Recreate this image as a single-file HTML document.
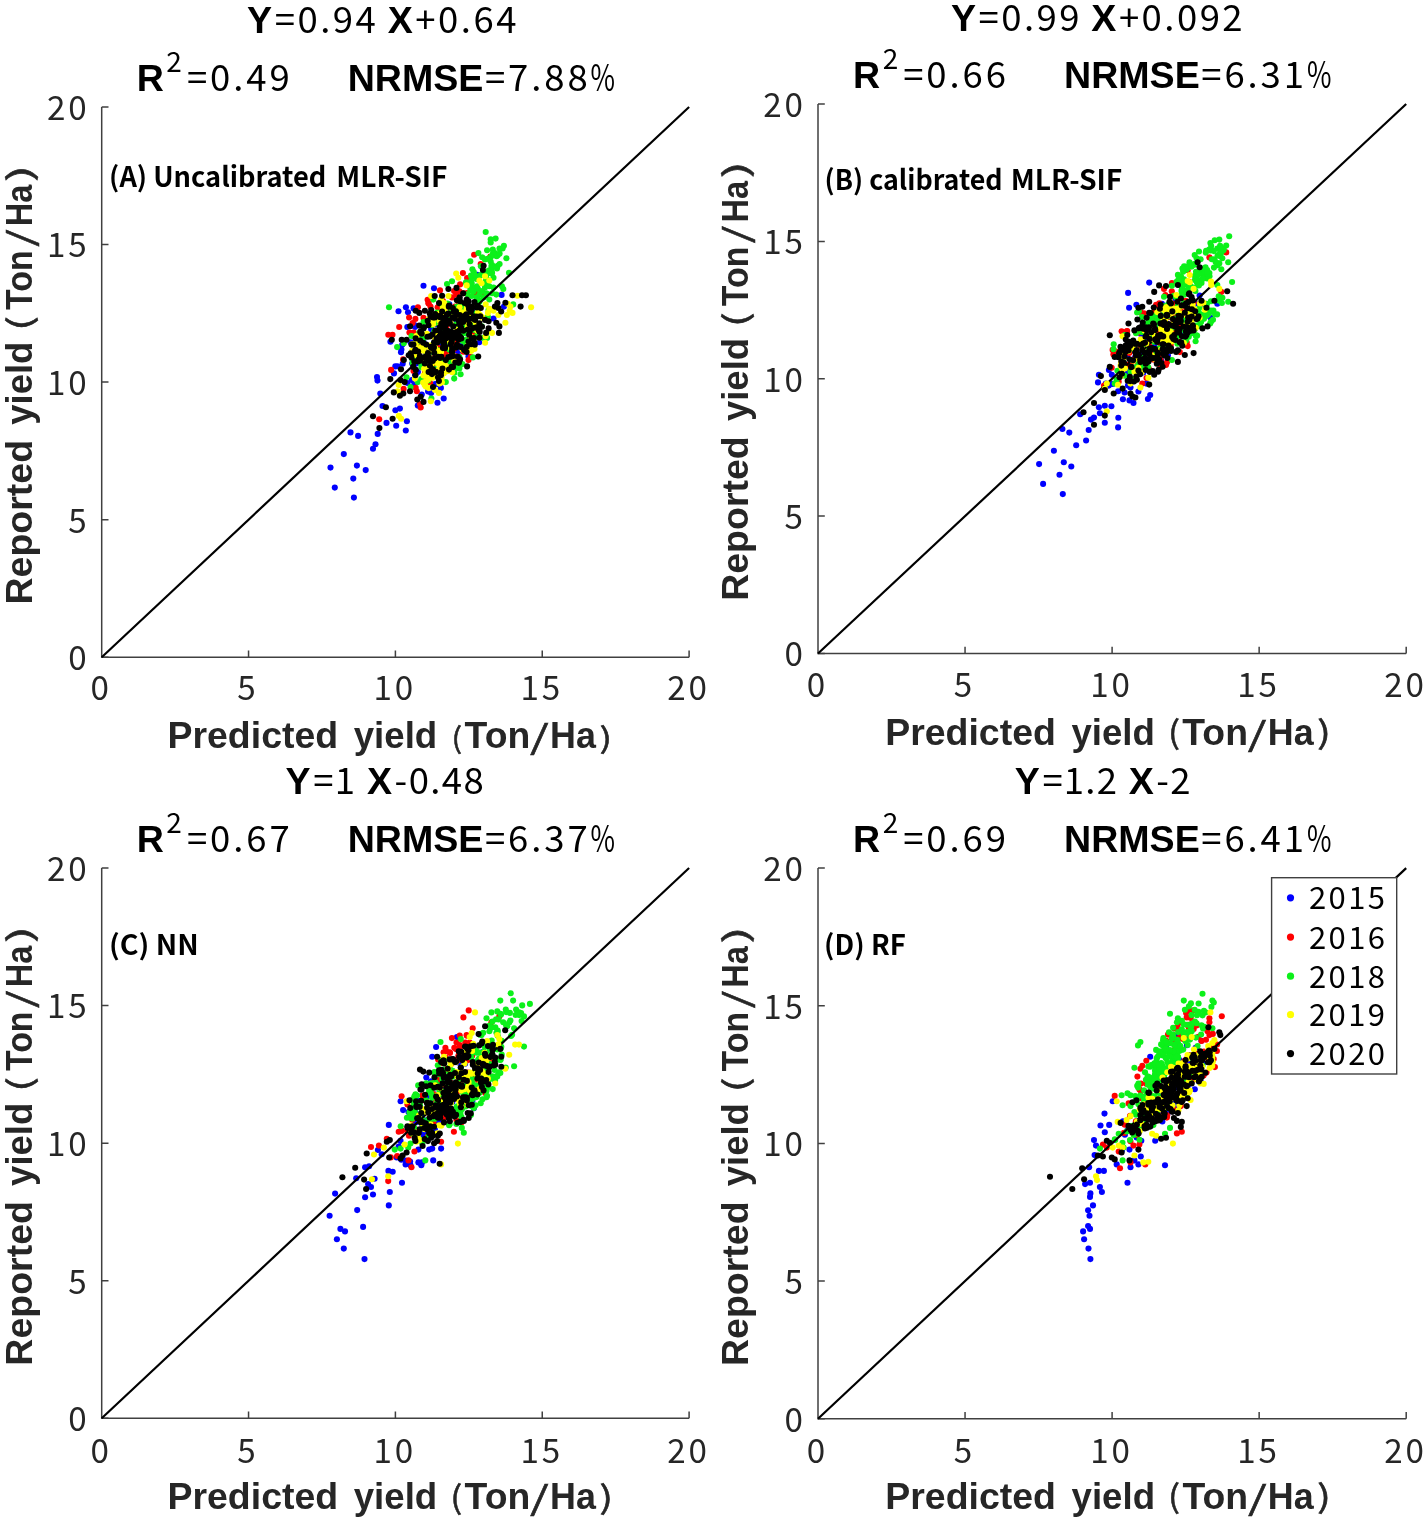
<!DOCTYPE html>
<html lang="en"><head><meta charset="utf-8"><title>Yield scatter plots</title>
<style>html,body{margin:0;padding:0;background:#fff}svg{display:block}</style></head>
<body>
<svg width="1425" height="1520" viewBox="0 0 1425 1520">
<rect width="1425" height="1520" fill="#fff"/>
<path d="M101.7 107.0V657.2H689.1" fill="none" stroke="#404040" stroke-width="1.5"/>
<path d="M101.7 657.20h6.8M248.55 657.2v-6.8M101.7 519.65h6.8M395.40 657.2v-6.8M101.7 382.10h6.8M542.25 657.2v-6.8M101.7 244.55h6.8M689.10 657.2v-6.8M101.7 107.00h6.8" fill="none" stroke="#404040" stroke-width="1.5"/>
<text x="89.50" y="670.10" text-anchor="end" font-family="'Noto Sans CJK JP','DejaVu Sans',sans-serif" font-weight="400" font-size="33.2" letter-spacing="2.8" fill="#262626">0</text>
<text x="101.10" y="700.40" text-anchor="middle" font-family="'Noto Sans CJK JP','DejaVu Sans',sans-serif" font-weight="400" font-size="33.2" letter-spacing="2.8" fill="#262626">0</text>
<text x="89.50" y="532.55" text-anchor="end" font-family="'Noto Sans CJK JP','DejaVu Sans',sans-serif" font-weight="400" font-size="33.2" letter-spacing="2.8" fill="#262626">5</text>
<text x="247.95" y="700.40" text-anchor="middle" font-family="'Noto Sans CJK JP','DejaVu Sans',sans-serif" font-weight="400" font-size="33.2" letter-spacing="2.8" fill="#262626">5</text>
<text x="89.50" y="395.00" text-anchor="end" font-family="'Noto Sans CJK JP','DejaVu Sans',sans-serif" font-weight="400" font-size="33.2" letter-spacing="2.8" fill="#262626">10</text>
<text x="394.80" y="700.40" text-anchor="middle" font-family="'Noto Sans CJK JP','DejaVu Sans',sans-serif" font-weight="400" font-size="33.2" letter-spacing="2.8" fill="#262626">10</text>
<text x="89.50" y="257.45" text-anchor="end" font-family="'Noto Sans CJK JP','DejaVu Sans',sans-serif" font-weight="400" font-size="33.2" letter-spacing="2.8" fill="#262626">15</text>
<text x="541.65" y="700.40" text-anchor="middle" font-family="'Noto Sans CJK JP','DejaVu Sans',sans-serif" font-weight="400" font-size="33.2" letter-spacing="2.8" fill="#262626">15</text>
<text x="89.50" y="119.90" text-anchor="end" font-family="'Noto Sans CJK JP','DejaVu Sans',sans-serif" font-weight="400" font-size="33.2" letter-spacing="2.8" fill="#262626">20</text>
<text x="688.50" y="700.40" text-anchor="middle" font-family="'Noto Sans CJK JP','DejaVu Sans',sans-serif" font-weight="400" font-size="33.2" letter-spacing="2.8" fill="#262626">20</text>
<path d="M818.0 104.0V653.5H1406.2" fill="none" stroke="#404040" stroke-width="1.5"/>
<path d="M818.0 653.50h6.8M965.05 653.5v-6.8M818.0 516.12h6.8M1112.10 653.5v-6.8M818.0 378.75h6.8M1259.15 653.5v-6.8M818.0 241.38h6.8M1406.20 653.5v-6.8M818.0 104.00h6.8" fill="none" stroke="#404040" stroke-width="1.5"/>
<text x="805.80" y="666.40" text-anchor="end" font-family="'Noto Sans CJK JP','DejaVu Sans',sans-serif" font-weight="400" font-size="33.2" letter-spacing="2.8" fill="#262626">0</text>
<text x="817.40" y="696.70" text-anchor="middle" font-family="'Noto Sans CJK JP','DejaVu Sans',sans-serif" font-weight="400" font-size="33.2" letter-spacing="2.8" fill="#262626">0</text>
<text x="805.80" y="529.02" text-anchor="end" font-family="'Noto Sans CJK JP','DejaVu Sans',sans-serif" font-weight="400" font-size="33.2" letter-spacing="2.8" fill="#262626">5</text>
<text x="964.45" y="696.70" text-anchor="middle" font-family="'Noto Sans CJK JP','DejaVu Sans',sans-serif" font-weight="400" font-size="33.2" letter-spacing="2.8" fill="#262626">5</text>
<text x="805.80" y="391.65" text-anchor="end" font-family="'Noto Sans CJK JP','DejaVu Sans',sans-serif" font-weight="400" font-size="33.2" letter-spacing="2.8" fill="#262626">10</text>
<text x="1111.50" y="696.70" text-anchor="middle" font-family="'Noto Sans CJK JP','DejaVu Sans',sans-serif" font-weight="400" font-size="33.2" letter-spacing="2.8" fill="#262626">10</text>
<text x="805.80" y="254.28" text-anchor="end" font-family="'Noto Sans CJK JP','DejaVu Sans',sans-serif" font-weight="400" font-size="33.2" letter-spacing="2.8" fill="#262626">15</text>
<text x="1258.55" y="696.70" text-anchor="middle" font-family="'Noto Sans CJK JP','DejaVu Sans',sans-serif" font-weight="400" font-size="33.2" letter-spacing="2.8" fill="#262626">15</text>
<text x="805.80" y="116.90" text-anchor="end" font-family="'Noto Sans CJK JP','DejaVu Sans',sans-serif" font-weight="400" font-size="33.2" letter-spacing="2.8" fill="#262626">20</text>
<text x="1405.60" y="696.70" text-anchor="middle" font-family="'Noto Sans CJK JP','DejaVu Sans',sans-serif" font-weight="400" font-size="33.2" letter-spacing="2.8" fill="#262626">20</text>
<path d="M101.7 868.0V1418.3H689.1" fill="none" stroke="#404040" stroke-width="1.5"/>
<path d="M101.7 1418.30h6.8M248.55 1418.3v-6.8M101.7 1280.72h6.8M395.40 1418.3v-6.8M101.7 1143.15h6.8M542.25 1418.3v-6.8M101.7 1005.57h6.8M689.10 1418.3v-6.8M101.7 868.00h6.8" fill="none" stroke="#404040" stroke-width="1.5"/>
<text x="89.50" y="1431.20" text-anchor="end" font-family="'Noto Sans CJK JP','DejaVu Sans',sans-serif" font-weight="400" font-size="33.2" letter-spacing="2.8" fill="#262626">0</text>
<text x="101.10" y="1462.50" text-anchor="middle" font-family="'Noto Sans CJK JP','DejaVu Sans',sans-serif" font-weight="400" font-size="33.2" letter-spacing="2.8" fill="#262626">0</text>
<text x="89.50" y="1293.62" text-anchor="end" font-family="'Noto Sans CJK JP','DejaVu Sans',sans-serif" font-weight="400" font-size="33.2" letter-spacing="2.8" fill="#262626">5</text>
<text x="247.95" y="1462.50" text-anchor="middle" font-family="'Noto Sans CJK JP','DejaVu Sans',sans-serif" font-weight="400" font-size="33.2" letter-spacing="2.8" fill="#262626">5</text>
<text x="89.50" y="1156.05" text-anchor="end" font-family="'Noto Sans CJK JP','DejaVu Sans',sans-serif" font-weight="400" font-size="33.2" letter-spacing="2.8" fill="#262626">10</text>
<text x="394.80" y="1462.50" text-anchor="middle" font-family="'Noto Sans CJK JP','DejaVu Sans',sans-serif" font-weight="400" font-size="33.2" letter-spacing="2.8" fill="#262626">10</text>
<text x="89.50" y="1018.47" text-anchor="end" font-family="'Noto Sans CJK JP','DejaVu Sans',sans-serif" font-weight="400" font-size="33.2" letter-spacing="2.8" fill="#262626">15</text>
<text x="541.65" y="1462.50" text-anchor="middle" font-family="'Noto Sans CJK JP','DejaVu Sans',sans-serif" font-weight="400" font-size="33.2" letter-spacing="2.8" fill="#262626">15</text>
<text x="89.50" y="880.90" text-anchor="end" font-family="'Noto Sans CJK JP','DejaVu Sans',sans-serif" font-weight="400" font-size="33.2" letter-spacing="2.8" fill="#262626">20</text>
<text x="688.50" y="1462.50" text-anchor="middle" font-family="'Noto Sans CJK JP','DejaVu Sans',sans-serif" font-weight="400" font-size="33.2" letter-spacing="2.8" fill="#262626">20</text>
<path d="M818.0 868.1V1418.7H1406.2" fill="none" stroke="#404040" stroke-width="1.5"/>
<path d="M818.0 1418.70h6.8M965.05 1418.7v-6.8M818.0 1281.05h6.8M1112.10 1418.7v-6.8M818.0 1143.40h6.8M1259.15 1418.7v-6.8M818.0 1005.75h6.8M1406.20 1418.7v-6.8M818.0 868.10h6.8" fill="none" stroke="#404040" stroke-width="1.5"/>
<text x="805.80" y="1431.60" text-anchor="end" font-family="'Noto Sans CJK JP','DejaVu Sans',sans-serif" font-weight="400" font-size="33.2" letter-spacing="2.8" fill="#262626">0</text>
<text x="817.40" y="1462.50" text-anchor="middle" font-family="'Noto Sans CJK JP','DejaVu Sans',sans-serif" font-weight="400" font-size="33.2" letter-spacing="2.8" fill="#262626">0</text>
<text x="805.80" y="1293.95" text-anchor="end" font-family="'Noto Sans CJK JP','DejaVu Sans',sans-serif" font-weight="400" font-size="33.2" letter-spacing="2.8" fill="#262626">5</text>
<text x="964.45" y="1462.50" text-anchor="middle" font-family="'Noto Sans CJK JP','DejaVu Sans',sans-serif" font-weight="400" font-size="33.2" letter-spacing="2.8" fill="#262626">5</text>
<text x="805.80" y="1156.30" text-anchor="end" font-family="'Noto Sans CJK JP','DejaVu Sans',sans-serif" font-weight="400" font-size="33.2" letter-spacing="2.8" fill="#262626">10</text>
<text x="1111.50" y="1462.50" text-anchor="middle" font-family="'Noto Sans CJK JP','DejaVu Sans',sans-serif" font-weight="400" font-size="33.2" letter-spacing="2.8" fill="#262626">10</text>
<text x="805.80" y="1018.65" text-anchor="end" font-family="'Noto Sans CJK JP','DejaVu Sans',sans-serif" font-weight="400" font-size="33.2" letter-spacing="2.8" fill="#262626">15</text>
<text x="1258.55" y="1462.50" text-anchor="middle" font-family="'Noto Sans CJK JP','DejaVu Sans',sans-serif" font-weight="400" font-size="33.2" letter-spacing="2.8" fill="#262626">15</text>
<text x="805.80" y="881.00" text-anchor="end" font-family="'Noto Sans CJK JP','DejaVu Sans',sans-serif" font-weight="400" font-size="33.2" letter-spacing="2.8" fill="#262626">20</text>
<text x="1405.60" y="1462.50" text-anchor="middle" font-family="'Noto Sans CJK JP','DejaVu Sans',sans-serif" font-weight="400" font-size="33.2" letter-spacing="2.8" fill="#262626">20</text>
<g fill="#0000ff"><circle cx="353.9" cy="497.6" r="3.05"/><circle cx="334.8" cy="487.6" r="3.05"/><circle cx="353.3" cy="478.6" r="3.05"/><circle cx="330.5" cy="467.6" r="3.05"/><circle cx="356.9" cy="465.6" r="3.05"/><circle cx="365.7" cy="470.1" r="3.05"/><circle cx="343.8" cy="454.1" r="3.05"/><circle cx="373.0" cy="448.7" r="3.05"/><circle cx="375.5" cy="444.2" r="3.05"/><circle cx="350.5" cy="432.4" r="3.05"/><circle cx="358.1" cy="435.9" r="3.05"/><circle cx="377.7" cy="433.9" r="3.05"/><circle cx="405.8" cy="430.5" r="3.05"/><circle cx="396.2" cy="425.8" r="3.05"/><circle cx="406.9" cy="421.3" r="3.05"/><circle cx="386.5" cy="422.9" r="3.05"/><circle cx="395.4" cy="410.3" r="3.05"/><circle cx="399.9" cy="408.6" r="3.05"/><circle cx="382.5" cy="406.0" r="3.05"/><circle cx="380.3" cy="393.5" r="3.05"/><circle cx="377.5" cy="380.6" r="3.05"/><circle cx="437.5" cy="402.8" r="3.05"/><circle cx="443.7" cy="398.5" r="3.05"/><circle cx="440.9" cy="387.9" r="3.05"/><circle cx="421.8" cy="394.6" r="3.05"/><circle cx="501.6" cy="294.9" r="3.05"/><circle cx="442.1" cy="319.2" r="3.05"/><circle cx="504.0" cy="306.6" r="3.05"/><circle cx="493.5" cy="318.5" r="3.05"/><circle cx="477.3" cy="274.9" r="3.05"/><circle cx="423.5" cy="285.8" r="3.05"/><circle cx="434.0" cy="288.3" r="3.05"/><circle cx="398.5" cy="311.2" r="3.05"/><circle cx="405.9" cy="307.3" r="3.05"/><circle cx="408.0" cy="312.2" r="3.05"/><circle cx="413.6" cy="308.4" r="3.05"/><circle cx="407.3" cy="327.0" r="3.05"/><circle cx="415.0" cy="327.0" r="3.05"/><circle cx="390.4" cy="341.8" r="3.05"/><circle cx="401.0" cy="352.3" r="3.05"/><circle cx="412.2" cy="363.6" r="3.05"/><circle cx="416.4" cy="363.6" r="3.05"/><circle cx="395.3" cy="366.4" r="3.05"/><circle cx="377.0" cy="377.0" r="3.05"/><circle cx="417.9" cy="372.0" r="3.05"/><circle cx="437.6" cy="321.4" r="3.05"/><circle cx="468.5" cy="356.6" r="3.05"/><circle cx="479.2" cy="342.3" r="3.05"/><circle cx="431.1" cy="392.9" r="3.05"/><circle cx="428.1" cy="391.4" r="3.05"/><circle cx="417.8" cy="405.6" r="3.05"/><circle cx="411.9" cy="380.1" r="3.05"/><circle cx="407.5" cy="383.0" r="3.05"/><circle cx="431.1" cy="328.9" r="3.05"/><circle cx="423.2" cy="345.5" r="3.05"/><circle cx="468.5" cy="331.2" r="3.05"/><circle cx="443.8" cy="366.3" r="3.05"/><circle cx="461.6" cy="327.9" r="3.05"/><circle cx="454.4" cy="314.5" r="3.05"/><circle cx="472.4" cy="308.9" r="3.05"/><circle cx="446.3" cy="354.6" r="3.05"/><circle cx="450.4" cy="332.2" r="3.05"/><circle cx="442.0" cy="331.0" r="3.05"/><circle cx="428.6" cy="353.4" r="3.05"/><circle cx="460.1" cy="350.6" r="3.05"/><circle cx="460.8" cy="344.5" r="3.05"/><circle cx="451.8" cy="309.1" r="3.05"/><circle cx="456.8" cy="355.6" r="3.05"/><circle cx="472.0" cy="307.4" r="3.05"/><circle cx="419.1" cy="343.8" r="3.05"/><circle cx="436.1" cy="324.2" r="3.05"/><circle cx="474.0" cy="333.5" r="3.05"/><circle cx="434.2" cy="342.5" r="3.05"/><circle cx="456.0" cy="321.0" r="3.05"/><circle cx="425.7" cy="352.0" r="3.05"/><circle cx="429.2" cy="349.1" r="3.05"/><circle cx="462.1" cy="347.4" r="3.05"/><circle cx="425.2" cy="366.9" r="3.05"/><circle cx="442.3" cy="367.1" r="3.05"/><circle cx="440.6" cy="325.2" r="3.05"/><circle cx="438.7" cy="314.8" r="3.05"/><circle cx="431.8" cy="345.9" r="3.05"/><circle cx="454.5" cy="354.6" r="3.05"/><circle cx="414.5" cy="325.1" r="3.05"/><circle cx="437.3" cy="322.6" r="3.05"/><circle cx="397.5" cy="366.3" r="3.05"/><circle cx="402.7" cy="363.7" r="3.05"/><circle cx="437.7" cy="384.1" r="3.05"/><circle cx="431.0" cy="373.5" r="3.05"/><circle cx="394.0" cy="373.4" r="3.05"/><circle cx="415.1" cy="374.6" r="3.05"/><circle cx="410.6" cy="342.2" r="3.05"/><circle cx="457.2" cy="351.9" r="3.05"/><circle cx="414.2" cy="385.1" r="3.05"/><circle cx="402.2" cy="344.7" r="3.05"/><circle cx="451.4" cy="352.1" r="3.05"/><circle cx="453.9" cy="358.7" r="3.05"/><circle cx="436.1" cy="343.9" r="3.05"/><circle cx="434.3" cy="369.7" r="3.05"/><circle cx="449.4" cy="304.4" r="3.05"/><circle cx="443.9" cy="359.6" r="3.05"/><circle cx="423.6" cy="342.1" r="3.05"/><circle cx="453.9" cy="343.4" r="3.05"/><circle cx="464.9" cy="343.6" r="3.05"/><circle cx="441.2" cy="345.5" r="3.05"/><circle cx="401.4" cy="349.5" r="3.05"/><circle cx="419.3" cy="345.2" r="3.05"/><circle cx="435.2" cy="384.1" r="3.05"/></g>
<g fill="#ff0000"><circle cx="379.2" cy="419.3" r="3.05"/><circle cx="420.7" cy="407.5" r="3.05"/><circle cx="420.1" cy="404.1" r="3.05"/><circle cx="415.7" cy="387.9" r="3.05"/><circle cx="416.8" cy="391.2" r="3.05"/><circle cx="474.1" cy="254.8" r="3.05"/><circle cx="490.3" cy="256.6" r="3.05"/><circle cx="480.7" cy="264.0" r="3.05"/><circle cx="462.9" cy="273.1" r="3.05"/><circle cx="467.1" cy="278.1" r="3.05"/><circle cx="460.1" cy="284.4" r="3.05"/><circle cx="440.0" cy="290.4" r="3.05"/><circle cx="475.9" cy="293.2" r="3.05"/><circle cx="481.5" cy="293.9" r="3.05"/><circle cx="456.2" cy="294.6" r="3.05"/><circle cx="452.0" cy="297.4" r="3.05"/><circle cx="459.0" cy="304.4" r="3.05"/><circle cx="454.1" cy="291.1" r="3.05"/><circle cx="417.9" cy="307.3" r="3.05"/><circle cx="428.4" cy="303.1" r="3.05"/><circle cx="430.5" cy="306.6" r="3.05"/><circle cx="423.5" cy="317.9" r="3.05"/><circle cx="399.2" cy="327.0" r="3.05"/><circle cx="409.4" cy="332.6" r="3.05"/><circle cx="413.6" cy="332.6" r="3.05"/><circle cx="388.3" cy="334.7" r="3.05"/><circle cx="392.5" cy="334.7" r="3.05"/><circle cx="403.1" cy="359.4" r="3.05"/><circle cx="416.4" cy="353.7" r="3.05"/><circle cx="391.1" cy="369.9" r="3.05"/><circle cx="424.9" cy="372.0" r="3.05"/><circle cx="437.6" cy="307.3" r="3.05"/><circle cx="468.5" cy="360.1" r="3.05"/><circle cx="403.6" cy="388.9" r="3.05"/><circle cx="427.6" cy="378.1" r="3.05"/><circle cx="430.1" cy="383.0" r="3.05"/><circle cx="427.2" cy="369.3" r="3.05"/><circle cx="470.8" cy="357.0" r="3.05"/><circle cx="461.1" cy="306.2" r="3.05"/><circle cx="446.2" cy="333.6" r="3.05"/><circle cx="436.4" cy="341.2" r="3.05"/><circle cx="421.5" cy="345.3" r="3.05"/><circle cx="435.0" cy="341.5" r="3.05"/><circle cx="444.4" cy="311.8" r="3.05"/><circle cx="455.1" cy="312.8" r="3.05"/><circle cx="450.6" cy="308.8" r="3.05"/><circle cx="451.4" cy="332.6" r="3.05"/><circle cx="447.4" cy="353.9" r="3.05"/><circle cx="454.9" cy="306.6" r="3.05"/><circle cx="455.7" cy="343.4" r="3.05"/><circle cx="445.1" cy="352.7" r="3.05"/><circle cx="441.5" cy="316.1" r="3.05"/><circle cx="443.0" cy="329.1" r="3.05"/><circle cx="463.6" cy="333.1" r="3.05"/><circle cx="458.6" cy="326.9" r="3.05"/><circle cx="470.9" cy="332.0" r="3.05"/><circle cx="467.4" cy="340.0" r="3.05"/><circle cx="421.3" cy="342.1" r="3.05"/><circle cx="461.7" cy="340.3" r="3.05"/><circle cx="441.1" cy="329.8" r="3.05"/><circle cx="418.4" cy="354.5" r="3.05"/><circle cx="422.4" cy="362.9" r="3.05"/><circle cx="418.9" cy="361.3" r="3.05"/><circle cx="438.7" cy="339.5" r="3.05"/><circle cx="437.7" cy="348.2" r="3.05"/><circle cx="465.8" cy="351.0" r="3.05"/><circle cx="439.4" cy="348.4" r="3.05"/><circle cx="473.1" cy="342.0" r="3.05"/><circle cx="469.0" cy="314.6" r="3.05"/><circle cx="439.3" cy="352.9" r="3.05"/><circle cx="424.8" cy="347.1" r="3.05"/><circle cx="474.5" cy="320.0" r="3.05"/><circle cx="435.3" cy="357.0" r="3.05"/><circle cx="457.6" cy="315.2" r="3.05"/><circle cx="466.4" cy="308.5" r="3.05"/><circle cx="448.7" cy="332.8" r="3.05"/><circle cx="448.2" cy="315.8" r="3.05"/><circle cx="418.9" cy="358.7" r="3.05"/><circle cx="443.0" cy="301.0" r="3.05"/><circle cx="427.6" cy="299.8" r="3.05"/><circle cx="459.4" cy="291.3" r="3.05"/><circle cx="467.0" cy="293.1" r="3.05"/><circle cx="452.0" cy="347.7" r="3.05"/><circle cx="419.3" cy="359.6" r="3.05"/><circle cx="453.6" cy="308.1" r="3.05"/><circle cx="417.4" cy="349.8" r="3.05"/><circle cx="446.0" cy="317.7" r="3.05"/><circle cx="413.5" cy="370.9" r="3.05"/><circle cx="444.9" cy="357.5" r="3.05"/><circle cx="433.3" cy="365.8" r="3.05"/><circle cx="463.3" cy="293.3" r="3.05"/><circle cx="448.6" cy="317.1" r="3.05"/><circle cx="412.6" cy="323.0" r="3.05"/><circle cx="457.1" cy="341.0" r="3.05"/><circle cx="426.4" cy="374.4" r="3.05"/><circle cx="434.8" cy="350.7" r="3.05"/><circle cx="446.4" cy="327.1" r="3.05"/><circle cx="471.6" cy="319.8" r="3.05"/><circle cx="456.2" cy="356.5" r="3.05"/><circle cx="415.5" cy="353.5" r="3.05"/><circle cx="428.6" cy="303.6" r="3.05"/><circle cx="438.2" cy="335.1" r="3.05"/><circle cx="445.5" cy="318.1" r="3.05"/><circle cx="474.4" cy="332.3" r="3.05"/><circle cx="415.4" cy="318.9" r="3.05"/><circle cx="450.5" cy="363.9" r="3.05"/><circle cx="463.4" cy="351.7" r="3.05"/><circle cx="475.3" cy="305.1" r="3.05"/><circle cx="409.1" cy="317.5" r="3.05"/><circle cx="453.9" cy="349.0" r="3.05"/><circle cx="444.8" cy="332.7" r="3.05"/><circle cx="415.7" cy="335.8" r="3.05"/><circle cx="443.9" cy="307.4" r="3.05"/></g>
<g fill="#0cf01a"><circle cx="431.4" cy="398.5" r="3.05"/><circle cx="485.7" cy="232.0" r="3.05"/><circle cx="490.7" cy="239.4" r="3.05"/><circle cx="495.6" cy="238.6" r="3.05"/><circle cx="490.7" cy="242.5" r="3.05"/><circle cx="502.6" cy="248.5" r="3.05"/><circle cx="487.1" cy="250.3" r="3.05"/><circle cx="492.8" cy="249.6" r="3.05"/><circle cx="494.9" cy="253.1" r="3.05"/><circle cx="497.7" cy="255.2" r="3.05"/><circle cx="478.4" cy="253.1" r="3.05"/><circle cx="482.2" cy="257.3" r="3.05"/><circle cx="485.0" cy="259.4" r="3.05"/><circle cx="470.3" cy="261.2" r="3.05"/><circle cx="490.7" cy="261.5" r="3.05"/><circle cx="492.1" cy="265.0" r="3.05"/><circle cx="497.7" cy="265.7" r="3.05"/><circle cx="472.4" cy="269.3" r="3.05"/><circle cx="473.8" cy="272.1" r="3.05"/><circle cx="489.3" cy="270.7" r="3.05"/><circle cx="491.4" cy="273.5" r="3.05"/><circle cx="509.0" cy="272.8" r="3.05"/><circle cx="493.5" cy="277.7" r="3.05"/><circle cx="452.0" cy="281.2" r="3.05"/><circle cx="447.0" cy="284.0" r="3.05"/><circle cx="471.7" cy="283.3" r="3.05"/><circle cx="473.8" cy="287.6" r="3.05"/><circle cx="470.3" cy="290.4" r="3.05"/><circle cx="485.0" cy="287.6" r="3.05"/><circle cx="489.3" cy="286.2" r="3.05"/><circle cx="493.5" cy="287.6" r="3.05"/><circle cx="501.9" cy="286.2" r="3.05"/><circle cx="503.3" cy="289.0" r="3.05"/><circle cx="496.3" cy="294.6" r="3.05"/><circle cx="489.3" cy="299.5" r="3.05"/><circle cx="476.6" cy="297.4" r="3.05"/><circle cx="471.7" cy="296.0" r="3.05"/><circle cx="513.2" cy="304.4" r="3.05"/><circle cx="451.3" cy="309.4" r="3.05"/><circle cx="457.6" cy="310.8" r="3.05"/><circle cx="463.2" cy="310.8" r="3.05"/><circle cx="468.1" cy="309.4" r="3.05"/><circle cx="442.1" cy="323.4" r="3.05"/><circle cx="447.0" cy="318.5" r="3.05"/><circle cx="449.1" cy="322.7" r="3.05"/><circle cx="476.6" cy="325.6" r="3.05"/><circle cx="482.2" cy="291.1" r="3.05"/><circle cx="479.4" cy="294.6" r="3.05"/><circle cx="483.6" cy="297.4" r="3.05"/><circle cx="478.0" cy="289.0" r="3.05"/><circle cx="486.4" cy="293.2" r="3.05"/><circle cx="492.1" cy="293.2" r="3.05"/><circle cx="480.8" cy="274.9" r="3.05"/><circle cx="476.6" cy="279.1" r="3.05"/><circle cx="485.7" cy="281.9" r="3.05"/><circle cx="389.0" cy="307.3" r="3.05"/><circle cx="419.3" cy="332.6" r="3.05"/><circle cx="403.8" cy="343.2" r="3.05"/><circle cx="397.1" cy="347.1" r="3.05"/><circle cx="415.0" cy="358.0" r="3.05"/><circle cx="421.4" cy="367.1" r="3.05"/><circle cx="433.3" cy="299.6" r="3.05"/><circle cx="453.0" cy="313.6" r="3.05"/><circle cx="423.5" cy="322.1" r="3.05"/><circle cx="457.3" cy="363.6" r="3.05"/><circle cx="459.4" cy="368.5" r="3.05"/><circle cx="454.4" cy="372.7" r="3.05"/><circle cx="487.1" cy="337.9" r="3.05"/><circle cx="483.1" cy="337.9" r="3.05"/><circle cx="477.2" cy="335.9" r="3.05"/><circle cx="460.6" cy="374.2" r="3.05"/><circle cx="454.2" cy="378.6" r="3.05"/><circle cx="445.8" cy="382.1" r="3.05"/><circle cx="410.5" cy="387.0" r="3.05"/><circle cx="406.5" cy="377.2" r="3.05"/><circle cx="417.8" cy="382.1" r="3.05"/><circle cx="421.3" cy="379.1" r="3.05"/><circle cx="412.4" cy="359.5" r="3.05"/><circle cx="456.0" cy="367.9" r="3.05"/><circle cx="481.7" cy="326.4" r="3.05"/><circle cx="461.2" cy="306.7" r="3.05"/><circle cx="426.7" cy="353.6" r="3.05"/><circle cx="451.6" cy="357.5" r="3.05"/><circle cx="465.8" cy="340.2" r="3.05"/><circle cx="464.4" cy="307.1" r="3.05"/><circle cx="468.0" cy="340.6" r="3.05"/><circle cx="429.0" cy="358.0" r="3.05"/><circle cx="414.9" cy="352.2" r="3.05"/><circle cx="418.2" cy="341.5" r="3.05"/><circle cx="437.3" cy="352.5" r="3.05"/><circle cx="456.2" cy="324.3" r="3.05"/><circle cx="456.5" cy="306.9" r="3.05"/><circle cx="433.6" cy="343.9" r="3.05"/><circle cx="416.4" cy="351.0" r="3.05"/><circle cx="451.6" cy="340.0" r="3.05"/><circle cx="423.4" cy="359.9" r="3.05"/><circle cx="432.9" cy="351.9" r="3.05"/><circle cx="437.5" cy="323.1" r="3.05"/><circle cx="451.1" cy="341.3" r="3.05"/><circle cx="430.8" cy="351.0" r="3.05"/><circle cx="451.4" cy="338.7" r="3.05"/><circle cx="444.1" cy="331.9" r="3.05"/><circle cx="450.2" cy="342.9" r="3.05"/><circle cx="458.2" cy="331.9" r="3.05"/><circle cx="468.0" cy="330.7" r="3.05"/><circle cx="451.3" cy="340.8" r="3.05"/><circle cx="433.2" cy="346.7" r="3.05"/><circle cx="464.9" cy="329.2" r="3.05"/><circle cx="475.3" cy="313.6" r="3.05"/><circle cx="477.9" cy="327.1" r="3.05"/><circle cx="431.8" cy="325.1" r="3.05"/><circle cx="474.0" cy="315.9" r="3.05"/><circle cx="435.8" cy="350.9" r="3.05"/><circle cx="423.0" cy="349.1" r="3.05"/><circle cx="474.6" cy="329.9" r="3.05"/><circle cx="461.6" cy="307.7" r="3.05"/><circle cx="447.7" cy="341.0" r="3.05"/><circle cx="459.6" cy="339.3" r="3.05"/><circle cx="447.0" cy="313.7" r="3.05"/><circle cx="456.8" cy="313.8" r="3.05"/><circle cx="423.3" cy="339.1" r="3.05"/><circle cx="449.3" cy="349.6" r="3.05"/><circle cx="465.9" cy="333.5" r="3.05"/><circle cx="440.8" cy="319.1" r="3.05"/><circle cx="473.8" cy="321.1" r="3.05"/><circle cx="465.4" cy="326.4" r="3.05"/><circle cx="428.0" cy="336.2" r="3.05"/><circle cx="442.1" cy="340.9" r="3.05"/><circle cx="451.5" cy="349.4" r="3.05"/><circle cx="421.4" cy="364.2" r="3.05"/><circle cx="450.5" cy="360.5" r="3.05"/><circle cx="442.0" cy="359.6" r="3.05"/><circle cx="474.1" cy="339.8" r="3.05"/><circle cx="434.3" cy="368.8" r="3.05"/><circle cx="420.9" cy="335.1" r="3.05"/><circle cx="451.4" cy="340.8" r="3.05"/><circle cx="468.7" cy="318.8" r="3.05"/><circle cx="462.8" cy="305.6" r="3.05"/><circle cx="461.0" cy="321.9" r="3.05"/><circle cx="434.3" cy="331.3" r="3.05"/><circle cx="465.5" cy="340.3" r="3.05"/><circle cx="488.5" cy="310.1" r="3.05"/><circle cx="461.1" cy="335.6" r="3.05"/><circle cx="432.8" cy="345.5" r="3.05"/><circle cx="438.0" cy="350.3" r="3.05"/><circle cx="479.0" cy="300.1" r="3.05"/><circle cx="463.5" cy="315.3" r="3.05"/><circle cx="450.4" cy="362.1" r="3.05"/><circle cx="441.8" cy="304.3" r="3.05"/><circle cx="460.0" cy="306.4" r="3.05"/><circle cx="420.2" cy="333.3" r="3.05"/><circle cx="462.4" cy="364.1" r="3.05"/><circle cx="427.6" cy="336.3" r="3.05"/><circle cx="411.5" cy="336.0" r="3.05"/><circle cx="434.4" cy="371.1" r="3.05"/><circle cx="439.6" cy="373.1" r="3.05"/><circle cx="459.6" cy="305.8" r="3.05"/><circle cx="417.1" cy="351.2" r="3.05"/><circle cx="472.5" cy="324.8" r="3.05"/><circle cx="440.0" cy="352.2" r="3.05"/><circle cx="465.9" cy="343.7" r="3.05"/><circle cx="473.0" cy="357.4" r="3.05"/><circle cx="437.2" cy="312.5" r="3.05"/><circle cx="412.7" cy="362.9" r="3.05"/><circle cx="462.7" cy="341.0" r="3.05"/><circle cx="479.4" cy="301.9" r="3.05"/><circle cx="469.5" cy="315.8" r="3.05"/><circle cx="423.4" cy="365.0" r="3.05"/><circle cx="447.5" cy="303.5" r="3.05"/><circle cx="470.7" cy="343.5" r="3.05"/><circle cx="459.3" cy="356.7" r="3.05"/><circle cx="428.2" cy="380.5" r="3.05"/><circle cx="424.1" cy="364.0" r="3.05"/><circle cx="487.9" cy="316.7" r="3.05"/><circle cx="467.4" cy="294.2" r="3.05"/><circle cx="491.6" cy="270.1" r="3.05"/><circle cx="466.0" cy="282.3" r="3.05"/><circle cx="477.1" cy="286.4" r="3.05"/><circle cx="471.7" cy="276.7" r="3.05"/><circle cx="491.5" cy="265.8" r="3.05"/><circle cx="496.6" cy="256.2" r="3.05"/><circle cx="493.0" cy="253.4" r="3.05"/><circle cx="466.2" cy="283.2" r="3.05"/><circle cx="471.2" cy="280.7" r="3.05"/><circle cx="499.5" cy="248.5" r="3.05"/><circle cx="470.9" cy="275.6" r="3.05"/><circle cx="486.0" cy="277.2" r="3.05"/><circle cx="506.4" cy="258.2" r="3.05"/><circle cx="488.7" cy="270.5" r="3.05"/><circle cx="492.1" cy="272.9" r="3.05"/><circle cx="479.3" cy="276.1" r="3.05"/><circle cx="491.7" cy="267.2" r="3.05"/><circle cx="486.7" cy="282.4" r="3.05"/><circle cx="487.3" cy="273.8" r="3.05"/><circle cx="491.1" cy="256.6" r="3.05"/><circle cx="480.9" cy="266.2" r="3.05"/><circle cx="469.2" cy="285.9" r="3.05"/><circle cx="497.0" cy="268.4" r="3.05"/><circle cx="469.9" cy="283.9" r="3.05"/><circle cx="499.6" cy="264.0" r="3.05"/><circle cx="485.7" cy="274.1" r="3.05"/><circle cx="488.1" cy="280.6" r="3.05"/><circle cx="488.8" cy="258.5" r="3.05"/><circle cx="499.6" cy="253.5" r="3.05"/><circle cx="487.7" cy="258.7" r="3.05"/><circle cx="473.6" cy="291.6" r="3.05"/><circle cx="487.1" cy="280.1" r="3.05"/><circle cx="474.6" cy="274.5" r="3.05"/><circle cx="486.0" cy="277.9" r="3.05"/><circle cx="503.9" cy="245.7" r="3.05"/></g>
<line x1="101.7" y1="657.2" x2="689.1" y2="107.0" stroke="#000" stroke-width="2.2"/>
<g fill="#ffff00"><circle cx="398.8" cy="415.9" r="3.05"/><circle cx="401.1" cy="418.7" r="3.05"/><circle cx="430.8" cy="401.3" r="3.05"/><circle cx="397.7" cy="391.2" r="3.05"/><circle cx="456.2" cy="273.5" r="3.05"/><circle cx="458.3" cy="277.7" r="3.05"/><circle cx="466.7" cy="285.4" r="3.05"/><circle cx="479.4" cy="280.5" r="3.05"/><circle cx="481.5" cy="283.3" r="3.05"/><circle cx="485.0" cy="276.3" r="3.05"/><circle cx="489.3" cy="280.5" r="3.05"/><circle cx="448.4" cy="296.0" r="3.05"/><circle cx="444.2" cy="303.0" r="3.05"/><circle cx="442.8" cy="308.0" r="3.05"/><circle cx="485.7" cy="304.4" r="3.05"/><circle cx="489.3" cy="308.7" r="3.05"/><circle cx="487.9" cy="312.9" r="3.05"/><circle cx="482.2" cy="317.8" r="3.05"/><circle cx="507.6" cy="303.7" r="3.05"/><circle cx="509.7" cy="310.8" r="3.05"/><circle cx="512.5" cy="312.9" r="3.05"/><circle cx="506.9" cy="315.0" r="3.05"/><circle cx="531.1" cy="307.3" r="3.05"/><circle cx="505.4" cy="322.7" r="3.05"/><circle cx="468.9" cy="319.9" r="3.05"/><circle cx="459.0" cy="319.9" r="3.05"/><circle cx="450.6" cy="322.0" r="3.05"/><circle cx="517.4" cy="295.7" r="3.05"/><circle cx="493.5" cy="310.8" r="3.05"/><circle cx="498.4" cy="315.0" r="3.05"/><circle cx="510.4" cy="306.6" r="3.05"/><circle cx="431.2" cy="296.0" r="3.05"/><circle cx="441.1" cy="299.6" r="3.05"/><circle cx="433.3" cy="315.7" r="3.05"/><circle cx="431.9" cy="320.7" r="3.05"/><circle cx="436.9" cy="362.9" r="3.05"/><circle cx="440.4" cy="366.4" r="3.05"/><circle cx="444.6" cy="364.3" r="3.05"/><circle cx="433.3" cy="361.5" r="3.05"/><circle cx="447.4" cy="371.3" r="3.05"/><circle cx="427.7" cy="372.0" r="3.05"/><circle cx="423.5" cy="375.6" r="3.05"/><circle cx="485.1" cy="342.8" r="3.05"/><circle cx="492.0" cy="332.9" r="3.05"/><circle cx="452.2" cy="372.2" r="3.05"/><circle cx="439.9" cy="383.0" r="3.05"/><circle cx="438.9" cy="392.9" r="3.05"/><circle cx="435.0" cy="389.9" r="3.05"/><circle cx="424.7" cy="385.0" r="3.05"/><circle cx="426.2" cy="381.1" r="3.05"/><circle cx="398.7" cy="385.0" r="3.05"/><circle cx="438.9" cy="369.3" r="3.05"/><circle cx="443.9" cy="373.2" r="3.05"/><circle cx="448.8" cy="367.3" r="3.05"/><circle cx="438.9" cy="351.1" r="3.05"/><circle cx="435.0" cy="347.7" r="3.05"/><circle cx="457.6" cy="335.9" r="3.05"/><circle cx="454.7" cy="333.9" r="3.05"/><circle cx="435.0" cy="337.9" r="3.05"/><circle cx="427.2" cy="346.7" r="3.05"/><circle cx="462.5" cy="349.6" r="3.05"/><circle cx="471.4" cy="349.6" r="3.05"/><circle cx="474.3" cy="339.8" r="3.05"/><circle cx="485.6" cy="336.3" r="3.05"/><circle cx="477.7" cy="330.4" r="3.05"/><circle cx="475.7" cy="322.5" r="3.05"/><circle cx="471.5" cy="343.6" r="3.05"/><circle cx="427.0" cy="367.0" r="3.05"/><circle cx="462.4" cy="313.9" r="3.05"/><circle cx="433.1" cy="324.2" r="3.05"/><circle cx="449.2" cy="340.7" r="3.05"/><circle cx="452.9" cy="355.0" r="3.05"/><circle cx="477.2" cy="330.4" r="3.05"/><circle cx="441.1" cy="352.0" r="3.05"/><circle cx="454.2" cy="360.8" r="3.05"/><circle cx="424.0" cy="359.4" r="3.05"/><circle cx="430.4" cy="345.6" r="3.05"/><circle cx="452.6" cy="308.0" r="3.05"/><circle cx="426.9" cy="333.9" r="3.05"/><circle cx="461.6" cy="329.0" r="3.05"/><circle cx="439.0" cy="358.8" r="3.05"/><circle cx="449.5" cy="356.5" r="3.05"/><circle cx="471.0" cy="336.7" r="3.05"/><circle cx="436.0" cy="339.4" r="3.05"/><circle cx="433.3" cy="321.4" r="3.05"/><circle cx="419.1" cy="348.5" r="3.05"/><circle cx="466.0" cy="311.9" r="3.05"/><circle cx="467.3" cy="322.0" r="3.05"/><circle cx="464.2" cy="321.5" r="3.05"/><circle cx="424.1" cy="368.8" r="3.05"/><circle cx="440.0" cy="326.3" r="3.05"/><circle cx="434.5" cy="334.0" r="3.05"/><circle cx="466.7" cy="308.5" r="3.05"/><circle cx="428.7" cy="319.4" r="3.05"/><circle cx="468.3" cy="324.9" r="3.05"/><circle cx="467.8" cy="345.7" r="3.05"/><circle cx="416.6" cy="335.7" r="3.05"/><circle cx="429.2" cy="357.3" r="3.05"/><circle cx="473.6" cy="338.6" r="3.05"/><circle cx="423.4" cy="350.7" r="3.05"/><circle cx="415.8" cy="343.9" r="3.05"/><circle cx="439.6" cy="321.1" r="3.05"/><circle cx="468.0" cy="327.2" r="3.05"/><circle cx="416.2" cy="354.9" r="3.05"/><circle cx="444.6" cy="335.1" r="3.05"/><circle cx="474.5" cy="349.0" r="3.05"/><circle cx="439.1" cy="313.5" r="3.05"/><circle cx="442.5" cy="313.4" r="3.05"/><circle cx="430.5" cy="346.2" r="3.05"/><circle cx="456.8" cy="329.9" r="3.05"/><circle cx="412.2" cy="350.9" r="3.05"/><circle cx="442.1" cy="364.2" r="3.05"/><circle cx="444.6" cy="368.4" r="3.05"/><circle cx="451.1" cy="348.5" r="3.05"/><circle cx="457.0" cy="359.0" r="3.05"/><circle cx="438.4" cy="333.0" r="3.05"/><circle cx="454.0" cy="316.1" r="3.05"/><circle cx="478.0" cy="312.6" r="3.05"/><circle cx="471.1" cy="351.0" r="3.05"/><circle cx="477.5" cy="328.0" r="3.05"/><circle cx="421.1" cy="347.3" r="3.05"/><circle cx="427.7" cy="376.3" r="3.05"/><circle cx="436.3" cy="334.9" r="3.05"/><circle cx="466.9" cy="347.0" r="3.05"/><circle cx="448.1" cy="322.3" r="3.05"/><circle cx="470.8" cy="317.3" r="3.05"/><circle cx="482.2" cy="317.1" r="3.05"/><circle cx="411.0" cy="353.4" r="3.05"/><circle cx="457.5" cy="333.2" r="3.05"/><circle cx="420.1" cy="332.4" r="3.05"/><circle cx="459.5" cy="307.2" r="3.05"/><circle cx="470.0" cy="320.8" r="3.05"/><circle cx="414.9" cy="378.6" r="3.05"/><circle cx="430.7" cy="349.9" r="3.05"/><circle cx="480.0" cy="314.8" r="3.05"/><circle cx="463.6" cy="321.0" r="3.05"/><circle cx="441.8" cy="313.4" r="3.05"/><circle cx="444.3" cy="308.8" r="3.05"/><circle cx="412.3" cy="344.2" r="3.05"/><circle cx="428.8" cy="379.1" r="3.05"/><circle cx="461.9" cy="312.3" r="3.05"/><circle cx="428.6" cy="388.1" r="3.05"/><circle cx="441.3" cy="375.9" r="3.05"/><circle cx="441.6" cy="378.0" r="3.05"/><circle cx="431.7" cy="375.6" r="3.05"/><circle cx="425.8" cy="386.5" r="3.05"/><circle cx="439.6" cy="380.5" r="3.05"/><circle cx="429.2" cy="371.2" r="3.05"/><circle cx="431.1" cy="365.2" r="3.05"/><circle cx="439.7" cy="363.4" r="3.05"/><circle cx="432.9" cy="377.7" r="3.05"/><circle cx="430.9" cy="387.5" r="3.05"/><circle cx="441.9" cy="382.2" r="3.05"/><circle cx="440.9" cy="374.6" r="3.05"/><circle cx="423.2" cy="382.5" r="3.05"/><circle cx="425.6" cy="371.8" r="3.05"/><circle cx="448.9" cy="369.9" r="3.05"/><circle cx="438.1" cy="374.4" r="3.05"/><circle cx="439.4" cy="383.6" r="3.05"/></g>
<g fill="#000000"><circle cx="379.4" cy="428.1" r="3.05"/><circle cx="373.0" cy="416.2" r="3.05"/><circle cx="392.6" cy="418.7" r="3.05"/><circle cx="385.9" cy="407.2" r="3.05"/><circle cx="417.3" cy="399.6" r="3.05"/><circle cx="420.7" cy="396.8" r="3.05"/><circle cx="423.5" cy="401.9" r="3.05"/><circle cx="393.8" cy="392.4" r="3.05"/><circle cx="399.9" cy="395.7" r="3.05"/><circle cx="403.3" cy="393.5" r="3.05"/><circle cx="410.0" cy="391.2" r="3.05"/><circle cx="483.6" cy="265.7" r="3.05"/><circle cx="482.9" cy="270.0" r="3.05"/><circle cx="448.4" cy="289.0" r="3.05"/><circle cx="456.5" cy="287.9" r="3.05"/><circle cx="442.1" cy="295.7" r="3.05"/><circle cx="463.2" cy="293.2" r="3.05"/><circle cx="459.7" cy="297.4" r="3.05"/><circle cx="456.9" cy="300.2" r="3.05"/><circle cx="449.1" cy="305.5" r="3.05"/><circle cx="466.7" cy="299.5" r="3.05"/><circle cx="464.6" cy="303.0" r="3.05"/><circle cx="468.1" cy="305.2" r="3.05"/><circle cx="471.7" cy="306.6" r="3.05"/><circle cx="474.5" cy="302.0" r="3.05"/><circle cx="477.3" cy="305.9" r="3.05"/><circle cx="480.8" cy="308.0" r="3.05"/><circle cx="512.5" cy="295.3" r="3.05"/><circle cx="522.0" cy="295.3" r="3.05"/><circle cx="525.9" cy="295.3" r="3.05"/><circle cx="505.4" cy="302.7" r="3.05"/><circle cx="497.4" cy="303.0" r="3.05"/><circle cx="494.9" cy="306.6" r="3.05"/><circle cx="498.4" cy="308.0" r="3.05"/><circle cx="501.2" cy="311.5" r="3.05"/><circle cx="520.6" cy="306.6" r="3.05"/><circle cx="442.1" cy="311.5" r="3.05"/><circle cx="448.4" cy="313.6" r="3.05"/><circle cx="459.7" cy="315.0" r="3.05"/><circle cx="466.0" cy="315.0" r="3.05"/><circle cx="473.8" cy="316.4" r="3.05"/><circle cx="475.2" cy="319.9" r="3.05"/><circle cx="485.0" cy="319.9" r="3.05"/><circle cx="488.6" cy="321.3" r="3.05"/><circle cx="496.3" cy="322.7" r="3.05"/><circle cx="454.8" cy="318.5" r="3.05"/><circle cx="463.2" cy="322.0" r="3.05"/><circle cx="445.6" cy="324.9" r="3.05"/><circle cx="469.6" cy="324.2" r="3.05"/><circle cx="479.4" cy="323.4" r="3.05"/><circle cx="410.1" cy="326.3" r="3.05"/><circle cx="391.8" cy="339.7" r="3.05"/><circle cx="401.7" cy="339.7" r="3.05"/><circle cx="406.6" cy="339.7" r="3.05"/><circle cx="411.5" cy="344.6" r="3.05"/><circle cx="408.7" cy="355.2" r="3.05"/><circle cx="403.8" cy="360.1" r="3.05"/><circle cx="401.0" cy="369.2" r="3.05"/><circle cx="434.7" cy="296.0" r="3.05"/><circle cx="439.0" cy="303.1" r="3.05"/><circle cx="415.7" cy="310.8" r="3.05"/><circle cx="419.3" cy="312.9" r="3.05"/><circle cx="424.9" cy="310.8" r="3.05"/><circle cx="431.2" cy="310.1" r="3.05"/><circle cx="429.8" cy="313.6" r="3.05"/><circle cx="427.7" cy="320.7" r="3.05"/><circle cx="419.3" cy="325.6" r="3.05"/><circle cx="423.5" cy="328.4" r="3.05"/><circle cx="420.7" cy="331.2" r="3.05"/><circle cx="460.1" cy="359.4" r="3.05"/><circle cx="467.1" cy="366.4" r="3.05"/><circle cx="453.0" cy="367.1" r="3.05"/><circle cx="478.2" cy="356.5" r="3.05"/><circle cx="474.8" cy="344.7" r="3.05"/><circle cx="498.9" cy="332.9" r="3.05"/><circle cx="486.1" cy="332.9" r="3.05"/><circle cx="433.0" cy="387.0" r="3.05"/><circle cx="415.4" cy="375.2" r="3.05"/><circle cx="390.3" cy="379.1" r="3.05"/><circle cx="400.6" cy="380.1" r="3.05"/><circle cx="404.6" cy="382.1" r="3.05"/><circle cx="438.0" cy="377.2" r="3.05"/><circle cx="435.0" cy="372.2" r="3.05"/><circle cx="440.9" cy="375.2" r="3.05"/><circle cx="432.1" cy="369.3" r="3.05"/><circle cx="438.9" cy="381.1" r="3.05"/><circle cx="499.4" cy="326.4" r="3.05"/><circle cx="488.6" cy="328.4" r="3.05"/><circle cx="428.4" cy="325.2" r="3.05"/><circle cx="452.5" cy="335.2" r="3.05"/><circle cx="453.2" cy="356.1" r="3.05"/><circle cx="433.1" cy="317.5" r="3.05"/><circle cx="455.6" cy="332.8" r="3.05"/><circle cx="435.9" cy="371.9" r="3.05"/><circle cx="421.7" cy="333.8" r="3.05"/><circle cx="466.2" cy="317.5" r="3.05"/><circle cx="451.1" cy="332.6" r="3.05"/><circle cx="448.8" cy="333.9" r="3.05"/><circle cx="445.4" cy="329.4" r="3.05"/><circle cx="469.0" cy="308.9" r="3.05"/><circle cx="445.4" cy="317.9" r="3.05"/><circle cx="442.9" cy="348.1" r="3.05"/><circle cx="482.0" cy="326.7" r="3.05"/><circle cx="458.7" cy="362.8" r="3.05"/><circle cx="426.3" cy="344.6" r="3.05"/><circle cx="439.2" cy="330.5" r="3.05"/><circle cx="428.9" cy="357.3" r="3.05"/><circle cx="438.8" cy="316.2" r="3.05"/><circle cx="460.1" cy="324.9" r="3.05"/><circle cx="472.8" cy="318.7" r="3.05"/><circle cx="474.1" cy="338.0" r="3.05"/><circle cx="441.0" cy="372.5" r="3.05"/><circle cx="455.9" cy="311.2" r="3.05"/><circle cx="463.3" cy="330.8" r="3.05"/><circle cx="413.4" cy="344.6" r="3.05"/><circle cx="431.6" cy="347.9" r="3.05"/><circle cx="471.8" cy="338.4" r="3.05"/><circle cx="432.9" cy="369.2" r="3.05"/><circle cx="457.9" cy="356.9" r="3.05"/><circle cx="468.2" cy="320.1" r="3.05"/><circle cx="451.6" cy="366.8" r="3.05"/><circle cx="464.6" cy="350.0" r="3.05"/><circle cx="410.7" cy="355.2" r="3.05"/><circle cx="415.4" cy="349.9" r="3.05"/><circle cx="418.1" cy="351.6" r="3.05"/><circle cx="456.2" cy="347.5" r="3.05"/><circle cx="440.9" cy="333.5" r="3.05"/><circle cx="451.0" cy="336.1" r="3.05"/><circle cx="441.3" cy="356.8" r="3.05"/><circle cx="456.3" cy="332.3" r="3.05"/><circle cx="478.4" cy="306.7" r="3.05"/><circle cx="448.8" cy="306.7" r="3.05"/><circle cx="439.2" cy="337.0" r="3.05"/><circle cx="461.1" cy="327.6" r="3.05"/><circle cx="476.7" cy="316.5" r="3.05"/><circle cx="448.4" cy="357.1" r="3.05"/><circle cx="420.2" cy="340.5" r="3.05"/><circle cx="457.0" cy="344.8" r="3.05"/><circle cx="466.8" cy="346.7" r="3.05"/><circle cx="450.6" cy="344.5" r="3.05"/><circle cx="443.6" cy="335.3" r="3.05"/><circle cx="457.8" cy="331.6" r="3.05"/><circle cx="443.7" cy="344.9" r="3.05"/><circle cx="453.7" cy="311.8" r="3.05"/><circle cx="432.4" cy="334.5" r="3.05"/><circle cx="460.0" cy="330.3" r="3.05"/><circle cx="459.0" cy="339.1" r="3.05"/><circle cx="444.0" cy="334.1" r="3.05"/><circle cx="443.0" cy="339.1" r="3.05"/><circle cx="447.0" cy="314.6" r="3.05"/><circle cx="466.4" cy="314.2" r="3.05"/><circle cx="452.2" cy="350.6" r="3.05"/><circle cx="479.7" cy="331.9" r="3.05"/><circle cx="440.2" cy="357.9" r="3.05"/><circle cx="458.9" cy="321.1" r="3.05"/><circle cx="476.9" cy="307.4" r="3.05"/><circle cx="443.7" cy="317.8" r="3.05"/><circle cx="453.8" cy="317.7" r="3.05"/><circle cx="419.9" cy="356.0" r="3.05"/><circle cx="432.0" cy="374.1" r="3.05"/><circle cx="461.3" cy="338.4" r="3.05"/><circle cx="430.8" cy="346.9" r="3.05"/><circle cx="418.9" cy="359.0" r="3.05"/><circle cx="437.3" cy="342.4" r="3.05"/><circle cx="448.6" cy="331.1" r="3.05"/><circle cx="434.1" cy="342.3" r="3.05"/><circle cx="462.5" cy="317.3" r="3.05"/><circle cx="453.7" cy="336.2" r="3.05"/><circle cx="451.9" cy="339.5" r="3.05"/><circle cx="446.1" cy="338.3" r="3.05"/><circle cx="452.8" cy="334.6" r="3.05"/><circle cx="444.2" cy="345.9" r="3.05"/><circle cx="452.0" cy="352.2" r="3.05"/><circle cx="464.1" cy="350.1" r="3.05"/><circle cx="468.6" cy="301.2" r="3.05"/><circle cx="449.0" cy="336.6" r="3.05"/><circle cx="444.0" cy="338.6" r="3.05"/><circle cx="470.7" cy="311.9" r="3.05"/><circle cx="471.4" cy="310.3" r="3.05"/><circle cx="480.3" cy="316.2" r="3.05"/><circle cx="439.6" cy="336.2" r="3.05"/><circle cx="473.0" cy="328.1" r="3.05"/><circle cx="438.3" cy="356.9" r="3.05"/><circle cx="451.5" cy="342.3" r="3.05"/><circle cx="434.6" cy="358.6" r="3.05"/><circle cx="477.4" cy="327.4" r="3.05"/><circle cx="444.1" cy="342.2" r="3.05"/><circle cx="447.8" cy="333.0" r="3.05"/><circle cx="466.7" cy="319.0" r="3.05"/><circle cx="458.4" cy="339.3" r="3.05"/><circle cx="417.8" cy="361.5" r="3.05"/><circle cx="452.7" cy="332.7" r="3.05"/><circle cx="460.5" cy="319.8" r="3.05"/><circle cx="459.4" cy="331.0" r="3.05"/><circle cx="456.4" cy="314.7" r="3.05"/><circle cx="455.3" cy="362.6" r="3.05"/><circle cx="455.9" cy="334.6" r="3.05"/><circle cx="424.8" cy="363.5" r="3.05"/><circle cx="452.2" cy="348.0" r="3.05"/><circle cx="444.1" cy="324.1" r="3.05"/><circle cx="415.6" cy="338.4" r="3.05"/><circle cx="458.5" cy="339.1" r="3.05"/><circle cx="474.5" cy="342.8" r="3.05"/><circle cx="439.7" cy="327.2" r="3.05"/><circle cx="415.1" cy="351.2" r="3.05"/><circle cx="435.3" cy="330.6" r="3.05"/><circle cx="449.0" cy="369.6" r="3.05"/><circle cx="479.4" cy="337.8" r="3.05"/><circle cx="429.9" cy="336.4" r="3.05"/><circle cx="413.2" cy="366.9" r="3.05"/><circle cx="428.6" cy="360.8" r="3.05"/><circle cx="443.8" cy="345.5" r="3.05"/><circle cx="410.7" cy="353.2" r="3.05"/><circle cx="463.5" cy="316.2" r="3.05"/><circle cx="452.7" cy="317.3" r="3.05"/><circle cx="446.3" cy="338.0" r="3.05"/><circle cx="423.3" cy="342.7" r="3.05"/><circle cx="471.1" cy="344.2" r="3.05"/><circle cx="429.9" cy="365.8" r="3.05"/><circle cx="432.7" cy="360.9" r="3.05"/><circle cx="420.3" cy="332.2" r="3.05"/><circle cx="445.8" cy="360.1" r="3.05"/><circle cx="440.6" cy="328.4" r="3.05"/><circle cx="441.3" cy="323.7" r="3.05"/><circle cx="460.8" cy="347.1" r="3.05"/><circle cx="442.4" cy="335.0" r="3.05"/><circle cx="458.8" cy="331.6" r="3.05"/><circle cx="439.7" cy="317.1" r="3.05"/><circle cx="433.7" cy="347.0" r="3.05"/><circle cx="468.5" cy="341.6" r="3.05"/><circle cx="444.9" cy="348.2" r="3.05"/><circle cx="415.8" cy="369.9" r="3.05"/><circle cx="414.3" cy="361.4" r="3.05"/><circle cx="411.4" cy="357.4" r="3.05"/><circle cx="460.2" cy="336.8" r="3.05"/><circle cx="469.2" cy="318.6" r="3.05"/><circle cx="440.3" cy="316.4" r="3.05"/><circle cx="448.8" cy="320.6" r="3.05"/><circle cx="445.1" cy="346.7" r="3.05"/><circle cx="469.8" cy="331.0" r="3.05"/><circle cx="439.1" cy="341.0" r="3.05"/><circle cx="427.4" cy="336.8" r="3.05"/><circle cx="428.6" cy="372.0" r="3.05"/><circle cx="450.8" cy="356.8" r="3.05"/><circle cx="423.9" cy="327.2" r="3.05"/><circle cx="433.8" cy="347.8" r="3.05"/><circle cx="460.1" cy="301.2" r="3.05"/><circle cx="443.1" cy="321.5" r="3.05"/><circle cx="455.4" cy="337.5" r="3.05"/><circle cx="424.7" cy="358.0" r="3.05"/><circle cx="425.2" cy="357.6" r="3.05"/><circle cx="452.9" cy="308.1" r="3.05"/><circle cx="458.7" cy="362.5" r="3.05"/><circle cx="435.2" cy="314.0" r="3.05"/><circle cx="440.1" cy="316.0" r="3.05"/><circle cx="453.2" cy="326.4" r="3.05"/><circle cx="449.6" cy="322.3" r="3.05"/><circle cx="478.7" cy="330.2" r="3.05"/><circle cx="467.8" cy="329.6" r="3.05"/><circle cx="444.6" cy="346.0" r="3.05"/><circle cx="434.7" cy="317.5" r="3.05"/><circle cx="444.2" cy="346.3" r="3.05"/><circle cx="469.1" cy="334.8" r="3.05"/><circle cx="430.6" cy="316.6" r="3.05"/><circle cx="447.5" cy="337.0" r="3.05"/><circle cx="434.2" cy="352.9" r="3.05"/><circle cx="436.7" cy="338.2" r="3.05"/><circle cx="466.6" cy="352.0" r="3.05"/><circle cx="442.5" cy="368.5" r="3.05"/><circle cx="449.6" cy="323.6" r="3.05"/><circle cx="428.0" cy="353.1" r="3.05"/><circle cx="420.0" cy="360.8" r="3.05"/><circle cx="475.7" cy="327.5" r="3.05"/></g>
<g fill="#0000ff"><circle cx="1062.8" cy="494.1" r="3.05"/><circle cx="1043.1" cy="483.9" r="3.05"/><circle cx="1059.5" cy="474.8" r="3.05"/><circle cx="1039.1" cy="464.1" r="3.05"/><circle cx="1063.8" cy="462.2" r="3.05"/><circle cx="1071.3" cy="466.5" r="3.05"/><circle cx="1053.9" cy="450.7" r="3.05"/><circle cx="1076.2" cy="445.2" r="3.05"/><circle cx="1086.1" cy="440.5" r="3.05"/><circle cx="1062.4" cy="429.0" r="3.05"/><circle cx="1069.3" cy="432.6" r="3.05"/><circle cx="1088.7" cy="430.0" r="3.05"/><circle cx="1118.1" cy="427.4" r="3.05"/><circle cx="1104.8" cy="422.7" r="3.05"/><circle cx="1091.0" cy="419.6" r="3.05"/><circle cx="1094.0" cy="417.6" r="3.05"/><circle cx="1118.3" cy="417.8" r="3.05"/><circle cx="1080.2" cy="414.2" r="3.05"/><circle cx="1099.9" cy="413.2" r="3.05"/><circle cx="1098.9" cy="407.3" r="3.05"/><circle cx="1104.8" cy="405.7" r="3.05"/><circle cx="1111.4" cy="406.3" r="3.05"/><circle cx="1150.2" cy="395.1" r="3.05"/><circle cx="1147.9" cy="399.0" r="3.05"/><circle cx="1133.5" cy="403.0" r="3.05"/><circle cx="1129.5" cy="400.4" r="3.05"/><circle cx="1124.6" cy="392.5" r="3.05"/><circle cx="1108.8" cy="385.6" r="3.05"/><circle cx="1098.9" cy="374.8" r="3.05"/><circle cx="1121.6" cy="360.9" r="3.05"/><circle cx="1122.6" cy="349.1" r="3.05"/><circle cx="1128.1" cy="292.9" r="3.05"/><circle cx="1149.2" cy="282.6" r="3.05"/><circle cx="1129.1" cy="307.7" r="3.05"/><circle cx="1136.4" cy="304.7" r="3.05"/><circle cx="1217.3" cy="303.7" r="3.05"/><circle cx="1210.4" cy="317.5" r="3.05"/><circle cx="1161.1" cy="360.0" r="3.05"/><circle cx="1146.3" cy="383.6" r="3.05"/><circle cx="1130.5" cy="387.6" r="3.05"/><circle cx="1138.4" cy="391.5" r="3.05"/><circle cx="1160.9" cy="312.2" r="3.05"/><circle cx="1167.9" cy="355.3" r="3.05"/><circle cx="1180.0" cy="324.0" r="3.05"/><circle cx="1128.9" cy="351.7" r="3.05"/><circle cx="1155.3" cy="329.0" r="3.05"/><circle cx="1187.4" cy="321.0" r="3.05"/><circle cx="1160.8" cy="337.5" r="3.05"/><circle cx="1145.7" cy="324.9" r="3.05"/><circle cx="1165.2" cy="320.7" r="3.05"/><circle cx="1143.2" cy="326.8" r="3.05"/><circle cx="1190.7" cy="301.9" r="3.05"/><circle cx="1131.2" cy="349.1" r="3.05"/><circle cx="1171.9" cy="336.3" r="3.05"/><circle cx="1159.2" cy="321.7" r="3.05"/><circle cx="1160.3" cy="356.1" r="3.05"/><circle cx="1182.7" cy="335.3" r="3.05"/><circle cx="1145.7" cy="365.0" r="3.05"/><circle cx="1143.4" cy="372.5" r="3.05"/><circle cx="1140.9" cy="334.1" r="3.05"/><circle cx="1147.5" cy="358.2" r="3.05"/><circle cx="1128.5" cy="371.2" r="3.05"/><circle cx="1162.6" cy="323.5" r="3.05"/><circle cx="1127.1" cy="356.7" r="3.05"/><circle cx="1129.9" cy="351.6" r="3.05"/><circle cx="1128.2" cy="351.7" r="3.05"/><circle cx="1185.7" cy="301.7" r="3.05"/><circle cx="1138.8" cy="362.2" r="3.05"/><circle cx="1195.4" cy="303.6" r="3.05"/><circle cx="1153.7" cy="340.2" r="3.05"/><circle cx="1179.7" cy="312.3" r="3.05"/><circle cx="1174.7" cy="298.8" r="3.05"/><circle cx="1187.4" cy="317.0" r="3.05"/><circle cx="1151.3" cy="315.9" r="3.05"/><circle cx="1165.1" cy="351.4" r="3.05"/><circle cx="1147.6" cy="339.5" r="3.05"/><circle cx="1122.9" cy="399.3" r="3.05"/><circle cx="1183.7" cy="331.0" r="3.05"/><circle cx="1111.8" cy="374.8" r="3.05"/><circle cx="1151.8" cy="351.2" r="3.05"/><circle cx="1142.5" cy="367.0" r="3.05"/><circle cx="1118.1" cy="391.3" r="3.05"/><circle cx="1154.2" cy="339.7" r="3.05"/><circle cx="1145.1" cy="359.4" r="3.05"/><circle cx="1199.6" cy="295.5" r="3.05"/><circle cx="1134.9" cy="357.5" r="3.05"/><circle cx="1141.3" cy="352.8" r="3.05"/><circle cx="1104.8" cy="388.1" r="3.05"/><circle cx="1098.0" cy="382.4" r="3.05"/><circle cx="1108.9" cy="370.0" r="3.05"/><circle cx="1127.6" cy="373.5" r="3.05"/><circle cx="1161.9" cy="303.8" r="3.05"/><circle cx="1174.1" cy="301.1" r="3.05"/><circle cx="1183.2" cy="327.3" r="3.05"/><circle cx="1148.4" cy="348.5" r="3.05"/><circle cx="1128.0" cy="385.4" r="3.05"/><circle cx="1105.8" cy="383.5" r="3.05"/><circle cx="1154.3" cy="346.7" r="3.05"/><circle cx="1166.8" cy="327.4" r="3.05"/><circle cx="1112.6" cy="383.9" r="3.05"/><circle cx="1166.6" cy="309.3" r="3.05"/></g>
<g fill="#ff0000"><circle cx="1121.6" cy="331.3" r="3.05"/><circle cx="1164.0" cy="288.9" r="3.05"/><circle cx="1171.9" cy="283.0" r="3.05"/><circle cx="1156.1" cy="304.7" r="3.05"/><circle cx="1154.2" cy="312.6" r="3.05"/><circle cx="1187.7" cy="270.2" r="3.05"/><circle cx="1209.4" cy="257.4" r="3.05"/><circle cx="1226.2" cy="252.4" r="3.05"/><circle cx="1221.3" cy="291.9" r="3.05"/><circle cx="1187.7" cy="346.1" r="3.05"/><circle cx="1186.7" cy="342.2" r="3.05"/><circle cx="1179.8" cy="352.1" r="3.05"/><circle cx="1166.0" cy="364.9" r="3.05"/><circle cx="1118.7" cy="381.7" r="3.05"/><circle cx="1142.3" cy="383.6" r="3.05"/><circle cx="1161.9" cy="324.2" r="3.05"/><circle cx="1160.5" cy="359.5" r="3.05"/><circle cx="1186.5" cy="308.2" r="3.05"/><circle cx="1159.5" cy="356.2" r="3.05"/><circle cx="1128.0" cy="364.8" r="3.05"/><circle cx="1192.9" cy="316.3" r="3.05"/><circle cx="1136.4" cy="370.6" r="3.05"/><circle cx="1173.2" cy="303.7" r="3.05"/><circle cx="1184.5" cy="327.1" r="3.05"/><circle cx="1172.3" cy="332.5" r="3.05"/><circle cx="1177.8" cy="309.4" r="3.05"/><circle cx="1124.6" cy="366.5" r="3.05"/><circle cx="1162.4" cy="322.2" r="3.05"/><circle cx="1182.3" cy="317.6" r="3.05"/><circle cx="1136.4" cy="367.3" r="3.05"/><circle cx="1138.3" cy="372.1" r="3.05"/><circle cx="1190.8" cy="301.9" r="3.05"/><circle cx="1175.8" cy="317.1" r="3.05"/><circle cx="1193.6" cy="302.6" r="3.05"/><circle cx="1188.7" cy="316.7" r="3.05"/><circle cx="1169.7" cy="317.3" r="3.05"/><circle cx="1156.6" cy="334.1" r="3.05"/><circle cx="1156.1" cy="349.8" r="3.05"/><circle cx="1140.7" cy="346.0" r="3.05"/><circle cx="1178.7" cy="341.5" r="3.05"/><circle cx="1147.7" cy="346.4" r="3.05"/><circle cx="1146.6" cy="365.1" r="3.05"/><circle cx="1167.5" cy="326.8" r="3.05"/><circle cx="1162.5" cy="335.5" r="3.05"/><circle cx="1156.3" cy="333.8" r="3.05"/><circle cx="1142.8" cy="358.7" r="3.05"/><circle cx="1188.9" cy="319.3" r="3.05"/><circle cx="1129.3" cy="353.0" r="3.05"/><circle cx="1185.7" cy="300.7" r="3.05"/><circle cx="1170.8" cy="341.8" r="3.05"/><circle cx="1160.7" cy="345.9" r="3.05"/><circle cx="1156.5" cy="349.7" r="3.05"/><circle cx="1148.8" cy="368.5" r="3.05"/><circle cx="1121.9" cy="356.5" r="3.05"/><circle cx="1156.8" cy="319.7" r="3.05"/><circle cx="1126.7" cy="331.2" r="3.05"/><circle cx="1148.2" cy="359.4" r="3.05"/><circle cx="1131.1" cy="362.4" r="3.05"/><circle cx="1175.9" cy="333.0" r="3.05"/><circle cx="1146.5" cy="378.1" r="3.05"/><circle cx="1174.2" cy="335.5" r="3.05"/><circle cx="1203.8" cy="303.8" r="3.05"/><circle cx="1144.0" cy="313.3" r="3.05"/><circle cx="1182.2" cy="317.8" r="3.05"/><circle cx="1104.0" cy="385.5" r="3.05"/><circle cx="1153.9" cy="338.2" r="3.05"/><circle cx="1111.7" cy="367.7" r="3.05"/><circle cx="1173.5" cy="319.9" r="3.05"/><circle cx="1134.6" cy="359.0" r="3.05"/><circle cx="1157.5" cy="333.8" r="3.05"/><circle cx="1138.3" cy="332.4" r="3.05"/><circle cx="1136.5" cy="361.1" r="3.05"/><circle cx="1146.2" cy="363.5" r="3.05"/><circle cx="1153.1" cy="354.4" r="3.05"/><circle cx="1167.0" cy="362.3" r="3.05"/><circle cx="1186.5" cy="318.7" r="3.05"/><circle cx="1140.4" cy="312.0" r="3.05"/><circle cx="1112.6" cy="349.9" r="3.05"/><circle cx="1160.3" cy="366.9" r="3.05"/><circle cx="1149.3" cy="343.1" r="3.05"/><circle cx="1180.4" cy="309.5" r="3.05"/><circle cx="1159.3" cy="303.3" r="3.05"/><circle cx="1113.4" cy="354.4" r="3.05"/><circle cx="1177.3" cy="309.7" r="3.05"/><circle cx="1178.6" cy="315.3" r="3.05"/><circle cx="1153.2" cy="359.6" r="3.05"/><circle cx="1116.0" cy="351.5" r="3.05"/><circle cx="1127.2" cy="331.1" r="3.05"/><circle cx="1189.2" cy="281.9" r="3.05"/><circle cx="1164.7" cy="317.2" r="3.05"/><circle cx="1178.7" cy="326.7" r="3.05"/><circle cx="1165.4" cy="295.1" r="3.05"/><circle cx="1170.7" cy="344.9" r="3.05"/><circle cx="1171.8" cy="291.2" r="3.05"/><circle cx="1157.8" cy="313.8" r="3.05"/></g>
<g fill="#0cf01a"><circle cx="1113.7" cy="344.2" r="3.05"/><circle cx="1229.2" cy="236.2" r="3.05"/><circle cx="1219.3" cy="239.6" r="3.05"/><circle cx="1226.2" cy="245.5" r="3.05"/><circle cx="1217.3" cy="248.5" r="3.05"/><circle cx="1210.4" cy="250.4" r="3.05"/><circle cx="1221.3" cy="252.4" r="3.05"/><circle cx="1196.6" cy="258.3" r="3.05"/><circle cx="1214.4" cy="259.3" r="3.05"/><circle cx="1228.2" cy="262.3" r="3.05"/><circle cx="1217.3" cy="265.2" r="3.05"/><circle cx="1205.5" cy="267.2" r="3.05"/><circle cx="1221.3" cy="269.2" r="3.05"/><circle cx="1209.4" cy="273.1" r="3.05"/><circle cx="1197.6" cy="275.1" r="3.05"/><circle cx="1232.1" cy="282.0" r="3.05"/><circle cx="1217.3" cy="285.0" r="3.05"/><circle cx="1201.5" cy="283.0" r="3.05"/><circle cx="1189.7" cy="285.0" r="3.05"/><circle cx="1183.8" cy="281.0" r="3.05"/><circle cx="1228.2" cy="301.8" r="3.05"/><circle cx="1219.3" cy="300.8" r="3.05"/><circle cx="1205.5" cy="314.6" r="3.05"/><circle cx="1213.4" cy="310.6" r="3.05"/><circle cx="1195.6" cy="341.2" r="3.05"/><circle cx="1187.7" cy="336.3" r="3.05"/><circle cx="1171.9" cy="360.0" r="3.05"/><circle cx="1116.7" cy="379.7" r="3.05"/><circle cx="1124.6" cy="375.7" r="3.05"/><circle cx="1130.5" cy="371.8" r="3.05"/><circle cx="1114.7" cy="383.6" r="3.05"/><circle cx="1153.9" cy="341.7" r="3.05"/><circle cx="1148.1" cy="367.0" r="3.05"/><circle cx="1139.6" cy="362.4" r="3.05"/><circle cx="1166.8" cy="310.6" r="3.05"/><circle cx="1162.7" cy="317.2" r="3.05"/><circle cx="1188.6" cy="329.1" r="3.05"/><circle cx="1136.0" cy="333.2" r="3.05"/><circle cx="1158.8" cy="315.4" r="3.05"/><circle cx="1126.4" cy="351.1" r="3.05"/><circle cx="1163.7" cy="340.0" r="3.05"/><circle cx="1154.0" cy="355.9" r="3.05"/><circle cx="1151.3" cy="331.7" r="3.05"/><circle cx="1146.0" cy="351.2" r="3.05"/><circle cx="1140.8" cy="367.2" r="3.05"/><circle cx="1166.9" cy="339.1" r="3.05"/><circle cx="1163.7" cy="330.4" r="3.05"/><circle cx="1146.4" cy="366.6" r="3.05"/><circle cx="1147.1" cy="323.6" r="3.05"/><circle cx="1140.7" cy="357.0" r="3.05"/><circle cx="1184.6" cy="318.0" r="3.05"/><circle cx="1157.4" cy="321.4" r="3.05"/><circle cx="1155.4" cy="315.3" r="3.05"/><circle cx="1151.1" cy="333.0" r="3.05"/><circle cx="1176.9" cy="337.1" r="3.05"/><circle cx="1168.2" cy="304.3" r="3.05"/><circle cx="1155.3" cy="323.2" r="3.05"/><circle cx="1126.2" cy="348.5" r="3.05"/><circle cx="1145.0" cy="332.4" r="3.05"/><circle cx="1183.9" cy="303.2" r="3.05"/><circle cx="1123.3" cy="363.6" r="3.05"/><circle cx="1162.7" cy="334.0" r="3.05"/><circle cx="1157.0" cy="320.2" r="3.05"/><circle cx="1178.2" cy="306.9" r="3.05"/><circle cx="1152.5" cy="334.2" r="3.05"/><circle cx="1133.8" cy="348.9" r="3.05"/><circle cx="1122.7" cy="365.2" r="3.05"/><circle cx="1170.3" cy="339.5" r="3.05"/><circle cx="1158.9" cy="319.9" r="3.05"/><circle cx="1138.2" cy="361.1" r="3.05"/><circle cx="1162.1" cy="349.6" r="3.05"/><circle cx="1171.8" cy="328.0" r="3.05"/><circle cx="1177.9" cy="304.9" r="3.05"/><circle cx="1150.4" cy="333.6" r="3.05"/><circle cx="1154.0" cy="322.2" r="3.05"/><circle cx="1152.6" cy="333.4" r="3.05"/><circle cx="1159.1" cy="348.4" r="3.05"/><circle cx="1140.4" cy="363.7" r="3.05"/><circle cx="1137.0" cy="366.2" r="3.05"/><circle cx="1165.6" cy="345.5" r="3.05"/><circle cx="1163.5" cy="346.7" r="3.05"/><circle cx="1175.4" cy="324.0" r="3.05"/><circle cx="1156.7" cy="336.3" r="3.05"/><circle cx="1166.9" cy="315.3" r="3.05"/><circle cx="1152.5" cy="336.0" r="3.05"/><circle cx="1132.8" cy="344.7" r="3.05"/><circle cx="1188.4" cy="286.1" r="3.05"/><circle cx="1217.6" cy="255.4" r="3.05"/><circle cx="1205.8" cy="252.6" r="3.05"/><circle cx="1204.0" cy="273.6" r="3.05"/><circle cx="1200.6" cy="272.0" r="3.05"/><circle cx="1198.6" cy="281.3" r="3.05"/><circle cx="1189.5" cy="262.2" r="3.05"/><circle cx="1181.8" cy="294.0" r="3.05"/><circle cx="1220.3" cy="255.2" r="3.05"/><circle cx="1177.9" cy="274.9" r="3.05"/><circle cx="1199.0" cy="251.5" r="3.05"/><circle cx="1203.0" cy="274.9" r="3.05"/><circle cx="1207.0" cy="278.5" r="3.05"/><circle cx="1173.7" cy="295.7" r="3.05"/><circle cx="1186.3" cy="269.7" r="3.05"/><circle cx="1207.9" cy="277.4" r="3.05"/><circle cx="1223.6" cy="248.8" r="3.05"/><circle cx="1210.4" cy="243.1" r="3.05"/><circle cx="1191.2" cy="287.1" r="3.05"/><circle cx="1171.9" cy="285.8" r="3.05"/><circle cx="1219.7" cy="256.0" r="3.05"/><circle cx="1194.6" cy="264.7" r="3.05"/><circle cx="1180.6" cy="295.9" r="3.05"/><circle cx="1198.5" cy="281.2" r="3.05"/><circle cx="1220.1" cy="245.7" r="3.05"/><circle cx="1176.8" cy="298.1" r="3.05"/><circle cx="1187.8" cy="290.6" r="3.05"/><circle cx="1184.6" cy="290.4" r="3.05"/><circle cx="1181.5" cy="291.1" r="3.05"/><circle cx="1183.1" cy="271.8" r="3.05"/><circle cx="1194.9" cy="280.0" r="3.05"/><circle cx="1213.8" cy="251.1" r="3.05"/><circle cx="1207.2" cy="270.1" r="3.05"/><circle cx="1222.3" cy="258.2" r="3.05"/><circle cx="1211.2" cy="246.0" r="3.05"/><circle cx="1184.4" cy="282.2" r="3.05"/><circle cx="1184.0" cy="279.2" r="3.05"/><circle cx="1223.5" cy="250.2" r="3.05"/><circle cx="1181.2" cy="284.7" r="3.05"/><circle cx="1209.5" cy="276.2" r="3.05"/><circle cx="1220.2" cy="252.3" r="3.05"/><circle cx="1194.7" cy="255.1" r="3.05"/><circle cx="1209.2" cy="249.6" r="3.05"/><circle cx="1211.8" cy="259.3" r="3.05"/><circle cx="1181.5" cy="283.6" r="3.05"/><circle cx="1207.4" cy="273.7" r="3.05"/><circle cx="1184.1" cy="294.8" r="3.05"/><circle cx="1178.4" cy="284.7" r="3.05"/><circle cx="1187.1" cy="268.7" r="3.05"/><circle cx="1214.7" cy="240.3" r="3.05"/><circle cx="1184.1" cy="266.4" r="3.05"/><circle cx="1220.7" cy="247.9" r="3.05"/><circle cx="1176.6" cy="281.8" r="3.05"/><circle cx="1194.9" cy="275.9" r="3.05"/><circle cx="1218.1" cy="263.4" r="3.05"/><circle cx="1197.7" cy="279.9" r="3.05"/><circle cx="1181.8" cy="286.7" r="3.05"/><circle cx="1205.0" cy="272.1" r="3.05"/><circle cx="1186.9" cy="266.5" r="3.05"/><circle cx="1181.0" cy="276.5" r="3.05"/><circle cx="1194.7" cy="263.7" r="3.05"/><circle cx="1198.9" cy="285.4" r="3.05"/><circle cx="1182.4" cy="268.5" r="3.05"/><circle cx="1181.1" cy="283.4" r="3.05"/><circle cx="1178.5" cy="279.6" r="3.05"/><circle cx="1180.5" cy="285.3" r="3.05"/><circle cx="1197.8" cy="282.5" r="3.05"/><circle cx="1195.4" cy="291.0" r="3.05"/><circle cx="1200.6" cy="259.2" r="3.05"/><circle cx="1202.6" cy="268.5" r="3.05"/><circle cx="1181.9" cy="289.4" r="3.05"/><circle cx="1192.6" cy="287.5" r="3.05"/><circle cx="1206.1" cy="250.9" r="3.05"/><circle cx="1219.3" cy="263.4" r="3.05"/><circle cx="1191.7" cy="266.6" r="3.05"/><circle cx="1196.0" cy="271.7" r="3.05"/><circle cx="1215.6" cy="262.0" r="3.05"/><circle cx="1207.1" cy="272.0" r="3.05"/><circle cx="1188.9" cy="283.6" r="3.05"/><circle cx="1214.0" cy="267.6" r="3.05"/><circle cx="1194.3" cy="326.5" r="3.05"/><circle cx="1199.2" cy="313.2" r="3.05"/><circle cx="1210.2" cy="323.4" r="3.05"/><circle cx="1200.7" cy="322.2" r="3.05"/><circle cx="1206.8" cy="315.7" r="3.05"/><circle cx="1191.4" cy="320.8" r="3.05"/><circle cx="1195.8" cy="325.6" r="3.05"/><circle cx="1185.9" cy="340.4" r="3.05"/><circle cx="1199.4" cy="320.3" r="3.05"/><circle cx="1186.1" cy="330.0" r="3.05"/><circle cx="1212.6" cy="311.0" r="3.05"/><circle cx="1185.8" cy="334.0" r="3.05"/><circle cx="1208.7" cy="314.0" r="3.05"/><circle cx="1208.0" cy="311.3" r="3.05"/><circle cx="1185.9" cy="331.4" r="3.05"/><circle cx="1199.1" cy="319.5" r="3.05"/><circle cx="1202.7" cy="314.7" r="3.05"/><circle cx="1190.1" cy="329.4" r="3.05"/><circle cx="1199.2" cy="308.2" r="3.05"/><circle cx="1188.8" cy="336.7" r="3.05"/><circle cx="1205.5" cy="307.8" r="3.05"/><circle cx="1210.4" cy="311.5" r="3.05"/><circle cx="1190.6" cy="318.3" r="3.05"/><circle cx="1189.7" cy="320.6" r="3.05"/><circle cx="1197.1" cy="335.7" r="3.05"/><circle cx="1213.0" cy="319.7" r="3.05"/><circle cx="1195.9" cy="336.1" r="3.05"/><circle cx="1218.7" cy="300.2" r="3.05"/><circle cx="1204.0" cy="318.7" r="3.05"/><circle cx="1208.7" cy="310.9" r="3.05"/><circle cx="1194.8" cy="316.0" r="3.05"/><circle cx="1199.4" cy="326.0" r="3.05"/><circle cx="1217.1" cy="314.4" r="3.05"/><circle cx="1182.0" cy="329.7" r="3.05"/><circle cx="1215.1" cy="314.3" r="3.05"/><circle cx="1218.7" cy="296.3" r="3.05"/><circle cx="1201.2" cy="321.4" r="3.05"/><circle cx="1222.4" cy="297.8" r="3.05"/><circle cx="1206.8" cy="304.6" r="3.05"/><circle cx="1211.1" cy="321.6" r="3.05"/><circle cx="1199.8" cy="325.9" r="3.05"/><circle cx="1221.9" cy="303.0" r="3.05"/><circle cx="1206.4" cy="303.7" r="3.05"/><circle cx="1210.9" cy="310.5" r="3.05"/><circle cx="1196.6" cy="335.2" r="3.05"/><circle cx="1210.9" cy="301.3" r="3.05"/><circle cx="1194.6" cy="327.4" r="3.05"/><circle cx="1192.8" cy="327.4" r="3.05"/><circle cx="1201.2" cy="319.1" r="3.05"/><circle cx="1195.0" cy="328.9" r="3.05"/><circle cx="1198.1" cy="274.5" r="3.05"/><circle cx="1194.5" cy="287.8" r="3.05"/><circle cx="1147.6" cy="349.6" r="3.05"/><circle cx="1164.5" cy="315.9" r="3.05"/><circle cx="1137.2" cy="370.8" r="3.05"/><circle cx="1151.6" cy="318.1" r="3.05"/><circle cx="1174.9" cy="318.5" r="3.05"/><circle cx="1155.5" cy="325.9" r="3.05"/><circle cx="1188.4" cy="309.7" r="3.05"/><circle cx="1163.7" cy="314.5" r="3.05"/><circle cx="1124.8" cy="335.0" r="3.05"/><circle cx="1141.7" cy="331.9" r="3.05"/><circle cx="1131.1" cy="347.6" r="3.05"/><circle cx="1152.0" cy="321.3" r="3.05"/><circle cx="1177.4" cy="343.8" r="3.05"/><circle cx="1145.6" cy="345.8" r="3.05"/><circle cx="1141.9" cy="317.1" r="3.05"/><circle cx="1183.9" cy="321.1" r="3.05"/><circle cx="1138.9" cy="311.2" r="3.05"/><circle cx="1196.9" cy="282.6" r="3.05"/><circle cx="1191.7" cy="333.2" r="3.05"/><circle cx="1143.1" cy="341.1" r="3.05"/><circle cx="1163.5" cy="306.0" r="3.05"/><circle cx="1167.9" cy="316.5" r="3.05"/><circle cx="1113.5" cy="349.2" r="3.05"/><circle cx="1117.4" cy="370.8" r="3.05"/><circle cx="1202.6" cy="278.9" r="3.05"/><circle cx="1148.8" cy="322.2" r="3.05"/><circle cx="1164.0" cy="296.7" r="3.05"/><circle cx="1176.1" cy="311.4" r="3.05"/><circle cx="1155.7" cy="350.6" r="3.05"/><circle cx="1148.7" cy="322.4" r="3.05"/><circle cx="1123.3" cy="359.1" r="3.05"/><circle cx="1183.5" cy="285.1" r="3.05"/><circle cx="1137.1" cy="312.5" r="3.05"/><circle cx="1178.8" cy="306.0" r="3.05"/><circle cx="1136.5" cy="372.0" r="3.05"/><circle cx="1134.1" cy="379.2" r="3.05"/><circle cx="1186.8" cy="292.1" r="3.05"/><circle cx="1164.5" cy="355.1" r="3.05"/></g>
<line x1="818.0" y1="653.5" x2="1406.2" y2="104.0" stroke="#000" stroke-width="2.2"/>
<g fill="#ffff00"><circle cx="1106.8" cy="411.3" r="3.05"/><circle cx="1122.6" cy="336.3" r="3.05"/><circle cx="1189.7" cy="275.1" r="3.05"/><circle cx="1187.7" cy="281.0" r="3.05"/><circle cx="1193.6" cy="288.9" r="3.05"/><circle cx="1219.3" cy="288.9" r="3.05"/><circle cx="1148.3" cy="377.7" r="3.05"/><circle cx="1140.4" cy="387.6" r="3.05"/><circle cx="1130.5" cy="383.6" r="3.05"/><circle cx="1136.4" cy="379.7" r="3.05"/><circle cx="1134.4" cy="371.8" r="3.05"/><circle cx="1138.4" cy="367.9" r="3.05"/><circle cx="1106.8" cy="383.6" r="3.05"/><circle cx="1104.8" cy="388.6" r="3.05"/><circle cx="1168.3" cy="309.7" r="3.05"/><circle cx="1157.3" cy="312.1" r="3.05"/><circle cx="1123.6" cy="353.1" r="3.05"/><circle cx="1193.5" cy="315.8" r="3.05"/><circle cx="1172.9" cy="312.1" r="3.05"/><circle cx="1145.1" cy="352.1" r="3.05"/><circle cx="1167.3" cy="340.3" r="3.05"/><circle cx="1186.7" cy="313.6" r="3.05"/><circle cx="1170.2" cy="313.9" r="3.05"/><circle cx="1171.8" cy="341.5" r="3.05"/><circle cx="1165.2" cy="311.0" r="3.05"/><circle cx="1133.3" cy="360.8" r="3.05"/><circle cx="1190.7" cy="325.5" r="3.05"/><circle cx="1140.8" cy="339.2" r="3.05"/><circle cx="1153.8" cy="339.4" r="3.05"/><circle cx="1192.7" cy="305.1" r="3.05"/><circle cx="1188.8" cy="322.2" r="3.05"/><circle cx="1124.9" cy="368.5" r="3.05"/><circle cx="1164.5" cy="330.4" r="3.05"/><circle cx="1136.6" cy="358.5" r="3.05"/><circle cx="1154.8" cy="359.0" r="3.05"/><circle cx="1191.6" cy="300.3" r="3.05"/><circle cx="1162.9" cy="340.0" r="3.05"/><circle cx="1121.1" cy="362.3" r="3.05"/><circle cx="1149.0" cy="333.0" r="3.05"/><circle cx="1141.6" cy="372.6" r="3.05"/><circle cx="1183.9" cy="343.0" r="3.05"/><circle cx="1154.8" cy="335.2" r="3.05"/><circle cx="1177.0" cy="309.9" r="3.05"/><circle cx="1165.1" cy="321.1" r="3.05"/><circle cx="1118.0" cy="384.7" r="3.05"/><circle cx="1195.9" cy="327.8" r="3.05"/><circle cx="1172.3" cy="324.4" r="3.05"/><circle cx="1161.0" cy="349.8" r="3.05"/><circle cx="1176.4" cy="308.8" r="3.05"/><circle cx="1176.4" cy="295.0" r="3.05"/><circle cx="1199.6" cy="317.8" r="3.05"/><circle cx="1194.6" cy="309.2" r="3.05"/><circle cx="1211.2" cy="285.0" r="3.05"/><circle cx="1163.6" cy="308.3" r="3.05"/><circle cx="1172.8" cy="308.2" r="3.05"/><circle cx="1169.1" cy="350.4" r="3.05"/><circle cx="1160.6" cy="328.9" r="3.05"/><circle cx="1142.1" cy="349.0" r="3.05"/><circle cx="1122.3" cy="369.3" r="3.05"/><circle cx="1184.7" cy="314.6" r="3.05"/><circle cx="1203.4" cy="302.7" r="3.05"/><circle cx="1171.7" cy="310.1" r="3.05"/><circle cx="1153.2" cy="326.1" r="3.05"/><circle cx="1163.4" cy="319.1" r="3.05"/><circle cx="1199.9" cy="303.5" r="3.05"/><circle cx="1162.3" cy="309.2" r="3.05"/><circle cx="1185.7" cy="325.4" r="3.05"/><circle cx="1144.5" cy="330.6" r="3.05"/><circle cx="1130.2" cy="347.2" r="3.05"/><circle cx="1165.4" cy="318.6" r="3.05"/><circle cx="1158.6" cy="337.8" r="3.05"/><circle cx="1134.5" cy="348.7" r="3.05"/><circle cx="1146.3" cy="343.6" r="3.05"/><circle cx="1124.0" cy="357.6" r="3.05"/><circle cx="1192.3" cy="313.2" r="3.05"/><circle cx="1170.5" cy="331.7" r="3.05"/><circle cx="1152.2" cy="355.8" r="3.05"/><circle cx="1141.7" cy="344.1" r="3.05"/><circle cx="1174.7" cy="339.6" r="3.05"/><circle cx="1166.5" cy="332.6" r="3.05"/><circle cx="1120.5" cy="365.9" r="3.05"/><circle cx="1211.0" cy="281.6" r="3.05"/><circle cx="1167.0" cy="316.0" r="3.05"/><circle cx="1191.6" cy="321.3" r="3.05"/><circle cx="1169.7" cy="339.0" r="3.05"/><circle cx="1120.7" cy="353.2" r="3.05"/><circle cx="1136.8" cy="343.6" r="3.05"/><circle cx="1170.0" cy="301.3" r="3.05"/><circle cx="1180.4" cy="306.8" r="3.05"/><circle cx="1189.7" cy="282.3" r="3.05"/><circle cx="1142.1" cy="340.4" r="3.05"/><circle cx="1154.8" cy="339.7" r="3.05"/><circle cx="1173.7" cy="325.9" r="3.05"/><circle cx="1128.4" cy="351.2" r="3.05"/><circle cx="1204.8" cy="309.8" r="3.05"/><circle cx="1120.7" cy="376.2" r="3.05"/><circle cx="1168.9" cy="336.0" r="3.05"/><circle cx="1180.5" cy="313.4" r="3.05"/><circle cx="1166.4" cy="307.0" r="3.05"/></g>
<g fill="#000000"><circle cx="1094.0" cy="424.7" r="3.05"/><circle cx="1083.5" cy="412.2" r="3.05"/><circle cx="1104.8" cy="415.6" r="3.05"/><circle cx="1094.0" cy="403.0" r="3.05"/><circle cx="1132.5" cy="396.5" r="3.05"/><circle cx="1135.4" cy="397.5" r="3.05"/><circle cx="1130.5" cy="393.5" r="3.05"/><circle cx="1122.6" cy="388.6" r="3.05"/><circle cx="1113.7" cy="393.5" r="3.05"/><circle cx="1104.8" cy="390.0" r="3.05"/><circle cx="1100.9" cy="376.1" r="3.05"/><circle cx="1109.8" cy="366.9" r="3.05"/><circle cx="1114.7" cy="357.0" r="3.05"/><circle cx="1109.8" cy="335.3" r="3.05"/><circle cx="1138.4" cy="307.7" r="3.05"/><circle cx="1142.3" cy="306.7" r="3.05"/><circle cx="1149.2" cy="301.8" r="3.05"/><circle cx="1154.2" cy="291.9" r="3.05"/><circle cx="1159.1" cy="285.4" r="3.05"/><circle cx="1166.0" cy="286.0" r="3.05"/><circle cx="1177.9" cy="285.0" r="3.05"/><circle cx="1170.0" cy="296.8" r="3.05"/><circle cx="1128.5" cy="323.5" r="3.05"/><circle cx="1137.4" cy="319.5" r="3.05"/><circle cx="1134.4" cy="330.4" r="3.05"/><circle cx="1197.6" cy="262.3" r="3.05"/><circle cx="1199.6" cy="267.2" r="3.05"/><circle cx="1227.2" cy="291.3" r="3.05"/><circle cx="1233.1" cy="303.7" r="3.05"/><circle cx="1201.5" cy="300.8" r="3.05"/><circle cx="1214.4" cy="300.8" r="3.05"/><circle cx="1206.5" cy="307.7" r="3.05"/><circle cx="1207.5" cy="326.4" r="3.05"/><circle cx="1202.5" cy="328.4" r="3.05"/><circle cx="1197.6" cy="318.5" r="3.05"/><circle cx="1191.7" cy="316.6" r="3.05"/><circle cx="1193.6" cy="330.4" r="3.05"/><circle cx="1193.6" cy="353.1" r="3.05"/><circle cx="1184.8" cy="355.0" r="3.05"/><circle cx="1177.9" cy="361.9" r="3.05"/><circle cx="1158.1" cy="371.8" r="3.05"/><circle cx="1154.2" cy="374.8" r="3.05"/><circle cx="1149.2" cy="384.6" r="3.05"/><circle cx="1179.0" cy="332.7" r="3.05"/><circle cx="1157.7" cy="361.6" r="3.05"/><circle cx="1145.0" cy="342.7" r="3.05"/><circle cx="1188.9" cy="294.2" r="3.05"/><circle cx="1127.6" cy="342.9" r="3.05"/><circle cx="1171.0" cy="351.0" r="3.05"/><circle cx="1182.0" cy="336.2" r="3.05"/><circle cx="1120.5" cy="346.7" r="3.05"/><circle cx="1160.4" cy="323.6" r="3.05"/><circle cx="1144.8" cy="358.2" r="3.05"/><circle cx="1120.0" cy="351.8" r="3.05"/><circle cx="1138.4" cy="370.5" r="3.05"/><circle cx="1167.3" cy="315.2" r="3.05"/><circle cx="1192.8" cy="326.9" r="3.05"/><circle cx="1124.5" cy="356.6" r="3.05"/><circle cx="1176.0" cy="322.6" r="3.05"/><circle cx="1191.6" cy="297.0" r="3.05"/><circle cx="1198.5" cy="316.3" r="3.05"/><circle cx="1150.0" cy="349.9" r="3.05"/><circle cx="1177.3" cy="330.9" r="3.05"/><circle cx="1158.6" cy="369.8" r="3.05"/><circle cx="1155.3" cy="330.1" r="3.05"/><circle cx="1160.1" cy="336.6" r="3.05"/><circle cx="1133.2" cy="340.6" r="3.05"/><circle cx="1168.5" cy="345.6" r="3.05"/><circle cx="1125.8" cy="339.6" r="3.05"/><circle cx="1121.9" cy="373.8" r="3.05"/><circle cx="1145.6" cy="327.4" r="3.05"/><circle cx="1148.6" cy="361.5" r="3.05"/><circle cx="1129.6" cy="359.3" r="3.05"/><circle cx="1149.2" cy="350.4" r="3.05"/><circle cx="1167.0" cy="349.5" r="3.05"/><circle cx="1140.4" cy="362.1" r="3.05"/><circle cx="1189.3" cy="293.3" r="3.05"/><circle cx="1142.7" cy="322.5" r="3.05"/><circle cx="1175.3" cy="340.0" r="3.05"/><circle cx="1139.8" cy="327.6" r="3.05"/><circle cx="1155.1" cy="349.0" r="3.05"/><circle cx="1173.4" cy="338.9" r="3.05"/><circle cx="1159.9" cy="308.8" r="3.05"/><circle cx="1143.1" cy="328.8" r="3.05"/><circle cx="1130.3" cy="381.1" r="3.05"/><circle cx="1163.8" cy="325.0" r="3.05"/><circle cx="1172.2" cy="337.1" r="3.05"/><circle cx="1163.2" cy="336.4" r="3.05"/><circle cx="1185.9" cy="331.5" r="3.05"/><circle cx="1127.3" cy="335.1" r="3.05"/><circle cx="1144.9" cy="358.8" r="3.05"/><circle cx="1181.7" cy="305.4" r="3.05"/><circle cx="1191.9" cy="309.3" r="3.05"/><circle cx="1121.4" cy="361.6" r="3.05"/><circle cx="1149.7" cy="339.0" r="3.05"/><circle cx="1192.7" cy="300.4" r="3.05"/><circle cx="1145.7" cy="370.0" r="3.05"/><circle cx="1139.0" cy="355.0" r="3.05"/><circle cx="1155.8" cy="339.1" r="3.05"/><circle cx="1166.1" cy="352.7" r="3.05"/><circle cx="1147.0" cy="359.3" r="3.05"/><circle cx="1185.4" cy="336.6" r="3.05"/><circle cx="1135.3" cy="352.4" r="3.05"/><circle cx="1162.6" cy="344.2" r="3.05"/><circle cx="1191.3" cy="327.6" r="3.05"/><circle cx="1149.7" cy="371.9" r="3.05"/><circle cx="1160.8" cy="315.9" r="3.05"/><circle cx="1118.5" cy="357.2" r="3.05"/><circle cx="1167.0" cy="328.9" r="3.05"/><circle cx="1181.2" cy="342.4" r="3.05"/><circle cx="1119.5" cy="377.2" r="3.05"/><circle cx="1184.6" cy="305.6" r="3.05"/><circle cx="1174.4" cy="326.3" r="3.05"/><circle cx="1160.5" cy="334.7" r="3.05"/><circle cx="1125.6" cy="345.6" r="3.05"/><circle cx="1180.9" cy="316.4" r="3.05"/><circle cx="1145.5" cy="336.7" r="3.05"/><circle cx="1119.1" cy="353.4" r="3.05"/><circle cx="1153.8" cy="307.5" r="3.05"/><circle cx="1141.3" cy="327.8" r="3.05"/><circle cx="1188.1" cy="317.6" r="3.05"/><circle cx="1142.5" cy="349.9" r="3.05"/><circle cx="1182.3" cy="345.7" r="3.05"/><circle cx="1179.7" cy="329.0" r="3.05"/><circle cx="1186.0" cy="303.6" r="3.05"/><circle cx="1168.6" cy="324.0" r="3.05"/><circle cx="1179.7" cy="342.2" r="3.05"/><circle cx="1163.5" cy="344.3" r="3.05"/><circle cx="1141.1" cy="345.0" r="3.05"/><circle cx="1143.1" cy="343.6" r="3.05"/><circle cx="1178.6" cy="315.8" r="3.05"/><circle cx="1179.2" cy="320.2" r="3.05"/><circle cx="1144.8" cy="353.0" r="3.05"/><circle cx="1146.3" cy="361.6" r="3.05"/><circle cx="1124.7" cy="349.9" r="3.05"/><circle cx="1178.2" cy="330.2" r="3.05"/><circle cx="1129.9" cy="376.9" r="3.05"/><circle cx="1157.1" cy="340.3" r="3.05"/><circle cx="1183.4" cy="326.6" r="3.05"/><circle cx="1189.4" cy="319.8" r="3.05"/><circle cx="1196.5" cy="319.1" r="3.05"/><circle cx="1125.5" cy="351.8" r="3.05"/><circle cx="1138.7" cy="328.3" r="3.05"/><circle cx="1128.5" cy="350.5" r="3.05"/><circle cx="1124.0" cy="362.7" r="3.05"/><circle cx="1131.3" cy="367.0" r="3.05"/><circle cx="1127.7" cy="380.8" r="3.05"/><circle cx="1149.0" cy="327.3" r="3.05"/><circle cx="1169.5" cy="301.9" r="3.05"/><circle cx="1145.3" cy="352.9" r="3.05"/><circle cx="1177.0" cy="327.7" r="3.05"/><circle cx="1153.0" cy="348.8" r="3.05"/><circle cx="1148.5" cy="328.8" r="3.05"/><circle cx="1150.2" cy="348.7" r="3.05"/><circle cx="1184.8" cy="312.7" r="3.05"/><circle cx="1140.1" cy="374.3" r="3.05"/><circle cx="1151.5" cy="357.6" r="3.05"/><circle cx="1163.0" cy="353.2" r="3.05"/><circle cx="1176.1" cy="351.9" r="3.05"/><circle cx="1156.1" cy="357.7" r="3.05"/><circle cx="1154.9" cy="328.7" r="3.05"/><circle cx="1161.4" cy="363.0" r="3.05"/><circle cx="1133.1" cy="360.2" r="3.05"/><circle cx="1130.0" cy="346.1" r="3.05"/><circle cx="1150.7" cy="313.0" r="3.05"/><circle cx="1173.0" cy="319.1" r="3.05"/><circle cx="1171.0" cy="348.4" r="3.05"/><circle cx="1131.2" cy="366.9" r="3.05"/><circle cx="1155.2" cy="339.8" r="3.05"/><circle cx="1157.6" cy="352.5" r="3.05"/><circle cx="1159.2" cy="359.3" r="3.05"/><circle cx="1149.2" cy="354.1" r="3.05"/><circle cx="1157.9" cy="354.5" r="3.05"/><circle cx="1174.3" cy="335.1" r="3.05"/><circle cx="1172.0" cy="325.5" r="3.05"/><circle cx="1136.3" cy="376.5" r="3.05"/><circle cx="1195.2" cy="311.3" r="3.05"/><circle cx="1146.5" cy="330.2" r="3.05"/><circle cx="1145.7" cy="363.8" r="3.05"/><circle cx="1152.7" cy="371.0" r="3.05"/><circle cx="1146.5" cy="362.3" r="3.05"/><circle cx="1170.9" cy="303.4" r="3.05"/><circle cx="1157.2" cy="341.9" r="3.05"/><circle cx="1187.6" cy="332.5" r="3.05"/><circle cx="1134.6" cy="343.7" r="3.05"/><circle cx="1149.2" cy="312.7" r="3.05"/><circle cx="1136.9" cy="379.8" r="3.05"/><circle cx="1186.4" cy="334.9" r="3.05"/><circle cx="1190.7" cy="330.8" r="3.05"/><circle cx="1180.3" cy="321.9" r="3.05"/><circle cx="1179.0" cy="322.3" r="3.05"/><circle cx="1162.2" cy="323.3" r="3.05"/><circle cx="1141.8" cy="326.7" r="3.05"/><circle cx="1177.9" cy="350.3" r="3.05"/><circle cx="1158.1" cy="335.6" r="3.05"/><circle cx="1152.7" cy="358.3" r="3.05"/><circle cx="1192.8" cy="325.3" r="3.05"/><circle cx="1164.1" cy="355.3" r="3.05"/><circle cx="1162.6" cy="349.3" r="3.05"/><circle cx="1187.7" cy="308.2" r="3.05"/><circle cx="1180.9" cy="298.5" r="3.05"/><circle cx="1160.6" cy="304.5" r="3.05"/><circle cx="1153.9" cy="324.6" r="3.05"/><circle cx="1166.0" cy="351.3" r="3.05"/><circle cx="1179.6" cy="318.5" r="3.05"/><circle cx="1187.9" cy="331.6" r="3.05"/><circle cx="1166.9" cy="315.9" r="3.05"/><circle cx="1172.3" cy="311.4" r="3.05"/><circle cx="1121.3" cy="365.6" r="3.05"/><circle cx="1134.0" cy="381.4" r="3.05"/><circle cx="1153.2" cy="323.5" r="3.05"/><circle cx="1167.4" cy="358.0" r="3.05"/><circle cx="1156.8" cy="363.8" r="3.05"/><circle cx="1146.4" cy="335.6" r="3.05"/><circle cx="1162.6" cy="366.7" r="3.05"/><circle cx="1188.4" cy="301.9" r="3.05"/><circle cx="1180.8" cy="320.7" r="3.05"/><circle cx="1136.8" cy="350.1" r="3.05"/><circle cx="1136.0" cy="355.5" r="3.05"/><circle cx="1151.8" cy="348.0" r="3.05"/><circle cx="1156.4" cy="358.0" r="3.05"/><circle cx="1166.7" cy="314.9" r="3.05"/><circle cx="1177.4" cy="301.8" r="3.05"/><circle cx="1129.2" cy="341.9" r="3.05"/><circle cx="1186.9" cy="327.0" r="3.05"/><circle cx="1150.2" cy="348.5" r="3.05"/><circle cx="1151.2" cy="332.3" r="3.05"/><circle cx="1164.1" cy="322.1" r="3.05"/><circle cx="1187.6" cy="321.8" r="3.05"/><circle cx="1146.6" cy="317.7" r="3.05"/><circle cx="1140.2" cy="359.5" r="3.05"/><circle cx="1129.5" cy="345.2" r="3.05"/><circle cx="1136.9" cy="343.9" r="3.05"/></g>
<g fill="#0000ff"><circle cx="364.5" cy="1259.1" r="3.05"/><circle cx="343.8" cy="1248.6" r="3.05"/><circle cx="336.9" cy="1239.3" r="3.05"/><circle cx="340.4" cy="1228.9" r="3.05"/><circle cx="345.0" cy="1231.4" r="3.05"/><circle cx="363.1" cy="1226.9" r="3.05"/><circle cx="329.6" cy="1215.7" r="3.05"/><circle cx="357.2" cy="1210.1" r="3.05"/><circle cx="388.8" cy="1205.4" r="3.05"/><circle cx="335.1" cy="1193.6" r="3.05"/><circle cx="365.1" cy="1197.3" r="3.05"/><circle cx="373.0" cy="1194.5" r="3.05"/><circle cx="389.8" cy="1192.0" r="3.05"/><circle cx="402.0" cy="1182.7" r="3.05"/><circle cx="371.0" cy="1187.0" r="3.05"/><circle cx="368.1" cy="1184.1" r="3.05"/><circle cx="374.6" cy="1178.8" r="3.05"/><circle cx="356.2" cy="1178.2" r="3.05"/><circle cx="365.1" cy="1167.3" r="3.05"/><circle cx="369.1" cy="1166.3" r="3.05"/><circle cx="388.4" cy="1170.9" r="3.05"/><circle cx="392.7" cy="1171.7" r="3.05"/><circle cx="377.9" cy="1150.0" r="3.05"/><circle cx="396.7" cy="1157.5" r="3.05"/><circle cx="405.6" cy="1164.4" r="3.05"/><circle cx="410.5" cy="1165.3" r="3.05"/><circle cx="418.4" cy="1162.4" r="3.05"/><circle cx="421.3" cy="1165.3" r="3.05"/><circle cx="433.2" cy="1160.4" r="3.05"/><circle cx="398.7" cy="1146.6" r="3.05"/><circle cx="418.4" cy="1149.6" r="3.05"/><circle cx="429.2" cy="1149.6" r="3.05"/><circle cx="432.2" cy="1148.6" r="3.05"/><circle cx="441.1" cy="1148.6" r="3.05"/><circle cx="388.8" cy="1124.9" r="3.05"/><circle cx="408.5" cy="1112.1" r="3.05"/><circle cx="400.6" cy="1101.2" r="3.05"/><circle cx="426.3" cy="1077.5" r="3.05"/><circle cx="432.2" cy="1056.8" r="3.05"/><circle cx="436.1" cy="1047.0" r="3.05"/><circle cx="456.9" cy="1037.1" r="3.05"/><circle cx="458.0" cy="1062.5" r="3.05"/><circle cx="472.8" cy="1079.6" r="3.05"/><circle cx="472.4" cy="1100.8" r="3.05"/><circle cx="460.8" cy="1067.8" r="3.05"/><circle cx="468.6" cy="1081.1" r="3.05"/><circle cx="480.8" cy="1065.5" r="3.05"/><circle cx="482.1" cy="1052.2" r="3.05"/><circle cx="444.7" cy="1107.8" r="3.05"/><circle cx="441.6" cy="1082.8" r="3.05"/><circle cx="469.8" cy="1057.8" r="3.05"/><circle cx="444.1" cy="1092.9" r="3.05"/><circle cx="412.7" cy="1114.9" r="3.05"/><circle cx="450.3" cy="1070.9" r="3.05"/><circle cx="422.4" cy="1124.8" r="3.05"/><circle cx="422.8" cy="1135.0" r="3.05"/><circle cx="476.3" cy="1062.1" r="3.05"/><circle cx="465.0" cy="1085.6" r="3.05"/><circle cx="436.7" cy="1122.5" r="3.05"/><circle cx="479.9" cy="1064.3" r="3.05"/><circle cx="427.9" cy="1096.5" r="3.05"/><circle cx="470.9" cy="1097.5" r="3.05"/><circle cx="439.9" cy="1106.7" r="3.05"/><circle cx="435.8" cy="1094.5" r="3.05"/><circle cx="457.5" cy="1074.9" r="3.05"/><circle cx="424.4" cy="1097.2" r="3.05"/><circle cx="418.4" cy="1100.9" r="3.05"/><circle cx="472.9" cy="1093.9" r="3.05"/><circle cx="483.5" cy="1052.3" r="3.05"/><circle cx="445.0" cy="1090.9" r="3.05"/><circle cx="468.0" cy="1081.0" r="3.05"/><circle cx="452.5" cy="1085.8" r="3.05"/><circle cx="401.3" cy="1159.8" r="3.05"/><circle cx="441.7" cy="1085.7" r="3.05"/><circle cx="405.8" cy="1160.5" r="3.05"/><circle cx="434.8" cy="1129.2" r="3.05"/><circle cx="422.0" cy="1162.4" r="3.05"/><circle cx="415.5" cy="1112.5" r="3.05"/><circle cx="422.1" cy="1131.4" r="3.05"/><circle cx="465.9" cy="1059.9" r="3.05"/><circle cx="427.7" cy="1133.5" r="3.05"/><circle cx="435.9" cy="1117.6" r="3.05"/><circle cx="452.3" cy="1101.9" r="3.05"/><circle cx="437.3" cy="1101.3" r="3.05"/><circle cx="423.6" cy="1129.6" r="3.05"/><circle cx="421.9" cy="1130.8" r="3.05"/><circle cx="465.1" cy="1063.7" r="3.05"/><circle cx="428.9" cy="1103.5" r="3.05"/><circle cx="439.9" cy="1088.7" r="3.05"/><circle cx="423.2" cy="1119.6" r="3.05"/><circle cx="381.7" cy="1154.3" r="3.05"/><circle cx="436.7" cy="1098.9" r="3.05"/><circle cx="431.8" cy="1113.7" r="3.05"/><circle cx="415.5" cy="1122.6" r="3.05"/><circle cx="410.1" cy="1161.5" r="3.05"/><circle cx="462.3" cy="1073.1" r="3.05"/><circle cx="487.3" cy="1069.9" r="3.05"/><circle cx="440.3" cy="1119.9" r="3.05"/><circle cx="465.7" cy="1074.0" r="3.05"/><circle cx="460.8" cy="1061.0" r="3.05"/><circle cx="421.3" cy="1114.2" r="3.05"/><circle cx="400.5" cy="1140.9" r="3.05"/><circle cx="403.1" cy="1110.1" r="3.05"/><circle cx="473.8" cy="1108.3" r="3.05"/><circle cx="431.0" cy="1081.2" r="3.05"/><circle cx="433.1" cy="1099.1" r="3.05"/></g>
<g fill="#ff0000"><circle cx="388.2" cy="1181.1" r="3.05"/><circle cx="371.0" cy="1147.0" r="3.05"/><circle cx="378.9" cy="1145.6" r="3.05"/><circle cx="386.8" cy="1138.7" r="3.05"/><circle cx="408.5" cy="1160.4" r="3.05"/><circle cx="411.5" cy="1167.3" r="3.05"/><circle cx="414.4" cy="1151.5" r="3.05"/><circle cx="441.1" cy="1141.7" r="3.05"/><circle cx="453.9" cy="1131.8" r="3.05"/><circle cx="398.7" cy="1131.8" r="3.05"/><circle cx="401.6" cy="1130.8" r="3.05"/><circle cx="401.6" cy="1096.3" r="3.05"/><circle cx="446.0" cy="1050.9" r="3.05"/><circle cx="450.0" cy="1052.9" r="3.05"/><circle cx="455.9" cy="1048.9" r="3.05"/><circle cx="459.8" cy="1045.0" r="3.05"/><circle cx="451.9" cy="1038.1" r="3.05"/><circle cx="463.4" cy="1017.4" r="3.05"/><circle cx="468.7" cy="1010.4" r="3.05"/><circle cx="472.7" cy="1028.2" r="3.05"/><circle cx="491.4" cy="1022.3" r="3.05"/><circle cx="499.3" cy="1016.4" r="3.05"/><circle cx="467.9" cy="1060.1" r="3.05"/><circle cx="474.2" cy="1086.9" r="3.05"/><circle cx="478.4" cy="1079.7" r="3.05"/><circle cx="480.3" cy="1061.0" r="3.05"/><circle cx="467.6" cy="1076.2" r="3.05"/><circle cx="466.6" cy="1096.9" r="3.05"/><circle cx="433.4" cy="1122.2" r="3.05"/><circle cx="445.3" cy="1093.4" r="3.05"/><circle cx="450.2" cy="1111.9" r="3.05"/><circle cx="488.5" cy="1061.1" r="3.05"/><circle cx="469.8" cy="1072.7" r="3.05"/><circle cx="436.0" cy="1101.3" r="3.05"/><circle cx="463.7" cy="1104.4" r="3.05"/><circle cx="467.7" cy="1072.6" r="3.05"/><circle cx="443.9" cy="1108.8" r="3.05"/><circle cx="449.7" cy="1080.8" r="3.05"/><circle cx="460.2" cy="1098.5" r="3.05"/><circle cx="447.0" cy="1070.8" r="3.05"/><circle cx="459.1" cy="1112.8" r="3.05"/><circle cx="469.8" cy="1093.3" r="3.05"/><circle cx="428.0" cy="1136.4" r="3.05"/><circle cx="422.2" cy="1095.6" r="3.05"/><circle cx="487.8" cy="1058.4" r="3.05"/><circle cx="425.0" cy="1100.4" r="3.05"/><circle cx="440.6" cy="1085.6" r="3.05"/><circle cx="469.9" cy="1092.4" r="3.05"/><circle cx="433.3" cy="1083.1" r="3.05"/><circle cx="442.9" cy="1084.6" r="3.05"/><circle cx="462.6" cy="1104.9" r="3.05"/><circle cx="460.5" cy="1081.5" r="3.05"/><circle cx="453.3" cy="1092.2" r="3.05"/><circle cx="438.5" cy="1080.0" r="3.05"/><circle cx="489.9" cy="1066.4" r="3.05"/><circle cx="481.1" cy="1087.4" r="3.05"/><circle cx="440.3" cy="1116.3" r="3.05"/><circle cx="436.7" cy="1103.3" r="3.05"/><circle cx="442.8" cy="1081.1" r="3.05"/><circle cx="446.8" cy="1069.1" r="3.05"/><circle cx="448.8" cy="1110.8" r="3.05"/><circle cx="412.2" cy="1119.7" r="3.05"/><circle cx="456.7" cy="1048.9" r="3.05"/><circle cx="441.8" cy="1060.0" r="3.05"/><circle cx="454.3" cy="1047.7" r="3.05"/><circle cx="443.6" cy="1052.2" r="3.05"/><circle cx="451.5" cy="1063.7" r="3.05"/><circle cx="445.5" cy="1059.6" r="3.05"/><circle cx="469.8" cy="1042.6" r="3.05"/><circle cx="466.6" cy="1035.1" r="3.05"/><circle cx="445.6" cy="1057.5" r="3.05"/><circle cx="458.6" cy="1055.4" r="3.05"/><circle cx="466.9" cy="1035.7" r="3.05"/><circle cx="449.2" cy="1068.1" r="3.05"/><circle cx="456.5" cy="1042.5" r="3.05"/><circle cx="438.1" cy="1059.6" r="3.05"/><circle cx="445.4" cy="1047.7" r="3.05"/><circle cx="458.5" cy="1056.0" r="3.05"/><circle cx="458.5" cy="1060.0" r="3.05"/><circle cx="449.6" cy="1052.3" r="3.05"/><circle cx="459.7" cy="1035.6" r="3.05"/><circle cx="456.6" cy="1059.8" r="3.05"/><circle cx="456.3" cy="1073.8" r="3.05"/><circle cx="401.9" cy="1130.7" r="3.05"/><circle cx="440.9" cy="1063.0" r="3.05"/><circle cx="485.2" cy="1093.0" r="3.05"/><circle cx="428.2" cy="1112.8" r="3.05"/><circle cx="474.0" cy="1077.9" r="3.05"/><circle cx="465.3" cy="1042.6" r="3.05"/><circle cx="452.0" cy="1086.6" r="3.05"/><circle cx="409.0" cy="1135.8" r="3.05"/><circle cx="440.9" cy="1100.5" r="3.05"/><circle cx="425.0" cy="1127.2" r="3.05"/><circle cx="415.7" cy="1129.2" r="3.05"/><circle cx="397.2" cy="1156.0" r="3.05"/><circle cx="443.9" cy="1117.6" r="3.05"/><circle cx="407.4" cy="1104.6" r="3.05"/><circle cx="457.6" cy="1091.2" r="3.05"/><circle cx="491.8" cy="1046.8" r="3.05"/><circle cx="490.3" cy="1058.7" r="3.05"/><circle cx="476.4" cy="1079.6" r="3.05"/><circle cx="461.5" cy="1122.6" r="3.05"/><circle cx="468.9" cy="1050.7" r="3.05"/><circle cx="456.3" cy="1085.4" r="3.05"/><circle cx="456.5" cy="1120.2" r="3.05"/><circle cx="390.8" cy="1157.4" r="3.05"/><circle cx="438.3" cy="1085.7" r="3.05"/><circle cx="460.8" cy="1074.5" r="3.05"/><circle cx="428.5" cy="1105.8" r="3.05"/><circle cx="415.6" cy="1106.6" r="3.05"/><circle cx="443.0" cy="1114.0" r="3.05"/><circle cx="407.6" cy="1130.7" r="3.05"/><circle cx="481.5" cy="1068.2" r="3.05"/><circle cx="433.4" cy="1094.1" r="3.05"/><circle cx="472.2" cy="1055.8" r="3.05"/><circle cx="459.9" cy="1047.5" r="3.05"/><circle cx="414.3" cy="1104.6" r="3.05"/></g>
<g fill="#0cf01a"><circle cx="425.3" cy="1160.4" r="3.05"/><circle cx="394.7" cy="1149.6" r="3.05"/><circle cx="400.6" cy="1148.6" r="3.05"/><circle cx="410.5" cy="1143.6" r="3.05"/><circle cx="422.3" cy="1143.6" r="3.05"/><circle cx="463.8" cy="1132.8" r="3.05"/><circle cx="461.8" cy="1127.9" r="3.05"/><circle cx="410.5" cy="1118.0" r="3.05"/><circle cx="414.4" cy="1096.3" r="3.05"/><circle cx="440.5" cy="1042.0" r="3.05"/><circle cx="441.1" cy="1060.8" r="3.05"/><circle cx="460.8" cy="1039.1" r="3.05"/><circle cx="510.7" cy="993.3" r="3.05"/><circle cx="500.3" cy="1000.6" r="3.05"/><circle cx="513.1" cy="1000.6" r="3.05"/><circle cx="529.9" cy="1003.9" r="3.05"/><circle cx="516.1" cy="1009.5" r="3.05"/><circle cx="519.0" cy="1012.4" r="3.05"/><circle cx="524.0" cy="1016.4" r="3.05"/><circle cx="491.4" cy="1012.4" r="3.05"/><circle cx="497.3" cy="1011.4" r="3.05"/><circle cx="486.5" cy="1018.3" r="3.05"/><circle cx="503.2" cy="1022.3" r="3.05"/><circle cx="514.1" cy="1028.2" r="3.05"/><circle cx="495.3" cy="1027.2" r="3.05"/><circle cx="489.4" cy="1031.2" r="3.05"/><circle cx="481.5" cy="1035.1" r="3.05"/><circle cx="524.0" cy="1046.6" r="3.05"/><circle cx="514.1" cy="1066.3" r="3.05"/><circle cx="497.3" cy="1076.6" r="3.05"/><circle cx="482.5" cy="1099.2" r="3.05"/><circle cx="475.6" cy="1105.2" r="3.05"/><circle cx="476.8" cy="1077.0" r="3.05"/><circle cx="485.8" cy="1070.3" r="3.05"/><circle cx="442.5" cy="1074.0" r="3.05"/><circle cx="416.1" cy="1114.0" r="3.05"/><circle cx="422.6" cy="1125.0" r="3.05"/><circle cx="463.4" cy="1102.0" r="3.05"/><circle cx="463.5" cy="1101.6" r="3.05"/><circle cx="465.6" cy="1106.5" r="3.05"/><circle cx="483.9" cy="1071.8" r="3.05"/><circle cx="448.4" cy="1099.5" r="3.05"/><circle cx="422.4" cy="1119.6" r="3.05"/><circle cx="478.4" cy="1060.0" r="3.05"/><circle cx="476.4" cy="1085.5" r="3.05"/><circle cx="449.6" cy="1124.5" r="3.05"/><circle cx="451.4" cy="1111.8" r="3.05"/><circle cx="456.7" cy="1107.1" r="3.05"/><circle cx="475.6" cy="1048.2" r="3.05"/><circle cx="452.7" cy="1070.7" r="3.05"/><circle cx="430.9" cy="1084.3" r="3.05"/><circle cx="448.4" cy="1068.7" r="3.05"/><circle cx="465.1" cy="1086.0" r="3.05"/><circle cx="488.5" cy="1053.2" r="3.05"/><circle cx="415.3" cy="1108.4" r="3.05"/><circle cx="452.3" cy="1085.5" r="3.05"/><circle cx="470.7" cy="1054.5" r="3.05"/><circle cx="422.9" cy="1112.2" r="3.05"/><circle cx="486.0" cy="1055.7" r="3.05"/><circle cx="444.6" cy="1106.1" r="3.05"/><circle cx="443.4" cy="1069.5" r="3.05"/><circle cx="432.1" cy="1118.8" r="3.05"/><circle cx="413.9" cy="1112.6" r="3.05"/><circle cx="414.1" cy="1127.6" r="3.05"/><circle cx="472.6" cy="1082.9" r="3.05"/><circle cx="469.0" cy="1054.9" r="3.05"/><circle cx="460.7" cy="1080.1" r="3.05"/><circle cx="449.1" cy="1125.2" r="3.05"/><circle cx="412.2" cy="1133.7" r="3.05"/><circle cx="425.4" cy="1109.8" r="3.05"/><circle cx="476.7" cy="1052.8" r="3.05"/><circle cx="433.4" cy="1083.3" r="3.05"/><circle cx="454.7" cy="1112.6" r="3.05"/><circle cx="457.2" cy="1106.2" r="3.05"/><circle cx="472.4" cy="1098.0" r="3.05"/><circle cx="442.4" cy="1091.3" r="3.05"/><circle cx="439.7" cy="1102.4" r="3.05"/><circle cx="421.9" cy="1140.0" r="3.05"/><circle cx="452.4" cy="1076.7" r="3.05"/><circle cx="436.4" cy="1103.0" r="3.05"/><circle cx="475.4" cy="1071.9" r="3.05"/><circle cx="451.3" cy="1094.5" r="3.05"/><circle cx="435.0" cy="1118.7" r="3.05"/><circle cx="477.5" cy="1062.6" r="3.05"/><circle cx="471.1" cy="1078.6" r="3.05"/><circle cx="478.1" cy="1086.6" r="3.05"/><circle cx="447.9" cy="1083.0" r="3.05"/><circle cx="473.0" cy="1049.6" r="3.05"/><circle cx="497.7" cy="1035.7" r="3.05"/><circle cx="487.8" cy="1044.7" r="3.05"/><circle cx="479.1" cy="1058.5" r="3.05"/><circle cx="485.4" cy="1056.5" r="3.05"/><circle cx="509.2" cy="1022.5" r="3.05"/><circle cx="479.9" cy="1034.7" r="3.05"/><circle cx="519.3" cy="1015.1" r="3.05"/><circle cx="479.6" cy="1034.0" r="3.05"/><circle cx="497.7" cy="1030.5" r="3.05"/><circle cx="507.3" cy="1026.2" r="3.05"/><circle cx="496.8" cy="1033.1" r="3.05"/><circle cx="521.1" cy="1013.1" r="3.05"/><circle cx="506.2" cy="1012.1" r="3.05"/><circle cx="485.1" cy="1044.1" r="3.05"/><circle cx="489.1" cy="1056.5" r="3.05"/><circle cx="497.5" cy="1032.4" r="3.05"/><circle cx="500.5" cy="1013.8" r="3.05"/><circle cx="491.8" cy="1027.4" r="3.05"/><circle cx="489.2" cy="1025.7" r="3.05"/><circle cx="498.6" cy="1019.4" r="3.05"/><circle cx="506.1" cy="1025.3" r="3.05"/><circle cx="488.8" cy="1056.9" r="3.05"/><circle cx="488.9" cy="1043.0" r="3.05"/><circle cx="473.8" cy="1052.0" r="3.05"/><circle cx="501.1" cy="1014.5" r="3.05"/><circle cx="496.1" cy="1019.2" r="3.05"/><circle cx="478.4" cy="1059.4" r="3.05"/><circle cx="501.7" cy="1040.8" r="3.05"/><circle cx="478.7" cy="1052.5" r="3.05"/><circle cx="521.6" cy="1021.1" r="3.05"/><circle cx="500.8" cy="1048.3" r="3.05"/><circle cx="491.7" cy="1040.5" r="3.05"/><circle cx="490.5" cy="1027.9" r="3.05"/><circle cx="515.6" cy="1015.0" r="3.05"/><circle cx="509.9" cy="1012.9" r="3.05"/><circle cx="511.0" cy="1036.0" r="3.05"/><circle cx="505.8" cy="1009.6" r="3.05"/><circle cx="512.1" cy="1034.7" r="3.05"/><circle cx="522.2" cy="1005.4" r="3.05"/><circle cx="497.3" cy="1049.5" r="3.05"/><circle cx="483.7" cy="1051.9" r="3.05"/><circle cx="489.8" cy="1050.7" r="3.05"/><circle cx="492.4" cy="1021.6" r="3.05"/><circle cx="501.3" cy="1046.8" r="3.05"/><circle cx="496.5" cy="1032.7" r="3.05"/><circle cx="517.5" cy="1013.9" r="3.05"/><circle cx="510.4" cy="1020.6" r="3.05"/><circle cx="483.2" cy="1032.8" r="3.05"/><circle cx="481.7" cy="1055.5" r="3.05"/><circle cx="471.4" cy="1106.1" r="3.05"/><circle cx="479.8" cy="1091.6" r="3.05"/><circle cx="471.6" cy="1094.2" r="3.05"/><circle cx="495.1" cy="1080.7" r="3.05"/><circle cx="498.6" cy="1072.4" r="3.05"/><circle cx="459.9" cy="1101.9" r="3.05"/><circle cx="486.0" cy="1073.8" r="3.05"/><circle cx="487.2" cy="1087.8" r="3.05"/><circle cx="490.2" cy="1078.9" r="3.05"/><circle cx="461.4" cy="1116.9" r="3.05"/><circle cx="473.8" cy="1091.6" r="3.05"/><circle cx="479.7" cy="1092.8" r="3.05"/><circle cx="489.3" cy="1064.3" r="3.05"/><circle cx="472.6" cy="1099.0" r="3.05"/><circle cx="468.1" cy="1084.2" r="3.05"/><circle cx="505.7" cy="1067.5" r="3.05"/><circle cx="481.4" cy="1080.4" r="3.05"/><circle cx="466.7" cy="1097.8" r="3.05"/><circle cx="486.5" cy="1097.2" r="3.05"/><circle cx="480.7" cy="1103.3" r="3.05"/><circle cx="469.6" cy="1099.6" r="3.05"/><circle cx="473.8" cy="1108.1" r="3.05"/><circle cx="464.7" cy="1093.5" r="3.05"/><circle cx="483.0" cy="1085.8" r="3.05"/><circle cx="462.8" cy="1092.5" r="3.05"/><circle cx="456.5" cy="1109.0" r="3.05"/><circle cx="500.4" cy="1059.9" r="3.05"/><circle cx="492.3" cy="1076.4" r="3.05"/><circle cx="461.9" cy="1109.2" r="3.05"/><circle cx="492.7" cy="1089.1" r="3.05"/><circle cx="500.3" cy="1072.9" r="3.05"/><circle cx="482.3" cy="1077.2" r="3.05"/><circle cx="490.0" cy="1064.2" r="3.05"/><circle cx="465.5" cy="1089.6" r="3.05"/><circle cx="485.7" cy="1075.9" r="3.05"/><circle cx="476.5" cy="1097.1" r="3.05"/><circle cx="469.9" cy="1090.1" r="3.05"/><circle cx="487.0" cy="1095.7" r="3.05"/><circle cx="467.9" cy="1095.8" r="3.05"/><circle cx="483.6" cy="1081.3" r="3.05"/><circle cx="460.4" cy="1113.1" r="3.05"/><circle cx="473.6" cy="1089.7" r="3.05"/><circle cx="482.3" cy="1076.5" r="3.05"/><circle cx="498.2" cy="1059.5" r="3.05"/><circle cx="486.6" cy="1090.8" r="3.05"/><circle cx="431.5" cy="1088.5" r="3.05"/><circle cx="442.4" cy="1078.7" r="3.05"/><circle cx="430.2" cy="1090.2" r="3.05"/><circle cx="437.8" cy="1065.2" r="3.05"/><circle cx="419.3" cy="1105.1" r="3.05"/><circle cx="418.2" cy="1085.4" r="3.05"/><circle cx="426.0" cy="1100.3" r="3.05"/><circle cx="411.9" cy="1113.2" r="3.05"/><circle cx="412.4" cy="1118.6" r="3.05"/><circle cx="410.5" cy="1111.7" r="3.05"/><circle cx="430.9" cy="1083.4" r="3.05"/><circle cx="413.8" cy="1115.9" r="3.05"/><circle cx="431.4" cy="1093.9" r="3.05"/><circle cx="420.0" cy="1105.1" r="3.05"/><circle cx="434.4" cy="1072.6" r="3.05"/><circle cx="410.5" cy="1116.9" r="3.05"/><circle cx="413.5" cy="1101.8" r="3.05"/><circle cx="412.1" cy="1112.4" r="3.05"/><circle cx="445.3" cy="1059.9" r="3.05"/><circle cx="447.9" cy="1080.2" r="3.05"/><circle cx="412.8" cy="1099.4" r="3.05"/><circle cx="448.6" cy="1071.4" r="3.05"/><circle cx="450.7" cy="1070.0" r="3.05"/><circle cx="412.3" cy="1100.4" r="3.05"/><circle cx="406.9" cy="1117.7" r="3.05"/><circle cx="449.0" cy="1067.8" r="3.05"/><circle cx="429.1" cy="1091.9" r="3.05"/><circle cx="439.7" cy="1086.5" r="3.05"/><circle cx="435.6" cy="1082.4" r="3.05"/><circle cx="451.0" cy="1074.0" r="3.05"/><circle cx="440.6" cy="1084.8" r="3.05"/><circle cx="429.2" cy="1088.9" r="3.05"/><circle cx="434.1" cy="1086.1" r="3.05"/><circle cx="409.5" cy="1112.4" r="3.05"/><circle cx="454.0" cy="1061.7" r="3.05"/><circle cx="417.0" cy="1095.6" r="3.05"/><circle cx="431.2" cy="1087.5" r="3.05"/><circle cx="439.2" cy="1089.4" r="3.05"/><circle cx="435.9" cy="1074.8" r="3.05"/><circle cx="413.4" cy="1105.9" r="3.05"/><circle cx="445.4" cy="1094.4" r="3.05"/><circle cx="448.4" cy="1082.4" r="3.05"/><circle cx="470.5" cy="1099.3" r="3.05"/><circle cx="470.9" cy="1115.0" r="3.05"/><circle cx="421.9" cy="1110.7" r="3.05"/><circle cx="440.7" cy="1094.5" r="3.05"/><circle cx="443.2" cy="1079.7" r="3.05"/><circle cx="439.2" cy="1074.0" r="3.05"/><circle cx="440.2" cy="1070.7" r="3.05"/><circle cx="443.4" cy="1092.6" r="3.05"/><circle cx="432.0" cy="1098.0" r="3.05"/><circle cx="454.1" cy="1089.5" r="3.05"/><circle cx="471.4" cy="1051.9" r="3.05"/><circle cx="450.3" cy="1116.1" r="3.05"/><circle cx="501.7" cy="1054.5" r="3.05"/><circle cx="426.1" cy="1083.2" r="3.05"/><circle cx="456.4" cy="1124.0" r="3.05"/><circle cx="494.5" cy="1070.0" r="3.05"/><circle cx="419.8" cy="1121.0" r="3.05"/><circle cx="453.3" cy="1086.4" r="3.05"/><circle cx="415.5" cy="1094.4" r="3.05"/><circle cx="471.2" cy="1057.6" r="3.05"/><circle cx="433.3" cy="1110.1" r="3.05"/><circle cx="400.7" cy="1126.2" r="3.05"/><circle cx="469.1" cy="1074.5" r="3.05"/><circle cx="486.5" cy="1087.7" r="3.05"/><circle cx="428.4" cy="1119.4" r="3.05"/><circle cx="428.6" cy="1136.0" r="3.05"/><circle cx="417.3" cy="1132.7" r="3.05"/><circle cx="477.1" cy="1051.8" r="3.05"/><circle cx="500.6" cy="1059.4" r="3.05"/><circle cx="408.2" cy="1147.5" r="3.05"/><circle cx="484.8" cy="1046.9" r="3.05"/><circle cx="434.5" cy="1072.1" r="3.05"/><circle cx="412.0" cy="1114.3" r="3.05"/><circle cx="469.4" cy="1086.0" r="3.05"/><circle cx="455.0" cy="1093.6" r="3.05"/><circle cx="447.2" cy="1101.9" r="3.05"/><circle cx="454.2" cy="1115.3" r="3.05"/><circle cx="496.6" cy="1076.1" r="3.05"/></g>
<line x1="101.7" y1="1418.3" x2="689.1" y2="868.0" stroke="#000" stroke-width="2.2"/>
<g fill="#ffff00"><circle cx="372.0" cy="1179.2" r="3.05"/><circle cx="388.2" cy="1176.2" r="3.05"/><circle cx="374.0" cy="1154.5" r="3.05"/><circle cx="383.9" cy="1147.6" r="3.05"/><circle cx="441.1" cy="1164.4" r="3.05"/><circle cx="404.6" cy="1144.6" r="3.05"/><circle cx="416.4" cy="1141.7" r="3.05"/><circle cx="457.9" cy="1143.6" r="3.05"/><circle cx="406.6" cy="1101.2" r="3.05"/><circle cx="444.0" cy="1056.8" r="3.05"/><circle cx="450.0" cy="1060.8" r="3.05"/><circle cx="475.0" cy="1012.4" r="3.05"/><circle cx="471.7" cy="1033.1" r="3.05"/><circle cx="469.7" cy="1037.1" r="3.05"/><circle cx="497.3" cy="1035.1" r="3.05"/><circle cx="499.3" cy="1039.1" r="3.05"/><circle cx="515.1" cy="1044.6" r="3.05"/><circle cx="519.0" cy="1044.6" r="3.05"/><circle cx="509.2" cy="1054.8" r="3.05"/><circle cx="505.2" cy="1068.7" r="3.05"/><circle cx="495.3" cy="1083.5" r="3.05"/><circle cx="448.8" cy="1104.5" r="3.05"/><circle cx="422.2" cy="1123.5" r="3.05"/><circle cx="489.8" cy="1057.6" r="3.05"/><circle cx="457.5" cy="1077.0" r="3.05"/><circle cx="464.5" cy="1063.6" r="3.05"/><circle cx="441.7" cy="1111.2" r="3.05"/><circle cx="456.1" cy="1061.9" r="3.05"/><circle cx="458.9" cy="1100.6" r="3.05"/><circle cx="441.3" cy="1125.8" r="3.05"/><circle cx="461.2" cy="1071.9" r="3.05"/><circle cx="471.2" cy="1092.3" r="3.05"/><circle cx="460.0" cy="1103.8" r="3.05"/><circle cx="430.6" cy="1124.5" r="3.05"/><circle cx="417.9" cy="1135.6" r="3.05"/><circle cx="464.0" cy="1075.0" r="3.05"/><circle cx="467.2" cy="1076.6" r="3.05"/><circle cx="480.1" cy="1080.4" r="3.05"/><circle cx="481.7" cy="1058.1" r="3.05"/><circle cx="435.3" cy="1107.9" r="3.05"/><circle cx="486.1" cy="1061.3" r="3.05"/><circle cx="437.7" cy="1095.0" r="3.05"/><circle cx="438.6" cy="1114.1" r="3.05"/><circle cx="456.7" cy="1072.0" r="3.05"/><circle cx="484.6" cy="1052.7" r="3.05"/><circle cx="474.9" cy="1090.4" r="3.05"/><circle cx="411.2" cy="1125.6" r="3.05"/><circle cx="452.0" cy="1084.3" r="3.05"/><circle cx="469.3" cy="1086.3" r="3.05"/><circle cx="472.3" cy="1047.6" r="3.05"/><circle cx="464.4" cy="1089.2" r="3.05"/><circle cx="440.1" cy="1087.9" r="3.05"/><circle cx="467.4" cy="1073.7" r="3.05"/><circle cx="468.0" cy="1105.1" r="3.05"/><circle cx="449.3" cy="1109.6" r="3.05"/><circle cx="487.1" cy="1041.1" r="3.05"/><circle cx="424.6" cy="1129.3" r="3.05"/><circle cx="468.9" cy="1085.8" r="3.05"/><circle cx="430.2" cy="1106.9" r="3.05"/><circle cx="451.1" cy="1102.8" r="3.05"/><circle cx="476.2" cy="1073.7" r="3.05"/><circle cx="414.9" cy="1132.5" r="3.05"/><circle cx="457.0" cy="1086.3" r="3.05"/><circle cx="487.9" cy="1078.5" r="3.05"/><circle cx="448.1" cy="1108.5" r="3.05"/><circle cx="470.1" cy="1072.6" r="3.05"/><circle cx="474.0" cy="1064.7" r="3.05"/><circle cx="419.6" cy="1140.1" r="3.05"/><circle cx="468.6" cy="1082.0" r="3.05"/><circle cx="419.0" cy="1115.5" r="3.05"/><circle cx="465.4" cy="1101.0" r="3.05"/><circle cx="437.2" cy="1133.3" r="3.05"/><circle cx="475.2" cy="1067.6" r="3.05"/><circle cx="452.1" cy="1092.2" r="3.05"/><circle cx="440.2" cy="1073.0" r="3.05"/><circle cx="471.4" cy="1073.7" r="3.05"/><circle cx="479.5" cy="1089.1" r="3.05"/><circle cx="485.5" cy="1055.1" r="3.05"/><circle cx="443.9" cy="1101.0" r="3.05"/><circle cx="460.7" cy="1085.4" r="3.05"/><circle cx="478.5" cy="1076.2" r="3.05"/><circle cx="450.7" cy="1064.4" r="3.05"/><circle cx="458.7" cy="1075.0" r="3.05"/><circle cx="444.5" cy="1107.7" r="3.05"/><circle cx="479.2" cy="1064.0" r="3.05"/><circle cx="478.8" cy="1071.6" r="3.05"/><circle cx="435.1" cy="1085.3" r="3.05"/><circle cx="458.8" cy="1084.3" r="3.05"/><circle cx="423.2" cy="1109.4" r="3.05"/><circle cx="439.1" cy="1125.2" r="3.05"/><circle cx="417.9" cy="1131.9" r="3.05"/><circle cx="432.7" cy="1112.7" r="3.05"/><circle cx="466.8" cy="1049.4" r="3.05"/><circle cx="449.7" cy="1108.2" r="3.05"/><circle cx="464.7" cy="1053.0" r="3.05"/><circle cx="473.2" cy="1043.9" r="3.05"/><circle cx="482.9" cy="1072.8" r="3.05"/><circle cx="485.0" cy="1074.1" r="3.05"/><circle cx="469.5" cy="1090.3" r="3.05"/><circle cx="467.8" cy="1087.7" r="3.05"/><circle cx="461.4" cy="1106.8" r="3.05"/><circle cx="462.8" cy="1088.3" r="3.05"/><circle cx="498.3" cy="1044.4" r="3.05"/><circle cx="472.1" cy="1050.9" r="3.05"/><circle cx="451.5" cy="1087.1" r="3.05"/><circle cx="461.2" cy="1090.6" r="3.05"/><circle cx="425.7" cy="1111.5" r="3.05"/><circle cx="448.2" cy="1069.0" r="3.05"/><circle cx="410.6" cy="1129.6" r="3.05"/><circle cx="482.3" cy="1071.8" r="3.05"/><circle cx="413.4" cy="1134.1" r="3.05"/></g>
<g fill="#000000"><circle cx="366.1" cy="1189.0" r="3.05"/><circle cx="364.1" cy="1179.6" r="3.05"/><circle cx="342.4" cy="1177.2" r="3.05"/><circle cx="355.2" cy="1167.7" r="3.05"/><circle cx="366.7" cy="1153.5" r="3.05"/><circle cx="386.8" cy="1141.7" r="3.05"/><circle cx="389.8" cy="1140.1" r="3.05"/><circle cx="389.2" cy="1157.5" r="3.05"/><circle cx="402.6" cy="1155.5" r="3.05"/><circle cx="406.6" cy="1152.5" r="3.05"/><circle cx="400.6" cy="1158.4" r="3.05"/><circle cx="439.7" cy="1163.8" r="3.05"/><circle cx="407.5" cy="1127.9" r="3.05"/><circle cx="409.5" cy="1100.2" r="3.05"/><circle cx="416.4" cy="1106.1" r="3.05"/><circle cx="420.0" cy="1069.6" r="3.05"/><circle cx="423.3" cy="1071.6" r="3.05"/><circle cx="429.2" cy="1072.6" r="3.05"/><circle cx="437.1" cy="1056.8" r="3.05"/><circle cx="478.6" cy="1034.1" r="3.05"/><circle cx="485.1" cy="1026.2" r="3.05"/><circle cx="505.2" cy="1030.2" r="3.05"/><circle cx="501.3" cy="1056.8" r="3.05"/><circle cx="500.3" cy="1048.9" r="3.05"/><circle cx="501.3" cy="1066.7" r="3.05"/><circle cx="495.3" cy="1064.7" r="3.05"/><circle cx="488.4" cy="1084.4" r="3.05"/><circle cx="483.5" cy="1090.4" r="3.05"/><circle cx="468.7" cy="1105.2" r="3.05"/><circle cx="467.7" cy="1113.1" r="3.05"/><circle cx="468.7" cy="1118.0" r="3.05"/><circle cx="463.8" cy="1120.9" r="3.05"/><circle cx="468.4" cy="1050.2" r="3.05"/><circle cx="473.4" cy="1091.5" r="3.05"/><circle cx="446.5" cy="1109.0" r="3.05"/><circle cx="465.0" cy="1072.0" r="3.05"/><circle cx="449.9" cy="1098.7" r="3.05"/><circle cx="472.6" cy="1095.3" r="3.05"/><circle cx="464.1" cy="1055.7" r="3.05"/><circle cx="425.8" cy="1123.2" r="3.05"/><circle cx="477.5" cy="1094.5" r="3.05"/><circle cx="446.6" cy="1106.6" r="3.05"/><circle cx="458.7" cy="1051.2" r="3.05"/><circle cx="492.6" cy="1047.8" r="3.05"/><circle cx="466.9" cy="1097.7" r="3.05"/><circle cx="419.7" cy="1106.9" r="3.05"/><circle cx="411.3" cy="1128.9" r="3.05"/><circle cx="437.4" cy="1107.9" r="3.05"/><circle cx="437.7" cy="1086.8" r="3.05"/><circle cx="466.7" cy="1057.5" r="3.05"/><circle cx="430.2" cy="1103.3" r="3.05"/><circle cx="462.2" cy="1060.1" r="3.05"/><circle cx="417.2" cy="1118.3" r="3.05"/><circle cx="484.6" cy="1081.5" r="3.05"/><circle cx="452.5" cy="1095.6" r="3.05"/><circle cx="437.9" cy="1117.7" r="3.05"/><circle cx="443.0" cy="1074.7" r="3.05"/><circle cx="466.7" cy="1055.3" r="3.05"/><circle cx="477.5" cy="1078.5" r="3.05"/><circle cx="434.0" cy="1126.7" r="3.05"/><circle cx="442.6" cy="1083.2" r="3.05"/><circle cx="421.5" cy="1089.5" r="3.05"/><circle cx="444.3" cy="1097.2" r="3.05"/><circle cx="444.0" cy="1122.4" r="3.05"/><circle cx="436.1" cy="1096.5" r="3.05"/><circle cx="432.0" cy="1132.7" r="3.05"/><circle cx="481.9" cy="1087.1" r="3.05"/><circle cx="494.8" cy="1061.8" r="3.05"/><circle cx="459.2" cy="1056.9" r="3.05"/><circle cx="450.0" cy="1089.3" r="3.05"/><circle cx="462.1" cy="1086.8" r="3.05"/><circle cx="462.1" cy="1058.1" r="3.05"/><circle cx="485.5" cy="1055.7" r="3.05"/><circle cx="468.4" cy="1056.0" r="3.05"/><circle cx="460.3" cy="1121.9" r="3.05"/><circle cx="415.4" cy="1140.9" r="3.05"/><circle cx="454.6" cy="1116.6" r="3.05"/><circle cx="407.4" cy="1126.4" r="3.05"/><circle cx="411.1" cy="1132.8" r="3.05"/><circle cx="434.1" cy="1143.2" r="3.05"/><circle cx="442.3" cy="1111.5" r="3.05"/><circle cx="451.0" cy="1088.3" r="3.05"/><circle cx="457.6" cy="1122.5" r="3.05"/><circle cx="440.9" cy="1105.8" r="3.05"/><circle cx="463.3" cy="1097.2" r="3.05"/><circle cx="485.0" cy="1053.9" r="3.05"/><circle cx="427.2" cy="1102.9" r="3.05"/><circle cx="414.7" cy="1137.9" r="3.05"/><circle cx="466.9" cy="1080.9" r="3.05"/><circle cx="418.6" cy="1118.1" r="3.05"/><circle cx="455.5" cy="1096.0" r="3.05"/><circle cx="463.7" cy="1119.9" r="3.05"/><circle cx="490.4" cy="1057.1" r="3.05"/><circle cx="439.2" cy="1073.4" r="3.05"/><circle cx="455.2" cy="1092.9" r="3.05"/><circle cx="443.4" cy="1092.8" r="3.05"/><circle cx="427.5" cy="1128.3" r="3.05"/><circle cx="481.0" cy="1082.7" r="3.05"/><circle cx="460.9" cy="1107.2" r="3.05"/><circle cx="437.8" cy="1099.6" r="3.05"/><circle cx="465.6" cy="1097.4" r="3.05"/><circle cx="427.9" cy="1141.1" r="3.05"/><circle cx="429.2" cy="1133.3" r="3.05"/><circle cx="483.0" cy="1065.3" r="3.05"/><circle cx="416.4" cy="1107.1" r="3.05"/><circle cx="447.7" cy="1068.7" r="3.05"/><circle cx="456.2" cy="1061.6" r="3.05"/><circle cx="450.2" cy="1074.9" r="3.05"/><circle cx="452.3" cy="1085.3" r="3.05"/><circle cx="441.1" cy="1062.1" r="3.05"/><circle cx="455.6" cy="1083.0" r="3.05"/><circle cx="440.6" cy="1113.8" r="3.05"/><circle cx="427.1" cy="1107.7" r="3.05"/><circle cx="472.8" cy="1064.8" r="3.05"/><circle cx="450.4" cy="1096.1" r="3.05"/><circle cx="437.1" cy="1141.1" r="3.05"/><circle cx="447.0" cy="1077.0" r="3.05"/><circle cx="449.9" cy="1082.1" r="3.05"/><circle cx="449.6" cy="1059.4" r="3.05"/><circle cx="451.3" cy="1076.2" r="3.05"/><circle cx="428.3" cy="1112.3" r="3.05"/><circle cx="459.0" cy="1084.5" r="3.05"/><circle cx="471.7" cy="1087.5" r="3.05"/><circle cx="427.2" cy="1103.3" r="3.05"/><circle cx="438.6" cy="1107.9" r="3.05"/><circle cx="446.3" cy="1087.7" r="3.05"/><circle cx="455.1" cy="1087.2" r="3.05"/><circle cx="421.3" cy="1100.8" r="3.05"/><circle cx="432.0" cy="1109.0" r="3.05"/><circle cx="460.8" cy="1086.2" r="3.05"/><circle cx="420.5" cy="1089.5" r="3.05"/><circle cx="455.1" cy="1062.1" r="3.05"/><circle cx="492.4" cy="1054.3" r="3.05"/><circle cx="440.1" cy="1110.2" r="3.05"/><circle cx="430.5" cy="1127.3" r="3.05"/><circle cx="447.2" cy="1112.2" r="3.05"/><circle cx="493.0" cy="1044.8" r="3.05"/><circle cx="430.3" cy="1126.4" r="3.05"/><circle cx="453.0" cy="1059.0" r="3.05"/><circle cx="434.5" cy="1077.2" r="3.05"/><circle cx="481.2" cy="1078.6" r="3.05"/><circle cx="473.5" cy="1045.8" r="3.05"/><circle cx="470.8" cy="1046.3" r="3.05"/><circle cx="466.3" cy="1046.8" r="3.05"/><circle cx="435.9" cy="1107.1" r="3.05"/><circle cx="426.1" cy="1086.3" r="3.05"/><circle cx="449.2" cy="1082.5" r="3.05"/><circle cx="461.4" cy="1073.2" r="3.05"/><circle cx="420.4" cy="1122.3" r="3.05"/><circle cx="430.5" cy="1085.2" r="3.05"/><circle cx="493.7" cy="1065.5" r="3.05"/><circle cx="443.8" cy="1077.8" r="3.05"/><circle cx="425.1" cy="1094.8" r="3.05"/><circle cx="450.3" cy="1102.6" r="3.05"/><circle cx="439.9" cy="1087.6" r="3.05"/><circle cx="461.3" cy="1051.7" r="3.05"/><circle cx="416.1" cy="1101.2" r="3.05"/><circle cx="442.7" cy="1062.5" r="3.05"/><circle cx="447.0" cy="1097.8" r="3.05"/><circle cx="455.0" cy="1073.0" r="3.05"/><circle cx="477.6" cy="1068.3" r="3.05"/><circle cx="449.8" cy="1121.3" r="3.05"/><circle cx="422.7" cy="1122.0" r="3.05"/><circle cx="439.0" cy="1070.2" r="3.05"/><circle cx="475.0" cy="1068.0" r="3.05"/><circle cx="434.2" cy="1087.8" r="3.05"/><circle cx="418.7" cy="1132.9" r="3.05"/><circle cx="443.5" cy="1060.4" r="3.05"/><circle cx="461.3" cy="1102.4" r="3.05"/><circle cx="467.0" cy="1055.5" r="3.05"/><circle cx="466.8" cy="1100.4" r="3.05"/><circle cx="444.2" cy="1063.4" r="3.05"/><circle cx="470.7" cy="1113.4" r="3.05"/><circle cx="437.8" cy="1113.3" r="3.05"/><circle cx="433.3" cy="1116.2" r="3.05"/><circle cx="483.3" cy="1064.0" r="3.05"/><circle cx="495.3" cy="1057.5" r="3.05"/><circle cx="486.4" cy="1065.9" r="3.05"/><circle cx="439.8" cy="1133.6" r="3.05"/><circle cx="410.3" cy="1108.1" r="3.05"/><circle cx="446.1" cy="1102.8" r="3.05"/><circle cx="448.7" cy="1118.1" r="3.05"/><circle cx="488.0" cy="1046.1" r="3.05"/><circle cx="479.1" cy="1045.4" r="3.05"/><circle cx="421.3" cy="1113.1" r="3.05"/><circle cx="492.5" cy="1049.7" r="3.05"/><circle cx="463.9" cy="1079.7" r="3.05"/><circle cx="465.0" cy="1046.5" r="3.05"/><circle cx="432.9" cy="1135.7" r="3.05"/><circle cx="451.1" cy="1108.6" r="3.05"/><circle cx="442.9" cy="1072.8" r="3.05"/><circle cx="431.2" cy="1137.7" r="3.05"/><circle cx="437.9" cy="1135.7" r="3.05"/><circle cx="456.1" cy="1114.9" r="3.05"/><circle cx="435.5" cy="1105.4" r="3.05"/><circle cx="414.2" cy="1132.3" r="3.05"/><circle cx="471.8" cy="1104.8" r="3.05"/><circle cx="424.1" cy="1128.0" r="3.05"/><circle cx="458.8" cy="1077.2" r="3.05"/><circle cx="447.5" cy="1089.0" r="3.05"/><circle cx="448.8" cy="1117.3" r="3.05"/><circle cx="480.3" cy="1078.9" r="3.05"/><circle cx="461.8" cy="1085.2" r="3.05"/><circle cx="419.7" cy="1129.2" r="3.05"/><circle cx="445.9" cy="1112.8" r="3.05"/><circle cx="489.0" cy="1067.5" r="3.05"/><circle cx="451.9" cy="1059.4" r="3.05"/><circle cx="478.8" cy="1062.5" r="3.05"/><circle cx="457.0" cy="1096.4" r="3.05"/><circle cx="421.7" cy="1084.3" r="3.05"/><circle cx="486.2" cy="1080.1" r="3.05"/><circle cx="445.9" cy="1100.5" r="3.05"/><circle cx="440.2" cy="1117.7" r="3.05"/><circle cx="441.5" cy="1069.7" r="3.05"/><circle cx="488.6" cy="1072.0" r="3.05"/><circle cx="427.0" cy="1129.2" r="3.05"/><circle cx="424.7" cy="1139.1" r="3.05"/><circle cx="454.1" cy="1098.9" r="3.05"/><circle cx="442.6" cy="1106.7" r="3.05"/><circle cx="480.1" cy="1070.0" r="3.05"/><circle cx="409.2" cy="1127.5" r="3.05"/><circle cx="437.7" cy="1114.2" r="3.05"/><circle cx="452.9" cy="1111.9" r="3.05"/><circle cx="412.4" cy="1126.4" r="3.05"/><circle cx="481.6" cy="1043.5" r="3.05"/><circle cx="474.4" cy="1090.3" r="3.05"/><circle cx="447.4" cy="1082.3" r="3.05"/><circle cx="448.3" cy="1091.9" r="3.05"/><circle cx="463.1" cy="1097.7" r="3.05"/><circle cx="474.4" cy="1091.2" r="3.05"/><circle cx="460.8" cy="1067.6" r="3.05"/><circle cx="472.0" cy="1094.5" r="3.05"/><circle cx="472.7" cy="1062.1" r="3.05"/><circle cx="434.7" cy="1114.5" r="3.05"/><circle cx="477.8" cy="1073.4" r="3.05"/><circle cx="447.3" cy="1078.1" r="3.05"/><circle cx="429.7" cy="1117.6" r="3.05"/><circle cx="422.6" cy="1146.0" r="3.05"/><circle cx="455.7" cy="1088.9" r="3.05"/><circle cx="443.4" cy="1104.8" r="3.05"/><circle cx="446.4" cy="1114.2" r="3.05"/><circle cx="449.3" cy="1115.8" r="3.05"/><circle cx="452.8" cy="1114.1" r="3.05"/><circle cx="482.3" cy="1041.5" r="3.05"/><circle cx="467.2" cy="1048.4" r="3.05"/><circle cx="489.4" cy="1066.6" r="3.05"/><circle cx="455.9" cy="1082.3" r="3.05"/></g>
<g fill="#0000ff"><circle cx="1090.4" cy="1259.1" r="3.05"/><circle cx="1088.5" cy="1248.6" r="3.05"/><circle cx="1084.1" cy="1239.3" r="3.05"/><circle cx="1083.1" cy="1231.4" r="3.05"/><circle cx="1088.1" cy="1226.1" r="3.05"/><circle cx="1090.0" cy="1228.9" r="3.05"/><circle cx="1089.5" cy="1215.7" r="3.05"/><circle cx="1088.1" cy="1210.3" r="3.05"/><circle cx="1093.0" cy="1205.4" r="3.05"/><circle cx="1090.0" cy="1196.9" r="3.05"/><circle cx="1090.4" cy="1193.4" r="3.05"/><circle cx="1101.9" cy="1192.0" r="3.05"/><circle cx="1099.9" cy="1187.0" r="3.05"/><circle cx="1085.1" cy="1184.1" r="3.05"/><circle cx="1090.0" cy="1182.7" r="3.05"/><circle cx="1127.5" cy="1182.7" r="3.05"/><circle cx="1089.1" cy="1167.3" r="3.05"/><circle cx="1098.9" cy="1170.9" r="3.05"/><circle cx="1103.9" cy="1170.9" r="3.05"/><circle cx="1165.0" cy="1165.3" r="3.05"/><circle cx="1094.6" cy="1155.1" r="3.05"/><circle cx="1096.0" cy="1145.6" r="3.05"/><circle cx="1094.0" cy="1140.1" r="3.05"/><circle cx="1104.8" cy="1132.2" r="3.05"/><circle cx="1100.5" cy="1125.5" r="3.05"/><circle cx="1109.2" cy="1124.9" r="3.05"/><circle cx="1104.5" cy="1113.6" r="3.05"/><circle cx="1116.7" cy="1164.4" r="3.05"/><circle cx="1130.5" cy="1167.3" r="3.05"/><circle cx="1134.4" cy="1160.4" r="3.05"/><circle cx="1138.4" cy="1164.4" r="3.05"/><circle cx="1140.8" cy="1156.5" r="3.05"/><circle cx="1129.5" cy="1149.6" r="3.05"/><circle cx="1141.3" cy="1140.7" r="3.05"/><circle cx="1155.2" cy="1140.7" r="3.05"/><circle cx="1175.9" cy="1036.1" r="3.05"/><circle cx="1166.0" cy="1046.0" r="3.05"/><circle cx="1150.2" cy="1056.8" r="3.05"/><circle cx="1112.7" cy="1101.2" r="3.05"/><circle cx="1150.3" cy="1113.1" r="3.05"/><circle cx="1185.0" cy="1090.1" r="3.05"/><circle cx="1171.1" cy="1097.2" r="3.05"/><circle cx="1160.1" cy="1109.5" r="3.05"/><circle cx="1198.2" cy="1062.4" r="3.05"/><circle cx="1152.2" cy="1110.7" r="3.05"/><circle cx="1202.9" cy="1055.1" r="3.05"/><circle cx="1193.5" cy="1060.4" r="3.05"/><circle cx="1175.1" cy="1105.7" r="3.05"/><circle cx="1194.2" cy="1057.6" r="3.05"/><circle cx="1163.9" cy="1076.5" r="3.05"/><circle cx="1177.2" cy="1071.2" r="3.05"/><circle cx="1173.5" cy="1103.3" r="3.05"/><circle cx="1162.7" cy="1109.5" r="3.05"/><circle cx="1174.8" cy="1087.8" r="3.05"/><circle cx="1188.3" cy="1062.3" r="3.05"/><circle cx="1202.8" cy="1054.0" r="3.05"/><circle cx="1202.9" cy="1063.1" r="3.05"/><circle cx="1157.3" cy="1089.7" r="3.05"/><circle cx="1161.7" cy="1078.2" r="3.05"/><circle cx="1150.5" cy="1109.5" r="3.05"/><circle cx="1161.5" cy="1093.1" r="3.05"/><circle cx="1181.2" cy="1092.2" r="3.05"/><circle cx="1148.6" cy="1114.5" r="3.05"/><circle cx="1173.1" cy="1078.8" r="3.05"/><circle cx="1198.1" cy="1061.6" r="3.05"/><circle cx="1188.4" cy="1078.9" r="3.05"/><circle cx="1178.4" cy="1104.1" r="3.05"/><circle cx="1190.4" cy="1055.0" r="3.05"/><circle cx="1172.7" cy="1089.1" r="3.05"/><circle cx="1143.7" cy="1112.5" r="3.05"/><circle cx="1173.6" cy="1086.1" r="3.05"/><circle cx="1179.8" cy="1049.3" r="3.05"/><circle cx="1147.5" cy="1117.6" r="3.05"/><circle cx="1186.9" cy="1045.2" r="3.05"/><circle cx="1199.0" cy="1081.2" r="3.05"/><circle cx="1152.4" cy="1080.1" r="3.05"/><circle cx="1208.2" cy="1056.8" r="3.05"/><circle cx="1160.0" cy="1091.3" r="3.05"/><circle cx="1147.5" cy="1112.1" r="3.05"/><circle cx="1154.6" cy="1084.6" r="3.05"/><circle cx="1194.8" cy="1089.3" r="3.05"/><circle cx="1195.6" cy="1047.8" r="3.05"/><circle cx="1168.5" cy="1103.1" r="3.05"/><circle cx="1164.8" cy="1098.2" r="3.05"/><circle cx="1170.0" cy="1084.0" r="3.05"/><circle cx="1191.6" cy="1062.0" r="3.05"/><circle cx="1122.9" cy="1121.3" r="3.05"/><circle cx="1179.1" cy="1059.9" r="3.05"/><circle cx="1187.9" cy="1085.8" r="3.05"/><circle cx="1184.7" cy="1070.0" r="3.05"/><circle cx="1173.6" cy="1100.8" r="3.05"/><circle cx="1201.4" cy="1040.8" r="3.05"/><circle cx="1176.1" cy="1084.6" r="3.05"/><circle cx="1122.1" cy="1150.1" r="3.05"/><circle cx="1167.4" cy="1114.1" r="3.05"/><circle cx="1124.9" cy="1134.7" r="3.05"/><circle cx="1139.6" cy="1122.5" r="3.05"/><circle cx="1170.1" cy="1102.8" r="3.05"/><circle cx="1127.6" cy="1129.9" r="3.05"/><circle cx="1150.4" cy="1115.0" r="3.05"/><circle cx="1136.6" cy="1137.4" r="3.05"/><circle cx="1142.4" cy="1114.3" r="3.05"/><circle cx="1201.1" cy="1082.4" r="3.05"/><circle cx="1162.4" cy="1121.5" r="3.05"/></g>
<g fill="#ff0000"><circle cx="1102.9" cy="1144.6" r="3.05"/><circle cx="1120.0" cy="1168.3" r="3.05"/><circle cx="1118.7" cy="1151.5" r="3.05"/><circle cx="1130.5" cy="1162.4" r="3.05"/><circle cx="1145.3" cy="1164.4" r="3.05"/><circle cx="1133.5" cy="1145.6" r="3.05"/><circle cx="1139.4" cy="1144.6" r="3.05"/><circle cx="1106.8" cy="1147.6" r="3.05"/><circle cx="1176.9" cy="1133.4" r="3.05"/><circle cx="1181.8" cy="1131.8" r="3.05"/><circle cx="1180.8" cy="1106.1" r="3.05"/><circle cx="1188.7" cy="1092.3" r="3.05"/><circle cx="1185.7" cy="1090.4" r="3.05"/><circle cx="1206.5" cy="1072.6" r="3.05"/><circle cx="1214.9" cy="1067.1" r="3.05"/><circle cx="1209.4" cy="1035.1" r="3.05"/><circle cx="1207.5" cy="1031.2" r="3.05"/><circle cx="1209.4" cy="1022.3" r="3.05"/><circle cx="1209.4" cy="1018.3" r="3.05"/><circle cx="1193.6" cy="1010.4" r="3.05"/><circle cx="1186.7" cy="1017.4" r="3.05"/><circle cx="1188.7" cy="1027.2" r="3.05"/><circle cx="1201.5" cy="1041.0" r="3.05"/><circle cx="1162.1" cy="1051.9" r="3.05"/><circle cx="1146.3" cy="1060.8" r="3.05"/><circle cx="1142.3" cy="1065.7" r="3.05"/><circle cx="1140.4" cy="1068.7" r="3.05"/><circle cx="1137.4" cy="1076.6" r="3.05"/><circle cx="1139.4" cy="1089.4" r="3.05"/><circle cx="1114.7" cy="1095.9" r="3.05"/><circle cx="1178.1" cy="1074.7" r="3.05"/><circle cx="1153.8" cy="1108.0" r="3.05"/><circle cx="1190.6" cy="1055.2" r="3.05"/><circle cx="1151.8" cy="1107.2" r="3.05"/><circle cx="1159.0" cy="1082.3" r="3.05"/><circle cx="1184.1" cy="1069.8" r="3.05"/><circle cx="1159.5" cy="1102.8" r="3.05"/><circle cx="1184.3" cy="1065.3" r="3.05"/><circle cx="1155.5" cy="1103.8" r="3.05"/><circle cx="1141.5" cy="1115.2" r="3.05"/><circle cx="1182.8" cy="1067.6" r="3.05"/><circle cx="1203.9" cy="1051.5" r="3.05"/><circle cx="1200.2" cy="1063.4" r="3.05"/><circle cx="1193.4" cy="1079.7" r="3.05"/><circle cx="1181.5" cy="1065.5" r="3.05"/><circle cx="1181.6" cy="1074.8" r="3.05"/><circle cx="1180.8" cy="1064.3" r="3.05"/><circle cx="1187.1" cy="1058.6" r="3.05"/><circle cx="1202.9" cy="1052.3" r="3.05"/><circle cx="1179.6" cy="1065.3" r="3.05"/><circle cx="1198.5" cy="1061.1" r="3.05"/><circle cx="1170.2" cy="1106.7" r="3.05"/><circle cx="1201.2" cy="1073.5" r="3.05"/><circle cx="1141.1" cy="1117.6" r="3.05"/><circle cx="1200.0" cy="1071.1" r="3.05"/><circle cx="1205.2" cy="1055.4" r="3.05"/><circle cx="1176.8" cy="1077.1" r="3.05"/><circle cx="1207.5" cy="1057.7" r="3.05"/><circle cx="1151.9" cy="1097.1" r="3.05"/><circle cx="1182.9" cy="1094.3" r="3.05"/><circle cx="1159.5" cy="1102.1" r="3.05"/><circle cx="1149.7" cy="1094.0" r="3.05"/><circle cx="1148.1" cy="1112.2" r="3.05"/><circle cx="1199.9" cy="1057.9" r="3.05"/><circle cx="1184.6" cy="1060.8" r="3.05"/><circle cx="1187.9" cy="1081.9" r="3.05"/><circle cx="1203.6" cy="1075.5" r="3.05"/><circle cx="1213.7" cy="1059.0" r="3.05"/><circle cx="1156.3" cy="1084.8" r="3.05"/><circle cx="1177.9" cy="1071.6" r="3.05"/><circle cx="1173.9" cy="1073.7" r="3.05"/><circle cx="1217.1" cy="1044.5" r="3.05"/><circle cx="1150.7" cy="1085.2" r="3.05"/><circle cx="1135.9" cy="1121.3" r="3.05"/><circle cx="1130.0" cy="1116.2" r="3.05"/><circle cx="1151.7" cy="1079.3" r="3.05"/><circle cx="1195.7" cy="1075.9" r="3.05"/><circle cx="1139.2" cy="1129.8" r="3.05"/><circle cx="1179.2" cy="1097.4" r="3.05"/><circle cx="1173.3" cy="1108.6" r="3.05"/><circle cx="1143.4" cy="1105.4" r="3.05"/><circle cx="1211.6" cy="1046.3" r="3.05"/><circle cx="1128.6" cy="1103.4" r="3.05"/><circle cx="1221.8" cy="1016.2" r="3.05"/><circle cx="1212.8" cy="1033.9" r="3.05"/><circle cx="1183.3" cy="1077.2" r="3.05"/><circle cx="1130.4" cy="1141.2" r="3.05"/><circle cx="1141.0" cy="1091.3" r="3.05"/><circle cx="1192.7" cy="1055.9" r="3.05"/><circle cx="1174.9" cy="1054.6" r="3.05"/><circle cx="1146.9" cy="1095.6" r="3.05"/><circle cx="1163.6" cy="1112.8" r="3.05"/><circle cx="1142.1" cy="1098.4" r="3.05"/><circle cx="1188.4" cy="1038.3" r="3.05"/><circle cx="1192.4" cy="1077.1" r="3.05"/><circle cx="1179.1" cy="1075.3" r="3.05"/><circle cx="1145.1" cy="1102.0" r="3.05"/><circle cx="1179.4" cy="1070.7" r="3.05"/><circle cx="1194.4" cy="1064.6" r="3.05"/><circle cx="1198.4" cy="1036.8" r="3.05"/><circle cx="1146.1" cy="1083.7" r="3.05"/><circle cx="1160.3" cy="1118.0" r="3.05"/><circle cx="1206.0" cy="1039.8" r="3.05"/><circle cx="1171.3" cy="1078.3" r="3.05"/><circle cx="1197.3" cy="1053.7" r="3.05"/><circle cx="1162.4" cy="1100.2" r="3.05"/><circle cx="1141.0" cy="1083.6" r="3.05"/><circle cx="1130.2" cy="1115.8" r="3.05"/><circle cx="1167.2" cy="1115.4" r="3.05"/><circle cx="1167.8" cy="1083.6" r="3.05"/><circle cx="1136.9" cy="1135.1" r="3.05"/><circle cx="1135.9" cy="1129.6" r="3.05"/><circle cx="1124.7" cy="1124.7" r="3.05"/><circle cx="1193.7" cy="1028.9" r="3.05"/><circle cx="1216.9" cy="1051.0" r="3.05"/><circle cx="1166.9" cy="1117.6" r="3.05"/><circle cx="1183.9" cy="1093.7" r="3.05"/><circle cx="1160.2" cy="1098.0" r="3.05"/><circle cx="1124.0" cy="1132.9" r="3.05"/><circle cx="1165.3" cy="1051.3" r="3.05"/><circle cx="1164.9" cy="1044.0" r="3.05"/><circle cx="1195.3" cy="1023.0" r="3.05"/><circle cx="1174.2" cy="1050.1" r="3.05"/><circle cx="1178.1" cy="1020.1" r="3.05"/><circle cx="1180.6" cy="1035.6" r="3.05"/><circle cx="1178.4" cy="1023.3" r="3.05"/><circle cx="1196.6" cy="1025.4" r="3.05"/><circle cx="1190.7" cy="1017.9" r="3.05"/><circle cx="1174.4" cy="1028.5" r="3.05"/><circle cx="1177.4" cy="1027.3" r="3.05"/><circle cx="1166.3" cy="1040.9" r="3.05"/><circle cx="1178.2" cy="1038.7" r="3.05"/><circle cx="1183.1" cy="1039.1" r="3.05"/><circle cx="1188.4" cy="1010.2" r="3.05"/><circle cx="1162.7" cy="1053.4" r="3.05"/><circle cx="1165.5" cy="1042.8" r="3.05"/><circle cx="1174.0" cy="1040.1" r="3.05"/><circle cx="1168.0" cy="1034.6" r="3.05"/><circle cx="1190.2" cy="1036.2" r="3.05"/><circle cx="1188.3" cy="1024.8" r="3.05"/><circle cx="1193.0" cy="1028.7" r="3.05"/><circle cx="1186.1" cy="1013.0" r="3.05"/></g>
<g fill="#0cf01a"><circle cx="1099.9" cy="1148.6" r="3.05"/><circle cx="1122.6" cy="1160.4" r="3.05"/><circle cx="1165.0" cy="1133.8" r="3.05"/><circle cx="1170.0" cy="1127.9" r="3.05"/><circle cx="1212.4" cy="1028.2" r="3.05"/><circle cx="1205.5" cy="1012.4" r="3.05"/><circle cx="1202.5" cy="993.7" r="3.05"/><circle cx="1212.4" cy="1000.6" r="3.05"/><circle cx="1183.8" cy="1000.6" r="3.05"/><circle cx="1198.6" cy="1003.5" r="3.05"/><circle cx="1197.6" cy="1012.4" r="3.05"/><circle cx="1170.0" cy="1013.8" r="3.05"/><circle cx="1177.9" cy="1018.3" r="3.05"/><circle cx="1176.9" cy="1022.3" r="3.05"/><circle cx="1183.8" cy="1024.3" r="3.05"/><circle cx="1196.6" cy="1023.3" r="3.05"/><circle cx="1201.5" cy="1025.2" r="3.05"/><circle cx="1181.8" cy="1029.2" r="3.05"/><circle cx="1191.7" cy="1031.2" r="3.05"/><circle cx="1169.0" cy="1032.2" r="3.05"/><circle cx="1171.9" cy="1039.1" r="3.05"/><circle cx="1177.9" cy="1043.0" r="3.05"/><circle cx="1187.7" cy="1045.0" r="3.05"/><circle cx="1197.6" cy="1046.0" r="3.05"/><circle cx="1140.4" cy="1042.0" r="3.05"/><circle cx="1138.0" cy="1045.4" r="3.05"/><circle cx="1156.1" cy="1049.9" r="3.05"/><circle cx="1163.1" cy="1046.0" r="3.05"/><circle cx="1134.4" cy="1067.7" r="3.05"/><circle cx="1138.4" cy="1083.5" r="3.05"/><circle cx="1121.6" cy="1095.3" r="3.05"/><circle cx="1127.5" cy="1093.3" r="3.05"/><circle cx="1130.5" cy="1095.3" r="3.05"/><circle cx="1122.6" cy="1105.2" r="3.05"/><circle cx="1130.5" cy="1106.1" r="3.05"/><circle cx="1138.4" cy="1104.2" r="3.05"/><circle cx="1118.7" cy="1133.8" r="3.05"/><circle cx="1134.4" cy="1112.1" r="3.05"/><circle cx="1149.7" cy="1107.9" r="3.05"/><circle cx="1202.5" cy="1065.7" r="3.05"/><circle cx="1192.4" cy="1073.3" r="3.05"/><circle cx="1169.4" cy="1102.4" r="3.05"/><circle cx="1174.7" cy="1095.5" r="3.05"/><circle cx="1160.8" cy="1097.4" r="3.05"/><circle cx="1187.8" cy="1079.0" r="3.05"/><circle cx="1166.3" cy="1108.3" r="3.05"/><circle cx="1187.4" cy="1091.0" r="3.05"/><circle cx="1146.7" cy="1115.3" r="3.05"/><circle cx="1189.5" cy="1074.2" r="3.05"/><circle cx="1155.1" cy="1108.0" r="3.05"/><circle cx="1177.3" cy="1095.8" r="3.05"/><circle cx="1157.1" cy="1113.0" r="3.05"/><circle cx="1154.6" cy="1104.1" r="3.05"/><circle cx="1172.2" cy="1105.6" r="3.05"/><circle cx="1190.5" cy="1057.6" r="3.05"/><circle cx="1183.4" cy="1079.2" r="3.05"/><circle cx="1157.4" cy="1106.0" r="3.05"/><circle cx="1185.8" cy="1068.4" r="3.05"/><circle cx="1190.8" cy="1083.0" r="3.05"/><circle cx="1164.6" cy="1092.0" r="3.05"/><circle cx="1187.3" cy="1093.3" r="3.05"/><circle cx="1164.7" cy="1096.6" r="3.05"/><circle cx="1178.3" cy="1082.2" r="3.05"/><circle cx="1145.5" cy="1102.3" r="3.05"/><circle cx="1162.8" cy="1097.2" r="3.05"/><circle cx="1164.5" cy="1074.3" r="3.05"/><circle cx="1185.8" cy="1070.3" r="3.05"/><circle cx="1183.2" cy="1079.2" r="3.05"/><circle cx="1175.7" cy="1060.7" r="3.05"/><circle cx="1155.5" cy="1068.4" r="3.05"/><circle cx="1147.4" cy="1094.8" r="3.05"/><circle cx="1162.9" cy="1055.5" r="3.05"/><circle cx="1157.4" cy="1084.9" r="3.05"/><circle cx="1169.0" cy="1066.1" r="3.05"/><circle cx="1153.3" cy="1083.9" r="3.05"/><circle cx="1174.0" cy="1062.7" r="3.05"/><circle cx="1156.8" cy="1071.4" r="3.05"/><circle cx="1136.3" cy="1097.9" r="3.05"/><circle cx="1137.2" cy="1085.7" r="3.05"/><circle cx="1145.9" cy="1079.7" r="3.05"/><circle cx="1149.4" cy="1080.6" r="3.05"/><circle cx="1157.8" cy="1092.8" r="3.05"/><circle cx="1155.0" cy="1070.7" r="3.05"/><circle cx="1154.9" cy="1074.5" r="3.05"/><circle cx="1174.8" cy="1064.7" r="3.05"/><circle cx="1140.3" cy="1095.6" r="3.05"/><circle cx="1154.3" cy="1096.2" r="3.05"/><circle cx="1161.2" cy="1063.0" r="3.05"/><circle cx="1144.1" cy="1090.3" r="3.05"/><circle cx="1148.3" cy="1066.5" r="3.05"/><circle cx="1163.6" cy="1079.6" r="3.05"/><circle cx="1149.7" cy="1077.5" r="3.05"/><circle cx="1172.5" cy="1053.2" r="3.05"/><circle cx="1135.2" cy="1096.1" r="3.05"/><circle cx="1161.2" cy="1072.7" r="3.05"/><circle cx="1147.9" cy="1081.1" r="3.05"/><circle cx="1174.6" cy="1050.7" r="3.05"/><circle cx="1167.5" cy="1052.0" r="3.05"/><circle cx="1167.1" cy="1057.2" r="3.05"/><circle cx="1145.0" cy="1072.3" r="3.05"/><circle cx="1154.6" cy="1077.8" r="3.05"/><circle cx="1156.6" cy="1062.6" r="3.05"/><circle cx="1152.1" cy="1081.2" r="3.05"/><circle cx="1147.9" cy="1084.8" r="3.05"/><circle cx="1163.8" cy="1077.4" r="3.05"/><circle cx="1162.5" cy="1065.8" r="3.05"/><circle cx="1159.5" cy="1075.8" r="3.05"/><circle cx="1165.3" cy="1068.3" r="3.05"/><circle cx="1178.0" cy="1056.7" r="3.05"/><circle cx="1158.2" cy="1085.8" r="3.05"/><circle cx="1154.7" cy="1078.9" r="3.05"/><circle cx="1172.9" cy="1060.4" r="3.05"/><circle cx="1136.9" cy="1099.0" r="3.05"/><circle cx="1157.0" cy="1079.5" r="3.05"/><circle cx="1161.4" cy="1080.4" r="3.05"/><circle cx="1164.0" cy="1077.7" r="3.05"/><circle cx="1147.6" cy="1076.4" r="3.05"/><circle cx="1161.8" cy="1066.1" r="3.05"/><circle cx="1177.6" cy="1066.4" r="3.05"/><circle cx="1153.3" cy="1088.8" r="3.05"/><circle cx="1156.7" cy="1058.5" r="3.05"/><circle cx="1161.7" cy="1089.9" r="3.05"/><circle cx="1148.9" cy="1077.2" r="3.05"/><circle cx="1160.2" cy="1080.6" r="3.05"/><circle cx="1178.1" cy="1057.3" r="3.05"/><circle cx="1177.8" cy="1058.7" r="3.05"/><circle cx="1176.9" cy="1053.5" r="3.05"/><circle cx="1150.4" cy="1087.3" r="3.05"/><circle cx="1144.0" cy="1099.5" r="3.05"/><circle cx="1146.2" cy="1099.6" r="3.05"/><circle cx="1170.1" cy="1052.3" r="3.05"/><circle cx="1157.4" cy="1057.0" r="3.05"/><circle cx="1151.2" cy="1065.1" r="3.05"/><circle cx="1165.9" cy="1058.3" r="3.05"/><circle cx="1147.0" cy="1094.8" r="3.05"/><circle cx="1138.1" cy="1087.6" r="3.05"/><circle cx="1150.2" cy="1066.8" r="3.05"/><circle cx="1159.8" cy="1073.0" r="3.05"/><circle cx="1204.2" cy="1026.7" r="3.05"/><circle cx="1203.9" cy="1010.9" r="3.05"/><circle cx="1191.4" cy="1023.7" r="3.05"/><circle cx="1175.1" cy="1057.3" r="3.05"/><circle cx="1194.7" cy="1009.8" r="3.05"/><circle cx="1163.1" cy="1040.3" r="3.05"/><circle cx="1211.4" cy="1006.9" r="3.05"/><circle cx="1181.9" cy="1020.9" r="3.05"/><circle cx="1188.9" cy="1006.4" r="3.05"/><circle cx="1189.4" cy="1034.6" r="3.05"/><circle cx="1184.9" cy="1009.8" r="3.05"/><circle cx="1165.6" cy="1046.6" r="3.05"/><circle cx="1198.6" cy="1011.7" r="3.05"/><circle cx="1162.4" cy="1053.8" r="3.05"/><circle cx="1172.0" cy="1037.6" r="3.05"/><circle cx="1191.3" cy="1025.9" r="3.05"/><circle cx="1165.7" cy="1042.5" r="3.05"/><circle cx="1201.1" cy="1034.5" r="3.05"/><circle cx="1174.5" cy="1052.0" r="3.05"/><circle cx="1190.6" cy="1029.6" r="3.05"/><circle cx="1158.8" cy="1055.2" r="3.05"/><circle cx="1173.2" cy="1036.3" r="3.05"/><circle cx="1194.9" cy="1021.6" r="3.05"/><circle cx="1195.9" cy="1037.6" r="3.05"/><circle cx="1175.9" cy="1047.5" r="3.05"/><circle cx="1159.5" cy="1051.3" r="3.05"/><circle cx="1183.7" cy="1037.6" r="3.05"/><circle cx="1161.1" cy="1044.4" r="3.05"/><circle cx="1173.1" cy="1027.8" r="3.05"/><circle cx="1179.4" cy="1050.9" r="3.05"/><circle cx="1185.5" cy="1041.2" r="3.05"/><circle cx="1197.0" cy="1015.3" r="3.05"/><circle cx="1213.8" cy="1002.5" r="3.05"/><circle cx="1163.4" cy="1038.0" r="3.05"/><circle cx="1177.4" cy="1039.8" r="3.05"/><circle cx="1172.8" cy="1034.4" r="3.05"/><circle cx="1203.0" cy="1028.6" r="3.05"/><circle cx="1190.9" cy="1003.4" r="3.05"/><circle cx="1164.5" cy="1049.2" r="3.05"/><circle cx="1202.5" cy="1015.4" r="3.05"/><circle cx="1173.3" cy="1051.6" r="3.05"/><circle cx="1186.7" cy="1032.1" r="3.05"/><circle cx="1186.8" cy="1024.7" r="3.05"/><circle cx="1183.7" cy="1033.4" r="3.05"/><circle cx="1191.6" cy="1015.1" r="3.05"/><circle cx="1169.9" cy="1050.1" r="3.05"/><circle cx="1154.2" cy="1063.6" r="3.05"/><circle cx="1155.0" cy="1063.0" r="3.05"/><circle cx="1177.2" cy="1041.9" r="3.05"/><circle cx="1169.4" cy="1056.6" r="3.05"/><circle cx="1183.7" cy="1033.9" r="3.05"/><circle cx="1174.1" cy="1044.9" r="3.05"/><circle cx="1190.7" cy="1026.8" r="3.05"/><circle cx="1172.0" cy="1062.2" r="3.05"/><circle cx="1174.8" cy="1057.2" r="3.05"/><circle cx="1182.0" cy="1049.7" r="3.05"/><circle cx="1169.8" cy="1043.5" r="3.05"/><circle cx="1163.1" cy="1068.9" r="3.05"/><circle cx="1178.1" cy="1032.1" r="3.05"/><circle cx="1167.3" cy="1062.3" r="3.05"/><circle cx="1164.3" cy="1070.4" r="3.05"/><circle cx="1176.7" cy="1056.8" r="3.05"/><circle cx="1159.7" cy="1068.2" r="3.05"/><circle cx="1165.8" cy="1048.8" r="3.05"/><circle cx="1158.9" cy="1064.7" r="3.05"/><circle cx="1190.0" cy="1039.6" r="3.05"/><circle cx="1166.1" cy="1041.5" r="3.05"/><circle cx="1172.5" cy="1063.8" r="3.05"/><circle cx="1183.2" cy="1049.5" r="3.05"/><circle cx="1180.2" cy="1045.9" r="3.05"/><circle cx="1139.5" cy="1139.7" r="3.05"/><circle cx="1141.8" cy="1109.9" r="3.05"/><circle cx="1145.9" cy="1114.5" r="3.05"/><circle cx="1158.5" cy="1102.6" r="3.05"/><circle cx="1148.3" cy="1109.8" r="3.05"/><circle cx="1153.4" cy="1125.1" r="3.05"/><circle cx="1143.9" cy="1123.6" r="3.05"/><circle cx="1126.8" cy="1131.4" r="3.05"/><circle cx="1115.2" cy="1140.1" r="3.05"/><circle cx="1135.4" cy="1134.1" r="3.05"/><circle cx="1151.0" cy="1104.2" r="3.05"/><circle cx="1151.1" cy="1095.2" r="3.05"/><circle cx="1167.7" cy="1094.2" r="3.05"/><circle cx="1164.4" cy="1102.7" r="3.05"/><circle cx="1139.2" cy="1128.7" r="3.05"/><circle cx="1152.8" cy="1104.2" r="3.05"/><circle cx="1123.6" cy="1147.5" r="3.05"/><circle cx="1114.8" cy="1139.4" r="3.05"/><circle cx="1145.1" cy="1096.4" r="3.05"/><circle cx="1122.5" cy="1142.8" r="3.05"/><circle cx="1130.0" cy="1140.1" r="3.05"/><circle cx="1162.5" cy="1103.0" r="3.05"/><circle cx="1136.0" cy="1114.7" r="3.05"/><circle cx="1160.3" cy="1102.0" r="3.05"/><circle cx="1133.6" cy="1135.0" r="3.05"/><circle cx="1144.2" cy="1100.2" r="3.05"/><circle cx="1132.2" cy="1126.8" r="3.05"/><circle cx="1132.4" cy="1125.9" r="3.05"/><circle cx="1139.4" cy="1121.9" r="3.05"/><circle cx="1165.9" cy="1102.1" r="3.05"/></g>
<line x1="818.0" y1="1418.7" x2="1406.2" y2="868.1" stroke="#000" stroke-width="2.2"/>
<g fill="#ffff00"><circle cx="1096.0" cy="1176.2" r="3.05"/><circle cx="1097.0" cy="1180.1" r="3.05"/><circle cx="1143.3" cy="1162.4" r="3.05"/><circle cx="1148.3" cy="1161.8" r="3.05"/><circle cx="1134.4" cy="1155.5" r="3.05"/><circle cx="1112.7" cy="1147.6" r="3.05"/><circle cx="1118.7" cy="1145.6" r="3.05"/><circle cx="1122.6" cy="1147.6" r="3.05"/><circle cx="1172.9" cy="1143.6" r="3.05"/><circle cx="1152.2" cy="1133.8" r="3.05"/><circle cx="1156.1" cy="1135.7" r="3.05"/><circle cx="1200.5" cy="1083.5" r="3.05"/><circle cx="1196.6" cy="1079.5" r="3.05"/><circle cx="1212.4" cy="1055.8" r="3.05"/><circle cx="1208.4" cy="1056.8" r="3.05"/><circle cx="1212.4" cy="1043.0" r="3.05"/><circle cx="1214.4" cy="1040.0" r="3.05"/><circle cx="1210.4" cy="1012.4" r="3.05"/><circle cx="1183.8" cy="1038.1" r="3.05"/><circle cx="1191.7" cy="1037.1" r="3.05"/><circle cx="1116.7" cy="1101.2" r="3.05"/><circle cx="1117.7" cy="1121.9" r="3.05"/><circle cx="1126.6" cy="1120.0" r="3.05"/><circle cx="1130.5" cy="1116.0" r="3.05"/><circle cx="1197.0" cy="1067.8" r="3.05"/><circle cx="1148.0" cy="1105.0" r="3.05"/><circle cx="1159.6" cy="1089.9" r="3.05"/><circle cx="1162.7" cy="1108.8" r="3.05"/><circle cx="1144.1" cy="1104.3" r="3.05"/><circle cx="1158.0" cy="1107.7" r="3.05"/><circle cx="1139.7" cy="1109.6" r="3.05"/><circle cx="1172.2" cy="1069.8" r="3.05"/><circle cx="1141.6" cy="1109.8" r="3.05"/><circle cx="1164.9" cy="1095.8" r="3.05"/><circle cx="1168.8" cy="1099.8" r="3.05"/><circle cx="1162.5" cy="1077.6" r="3.05"/><circle cx="1183.4" cy="1086.0" r="3.05"/><circle cx="1180.3" cy="1083.9" r="3.05"/><circle cx="1166.7" cy="1086.6" r="3.05"/><circle cx="1159.0" cy="1116.8" r="3.05"/><circle cx="1148.5" cy="1097.7" r="3.05"/><circle cx="1153.1" cy="1113.2" r="3.05"/><circle cx="1200.7" cy="1064.5" r="3.05"/><circle cx="1188.6" cy="1066.3" r="3.05"/><circle cx="1188.0" cy="1069.2" r="3.05"/><circle cx="1172.5" cy="1105.2" r="3.05"/><circle cx="1178.6" cy="1063.6" r="3.05"/><circle cx="1154.4" cy="1104.4" r="3.05"/><circle cx="1180.5" cy="1097.6" r="3.05"/><circle cx="1199.5" cy="1074.5" r="3.05"/><circle cx="1202.1" cy="1066.8" r="3.05"/><circle cx="1183.2" cy="1095.1" r="3.05"/><circle cx="1142.0" cy="1106.1" r="3.05"/><circle cx="1171.9" cy="1073.2" r="3.05"/><circle cx="1163.5" cy="1092.7" r="3.05"/><circle cx="1177.8" cy="1074.3" r="3.05"/><circle cx="1183.2" cy="1069.4" r="3.05"/><circle cx="1162.2" cy="1090.2" r="3.05"/><circle cx="1201.4" cy="1073.9" r="3.05"/><circle cx="1141.8" cy="1124.0" r="3.05"/><circle cx="1171.0" cy="1098.9" r="3.05"/><circle cx="1188.8" cy="1092.5" r="3.05"/><circle cx="1178.4" cy="1110.4" r="3.05"/><circle cx="1173.5" cy="1067.8" r="3.05"/><circle cx="1167.3" cy="1072.2" r="3.05"/><circle cx="1197.0" cy="1060.4" r="3.05"/><circle cx="1191.1" cy="1067.0" r="3.05"/><circle cx="1163.6" cy="1107.0" r="3.05"/><circle cx="1198.1" cy="1078.6" r="3.05"/><circle cx="1209.6" cy="1068.0" r="3.05"/><circle cx="1198.6" cy="1054.9" r="3.05"/><circle cx="1181.9" cy="1063.2" r="3.05"/><circle cx="1192.2" cy="1055.1" r="3.05"/><circle cx="1173.6" cy="1093.1" r="3.05"/><circle cx="1160.3" cy="1099.2" r="3.05"/><circle cx="1190.6" cy="1100.0" r="3.05"/><circle cx="1203.7" cy="1083.9" r="3.05"/><circle cx="1188.7" cy="1081.8" r="3.05"/><circle cx="1136.8" cy="1121.8" r="3.05"/><circle cx="1163.9" cy="1102.7" r="3.05"/><circle cx="1148.0" cy="1117.1" r="3.05"/><circle cx="1181.8" cy="1075.2" r="3.05"/><circle cx="1180.9" cy="1078.5" r="3.05"/><circle cx="1185.9" cy="1072.7" r="3.05"/><circle cx="1178.9" cy="1074.9" r="3.05"/><circle cx="1179.4" cy="1105.3" r="3.05"/><circle cx="1139.8" cy="1131.1" r="3.05"/><circle cx="1167.8" cy="1096.9" r="3.05"/><circle cx="1187.5" cy="1055.1" r="3.05"/><circle cx="1178.0" cy="1072.8" r="3.05"/><circle cx="1185.5" cy="1068.6" r="3.05"/><circle cx="1180.9" cy="1089.0" r="3.05"/><circle cx="1163.2" cy="1101.6" r="3.05"/><circle cx="1161.2" cy="1102.9" r="3.05"/><circle cx="1160.7" cy="1089.8" r="3.05"/><circle cx="1212.8" cy="1062.1" r="3.05"/><circle cx="1146.2" cy="1110.6" r="3.05"/><circle cx="1208.2" cy="1046.0" r="3.05"/><circle cx="1187.9" cy="1058.4" r="3.05"/><circle cx="1191.4" cy="1070.8" r="3.05"/><circle cx="1172.6" cy="1082.9" r="3.05"/><circle cx="1208.1" cy="1050.9" r="3.05"/><circle cx="1153.6" cy="1101.3" r="3.05"/><circle cx="1212.5" cy="1051.8" r="3.05"/><circle cx="1160.2" cy="1109.0" r="3.05"/><circle cx="1212.2" cy="1066.1" r="3.05"/><circle cx="1171.9" cy="1092.6" r="3.05"/><circle cx="1165.9" cy="1097.4" r="3.05"/><circle cx="1152.3" cy="1098.9" r="3.05"/><circle cx="1166.5" cy="1083.7" r="3.05"/><circle cx="1178.8" cy="1076.6" r="3.05"/><circle cx="1155.0" cy="1109.3" r="3.05"/><circle cx="1202.6" cy="1055.5" r="3.05"/><circle cx="1171.0" cy="1066.7" r="3.05"/><circle cx="1181.5" cy="1064.0" r="3.05"/><circle cx="1179.9" cy="1081.3" r="3.05"/><circle cx="1187.6" cy="1069.1" r="3.05"/><circle cx="1185.9" cy="1088.0" r="3.05"/><circle cx="1181.0" cy="1088.6" r="3.05"/><circle cx="1165.5" cy="1104.6" r="3.05"/><circle cx="1158.5" cy="1099.0" r="3.05"/><circle cx="1189.9" cy="1090.5" r="3.05"/><circle cx="1212.1" cy="1058.3" r="3.05"/><circle cx="1151.3" cy="1114.6" r="3.05"/><circle cx="1167.1" cy="1092.2" r="3.05"/><circle cx="1194.0" cy="1049.6" r="3.05"/><circle cx="1181.1" cy="1071.8" r="3.05"/><circle cx="1195.1" cy="1073.1" r="3.05"/><circle cx="1168.1" cy="1095.9" r="3.05"/></g>
<g fill="#000000"><circle cx="1084.1" cy="1179.2" r="3.05"/><circle cx="1072.3" cy="1189.0" r="3.05"/><circle cx="1050.0" cy="1176.8" r="3.05"/><circle cx="1082.2" cy="1168.3" r="3.05"/><circle cx="1097.9" cy="1155.5" r="3.05"/><circle cx="1102.9" cy="1156.5" r="3.05"/><circle cx="1106.8" cy="1140.7" r="3.05"/><circle cx="1109.8" cy="1142.7" r="3.05"/><circle cx="1111.8" cy="1157.5" r="3.05"/><circle cx="1114.7" cy="1159.4" r="3.05"/><circle cx="1121.6" cy="1152.5" r="3.05"/><circle cx="1129.5" cy="1160.4" r="3.05"/><circle cx="1138.4" cy="1149.6" r="3.05"/><circle cx="1166.0" cy="1137.7" r="3.05"/><circle cx="1161.1" cy="1138.7" r="3.05"/><circle cx="1180.8" cy="1126.9" r="3.05"/><circle cx="1181.8" cy="1121.9" r="3.05"/><circle cx="1176.9" cy="1120.9" r="3.05"/><circle cx="1173.9" cy="1118.0" r="3.05"/><circle cx="1177.9" cy="1113.1" r="3.05"/><circle cx="1186.7" cy="1106.1" r="3.05"/><circle cx="1187.7" cy="1098.3" r="3.05"/><circle cx="1191.7" cy="1083.5" r="3.05"/><circle cx="1214.4" cy="1048.9" r="3.05"/><circle cx="1219.3" cy="1032.2" r="3.05"/><circle cx="1220.3" cy="1035.1" r="3.05"/><circle cx="1208.4" cy="1027.2" r="3.05"/><circle cx="1132.5" cy="1102.2" r="3.05"/><circle cx="1136.4" cy="1100.2" r="3.05"/><circle cx="1120.6" cy="1122.9" r="3.05"/><circle cx="1140.4" cy="1115.0" r="3.05"/><circle cx="1128.5" cy="1125.9" r="3.05"/><circle cx="1133.5" cy="1127.9" r="3.05"/><circle cx="1195.5" cy="1060.8" r="3.05"/><circle cx="1185.4" cy="1071.7" r="3.05"/><circle cx="1189.1" cy="1077.3" r="3.05"/><circle cx="1133.2" cy="1130.8" r="3.05"/><circle cx="1170.2" cy="1095.0" r="3.05"/><circle cx="1136.9" cy="1124.6" r="3.05"/><circle cx="1144.8" cy="1118.2" r="3.05"/><circle cx="1181.3" cy="1081.3" r="3.05"/><circle cx="1164.4" cy="1113.0" r="3.05"/><circle cx="1157.0" cy="1118.5" r="3.05"/><circle cx="1186.6" cy="1086.2" r="3.05"/><circle cx="1140.4" cy="1107.9" r="3.05"/><circle cx="1132.2" cy="1132.4" r="3.05"/><circle cx="1171.3" cy="1092.5" r="3.05"/><circle cx="1187.6" cy="1072.8" r="3.05"/><circle cx="1166.6" cy="1080.2" r="3.05"/><circle cx="1152.9" cy="1106.7" r="3.05"/><circle cx="1200.7" cy="1060.5" r="3.05"/><circle cx="1202.2" cy="1059.8" r="3.05"/><circle cx="1155.9" cy="1113.9" r="3.05"/><circle cx="1152.1" cy="1103.5" r="3.05"/><circle cx="1140.3" cy="1120.3" r="3.05"/><circle cx="1203.2" cy="1054.6" r="3.05"/><circle cx="1179.2" cy="1070.3" r="3.05"/><circle cx="1147.9" cy="1119.8" r="3.05"/><circle cx="1176.9" cy="1099.9" r="3.05"/><circle cx="1144.5" cy="1126.4" r="3.05"/><circle cx="1179.2" cy="1089.1" r="3.05"/><circle cx="1161.7" cy="1102.8" r="3.05"/><circle cx="1148.6" cy="1104.8" r="3.05"/><circle cx="1164.4" cy="1087.9" r="3.05"/><circle cx="1170.5" cy="1109.1" r="3.05"/><circle cx="1178.1" cy="1078.3" r="3.05"/><circle cx="1166.9" cy="1088.6" r="3.05"/><circle cx="1185.6" cy="1066.4" r="3.05"/><circle cx="1178.1" cy="1085.2" r="3.05"/><circle cx="1185.6" cy="1060.0" r="3.05"/><circle cx="1173.8" cy="1082.3" r="3.05"/><circle cx="1193.5" cy="1054.9" r="3.05"/><circle cx="1155.5" cy="1121.3" r="3.05"/><circle cx="1176.9" cy="1075.3" r="3.05"/><circle cx="1146.4" cy="1124.9" r="3.05"/><circle cx="1192.2" cy="1057.5" r="3.05"/><circle cx="1201.5" cy="1060.3" r="3.05"/><circle cx="1200.2" cy="1051.3" r="3.05"/><circle cx="1181.7" cy="1101.9" r="3.05"/><circle cx="1201.4" cy="1069.4" r="3.05"/><circle cx="1167.1" cy="1098.2" r="3.05"/><circle cx="1179.0" cy="1079.8" r="3.05"/><circle cx="1177.8" cy="1067.9" r="3.05"/><circle cx="1137.8" cy="1130.8" r="3.05"/><circle cx="1184.2" cy="1093.0" r="3.05"/><circle cx="1178.2" cy="1082.9" r="3.05"/><circle cx="1173.1" cy="1087.7" r="3.05"/><circle cx="1194.8" cy="1057.6" r="3.05"/><circle cx="1171.7" cy="1077.5" r="3.05"/><circle cx="1192.4" cy="1070.9" r="3.05"/><circle cx="1143.4" cy="1110.6" r="3.05"/><circle cx="1195.3" cy="1070.9" r="3.05"/><circle cx="1157.7" cy="1115.9" r="3.05"/><circle cx="1209.8" cy="1055.7" r="3.05"/><circle cx="1209.7" cy="1052.3" r="3.05"/><circle cx="1188.6" cy="1073.8" r="3.05"/><circle cx="1166.1" cy="1081.7" r="3.05"/><circle cx="1147.0" cy="1113.4" r="3.05"/><circle cx="1205.4" cy="1072.8" r="3.05"/><circle cx="1210.9" cy="1060.3" r="3.05"/><circle cx="1209.5" cy="1062.2" r="3.05"/><circle cx="1164.2" cy="1116.8" r="3.05"/><circle cx="1176.4" cy="1094.8" r="3.05"/><circle cx="1176.9" cy="1068.8" r="3.05"/><circle cx="1152.6" cy="1122.4" r="3.05"/><circle cx="1158.0" cy="1099.2" r="3.05"/><circle cx="1152.4" cy="1107.3" r="3.05"/><circle cx="1184.0" cy="1084.5" r="3.05"/><circle cx="1207.9" cy="1062.2" r="3.05"/><circle cx="1175.5" cy="1098.1" r="3.05"/><circle cx="1138.6" cy="1133.6" r="3.05"/><circle cx="1171.7" cy="1097.2" r="3.05"/><circle cx="1184.7" cy="1071.5" r="3.05"/><circle cx="1172.6" cy="1111.7" r="3.05"/><circle cx="1169.7" cy="1101.3" r="3.05"/><circle cx="1185.5" cy="1067.9" r="3.05"/><circle cx="1157.2" cy="1083.6" r="3.05"/><circle cx="1200.2" cy="1078.9" r="3.05"/><circle cx="1177.0" cy="1093.7" r="3.05"/><circle cx="1170.0" cy="1090.9" r="3.05"/><circle cx="1159.9" cy="1120.0" r="3.05"/><circle cx="1160.7" cy="1086.1" r="3.05"/><circle cx="1195.8" cy="1076.5" r="3.05"/><circle cx="1151.9" cy="1118.4" r="3.05"/><circle cx="1156.7" cy="1090.5" r="3.05"/><circle cx="1163.3" cy="1102.0" r="3.05"/><circle cx="1186.0" cy="1075.0" r="3.05"/><circle cx="1201.9" cy="1053.7" r="3.05"/><circle cx="1172.1" cy="1084.3" r="3.05"/><circle cx="1177.5" cy="1100.9" r="3.05"/><circle cx="1178.0" cy="1074.6" r="3.05"/><circle cx="1201.0" cy="1056.8" r="3.05"/><circle cx="1168.3" cy="1080.2" r="3.05"/><circle cx="1194.3" cy="1077.3" r="3.05"/><circle cx="1208.1" cy="1051.8" r="3.05"/><circle cx="1181.9" cy="1084.4" r="3.05"/><circle cx="1172.8" cy="1071.6" r="3.05"/><circle cx="1176.6" cy="1078.0" r="3.05"/><circle cx="1198.9" cy="1081.4" r="3.05"/><circle cx="1144.9" cy="1128.4" r="3.05"/><circle cx="1171.0" cy="1071.9" r="3.05"/><circle cx="1168.8" cy="1108.2" r="3.05"/><circle cx="1165.4" cy="1086.9" r="3.05"/><circle cx="1157.1" cy="1102.5" r="3.05"/><circle cx="1150.3" cy="1126.6" r="3.05"/><circle cx="1163.5" cy="1117.3" r="3.05"/><circle cx="1176.3" cy="1081.8" r="3.05"/><circle cx="1165.8" cy="1091.1" r="3.05"/><circle cx="1155.4" cy="1085.7" r="3.05"/><circle cx="1164.5" cy="1113.9" r="3.05"/><circle cx="1163.7" cy="1080.5" r="3.05"/><circle cx="1180.5" cy="1088.9" r="3.05"/><circle cx="1148.3" cy="1103.1" r="3.05"/><circle cx="1170.6" cy="1093.7" r="3.05"/><circle cx="1151.9" cy="1110.5" r="3.05"/><circle cx="1158.5" cy="1120.5" r="3.05"/><circle cx="1175.9" cy="1096.5" r="3.05"/><circle cx="1192.8" cy="1062.9" r="3.05"/><circle cx="1158.2" cy="1115.3" r="3.05"/><circle cx="1170.2" cy="1092.5" r="3.05"/><circle cx="1173.4" cy="1089.6" r="3.05"/><circle cx="1180.4" cy="1090.8" r="3.05"/><circle cx="1141.4" cy="1110.3" r="3.05"/><circle cx="1154.7" cy="1102.3" r="3.05"/><circle cx="1209.0" cy="1050.5" r="3.05"/><circle cx="1148.4" cy="1092.5" r="3.05"/><circle cx="1142.5" cy="1105.1" r="3.05"/><circle cx="1187.3" cy="1071.8" r="3.05"/><circle cx="1163.7" cy="1094.9" r="3.05"/><circle cx="1204.4" cy="1057.1" r="3.05"/><circle cx="1158.1" cy="1116.0" r="3.05"/><circle cx="1149.0" cy="1115.5" r="3.05"/><circle cx="1165.1" cy="1095.9" r="3.05"/><circle cx="1166.4" cy="1092.5" r="3.05"/><circle cx="1186.8" cy="1085.8" r="3.05"/><circle cx="1165.4" cy="1101.6" r="3.05"/><circle cx="1176.3" cy="1100.0" r="3.05"/><circle cx="1184.7" cy="1076.7" r="3.05"/><circle cx="1186.4" cy="1076.5" r="3.05"/><circle cx="1147.1" cy="1127.7" r="3.05"/><circle cx="1167.0" cy="1106.1" r="3.05"/><circle cx="1181.0" cy="1082.1" r="3.05"/><circle cx="1148.9" cy="1092.9" r="3.05"/><circle cx="1162.0" cy="1108.4" r="3.05"/><circle cx="1135.4" cy="1128.0" r="3.05"/><circle cx="1143.2" cy="1110.2" r="3.05"/><circle cx="1201.7" cy="1076.9" r="3.05"/><circle cx="1130.7" cy="1130.0" r="3.05"/><circle cx="1151.1" cy="1102.5" r="3.05"/><circle cx="1151.2" cy="1105.5" r="3.05"/><circle cx="1159.5" cy="1106.9" r="3.05"/><circle cx="1197.8" cy="1069.8" r="3.05"/><circle cx="1172.0" cy="1111.5" r="3.05"/><circle cx="1200.3" cy="1065.5" r="3.05"/><circle cx="1182.7" cy="1100.3" r="3.05"/><circle cx="1163.9" cy="1112.2" r="3.05"/><circle cx="1206.3" cy="1053.2" r="3.05"/><circle cx="1170.8" cy="1088.4" r="3.05"/></g>
<text transform="translate(169.70 748.00)" fill="#262626"><tspan x="-2.25" y="0" font-family="'Liberation Sans',sans-serif" font-weight="bold" font-size="37.70" textLength="181.13" lengthAdjust="spacingAndGlyphs">Predicted </tspan><tspan x="184.00" y="0" font-family="'Liberation Sans',sans-serif" font-weight="bold" font-size="37.70" textLength="93.71" lengthAdjust="spacingAndGlyphs">yield </tspan><tspan x="281.87" y="-0.3" font-family="'Noto Sans CJK JP','DejaVu Sans',sans-serif" font-weight="400" stroke="#262626" stroke-width="0.5" font-size="28.60" textLength="10.62" lengthAdjust="spacingAndGlyphs">(</tspan><tspan x="294.93" y="0" font-family="'Liberation Sans',sans-serif" font-weight="bold" font-size="37.70" textLength="65.64" lengthAdjust="spacingAndGlyphs">Ton</tspan><tspan x="360.42" y="1.0" font-family="'Noto Sans CJK JP','DejaVu Sans',sans-serif" font-weight="400" stroke="#262626" stroke-width="0.5" font-size="32.80" textLength="18.75" lengthAdjust="spacingAndGlyphs">/</tspan><tspan x="380.35" y="0" font-family="'Liberation Sans',sans-serif" font-weight="bold" font-size="37.70" textLength="45.85" lengthAdjust="spacingAndGlyphs">Ha</tspan><tspan x="429.71" y="-0.3" font-family="'Noto Sans CJK JP','DejaVu Sans',sans-serif" font-weight="400" stroke="#262626" stroke-width="0.5" font-size="28.60" textLength="12.55" lengthAdjust="spacingAndGlyphs">)</tspan></text>
<text transform="translate(32.00 602.30) rotate(-90)" fill="#262626"><tspan x="-2.25" y="0" font-family="'Liberation Sans',sans-serif" font-weight="bold" font-size="37.70" textLength="175.05" lengthAdjust="spacingAndGlyphs">Reported </tspan><tspan x="177.50" y="0" font-family="'Liberation Sans',sans-serif" font-weight="bold" font-size="37.70" textLength="93.37" lengthAdjust="spacingAndGlyphs">yield </tspan><tspan x="271.37" y="-0.5" font-family="'Noto Sans CJK JP','DejaVu Sans',sans-serif" font-weight="400" stroke="#262626" stroke-width="0.5" font-size="32.50" textLength="15.13" lengthAdjust="spacingAndGlyphs">(</tspan><tspan x="292.36" y="0" font-family="'Liberation Sans',sans-serif" font-weight="bold" font-size="37.70" textLength="59.60" lengthAdjust="spacingAndGlyphs">Ton</tspan><tspan x="355.45" y="0.5" font-family="'Noto Sans CJK JP','DejaVu Sans',sans-serif" font-weight="400" stroke="#262626" stroke-width="0.5" font-size="33.93" textLength="17.59" lengthAdjust="spacingAndGlyphs">/</tspan><tspan x="376.04" y="0" font-family="'Liberation Sans',sans-serif" font-weight="bold" font-size="37.70" textLength="41.70" lengthAdjust="spacingAndGlyphs">Ha</tspan><tspan x="420.10" y="-0.5" font-family="'Noto Sans CJK JP','DejaVu Sans',sans-serif" font-weight="400" stroke="#262626" stroke-width="0.5" font-size="32.50" textLength="17.70" lengthAdjust="spacingAndGlyphs">)</tspan></text>
<text transform="translate(887.40 744.60)" fill="#262626"><tspan x="-2.25" y="0" font-family="'Liberation Sans',sans-serif" font-weight="bold" font-size="37.70" textLength="181.13" lengthAdjust="spacingAndGlyphs">Predicted </tspan><tspan x="184.00" y="0" font-family="'Liberation Sans',sans-serif" font-weight="bold" font-size="37.70" textLength="93.71" lengthAdjust="spacingAndGlyphs">yield </tspan><tspan x="280.59" y="-0.3" font-family="'Noto Sans CJK JP','DejaVu Sans',sans-serif" font-weight="400" stroke="#262626" stroke-width="0.5" font-size="31.50" textLength="12.07" lengthAdjust="spacingAndGlyphs">(</tspan><tspan x="294.93" y="0" font-family="'Liberation Sans',sans-serif" font-weight="bold" font-size="37.70" textLength="65.64" lengthAdjust="spacingAndGlyphs">Ton</tspan><tspan x="360.42" y="1.0" font-family="'Noto Sans CJK JP','DejaVu Sans',sans-serif" font-weight="400" stroke="#262626" stroke-width="0.5" font-size="32.80" textLength="18.75" lengthAdjust="spacingAndGlyphs">/</tspan><tspan x="380.35" y="0" font-family="'Liberation Sans',sans-serif" font-weight="bold" font-size="37.70" textLength="45.85" lengthAdjust="spacingAndGlyphs">Ha</tspan><tspan x="429.54" y="-0.3" font-family="'Noto Sans CJK JP','DejaVu Sans',sans-serif" font-weight="400" stroke="#262626" stroke-width="0.5" font-size="31.50" textLength="14.00" lengthAdjust="spacingAndGlyphs">)</tspan></text>
<text transform="translate(748.30 598.60) rotate(-90)" fill="#262626"><tspan x="-2.25" y="0" font-family="'Liberation Sans',sans-serif" font-weight="bold" font-size="37.70" textLength="175.05" lengthAdjust="spacingAndGlyphs">Reported </tspan><tspan x="177.50" y="0" font-family="'Liberation Sans',sans-serif" font-weight="bold" font-size="37.70" textLength="93.37" lengthAdjust="spacingAndGlyphs">yield </tspan><tspan x="271.37" y="-0.5" font-family="'Noto Sans CJK JP','DejaVu Sans',sans-serif" font-weight="400" stroke="#262626" stroke-width="0.5" font-size="32.50" textLength="15.13" lengthAdjust="spacingAndGlyphs">(</tspan><tspan x="292.36" y="0" font-family="'Liberation Sans',sans-serif" font-weight="bold" font-size="37.70" textLength="59.60" lengthAdjust="spacingAndGlyphs">Ton</tspan><tspan x="355.45" y="0.5" font-family="'Noto Sans CJK JP','DejaVu Sans',sans-serif" font-weight="400" stroke="#262626" stroke-width="0.5" font-size="33.93" textLength="17.59" lengthAdjust="spacingAndGlyphs">/</tspan><tspan x="376.04" y="0" font-family="'Liberation Sans',sans-serif" font-weight="bold" font-size="37.70" textLength="41.70" lengthAdjust="spacingAndGlyphs">Ha</tspan><tspan x="420.10" y="-0.5" font-family="'Noto Sans CJK JP','DejaVu Sans',sans-serif" font-weight="400" stroke="#262626" stroke-width="0.5" font-size="32.50" textLength="17.70" lengthAdjust="spacingAndGlyphs">)</tspan></text>
<text transform="translate(169.70 1509.10)" fill="#262626"><tspan x="-2.25" y="0" font-family="'Liberation Sans',sans-serif" font-weight="bold" font-size="37.70" textLength="181.13" lengthAdjust="spacingAndGlyphs">Predicted </tspan><tspan x="184.00" y="0" font-family="'Liberation Sans',sans-serif" font-weight="bold" font-size="37.70" textLength="93.71" lengthAdjust="spacingAndGlyphs">yield </tspan><tspan x="280.59" y="-0.3" font-family="'Noto Sans CJK JP','DejaVu Sans',sans-serif" font-weight="400" stroke="#262626" stroke-width="0.5" font-size="31.50" textLength="12.07" lengthAdjust="spacingAndGlyphs">(</tspan><tspan x="294.93" y="0" font-family="'Liberation Sans',sans-serif" font-weight="bold" font-size="37.70" textLength="65.64" lengthAdjust="spacingAndGlyphs">Ton</tspan><tspan x="360.42" y="1.0" font-family="'Noto Sans CJK JP','DejaVu Sans',sans-serif" font-weight="400" stroke="#262626" stroke-width="0.5" font-size="32.80" textLength="18.75" lengthAdjust="spacingAndGlyphs">/</tspan><tspan x="380.35" y="0" font-family="'Liberation Sans',sans-serif" font-weight="bold" font-size="37.70" textLength="45.85" lengthAdjust="spacingAndGlyphs">Ha</tspan><tspan x="429.54" y="-0.3" font-family="'Noto Sans CJK JP','DejaVu Sans',sans-serif" font-weight="400" stroke="#262626" stroke-width="0.5" font-size="31.50" textLength="14.00" lengthAdjust="spacingAndGlyphs">)</tspan></text>
<text transform="translate(32.00 1363.40) rotate(-90)" fill="#262626"><tspan x="-2.25" y="0" font-family="'Liberation Sans',sans-serif" font-weight="bold" font-size="37.70" textLength="175.05" lengthAdjust="spacingAndGlyphs">Reported </tspan><tspan x="177.50" y="0" font-family="'Liberation Sans',sans-serif" font-weight="bold" font-size="37.70" textLength="93.37" lengthAdjust="spacingAndGlyphs">yield </tspan><tspan x="271.37" y="-0.5" font-family="'Noto Sans CJK JP','DejaVu Sans',sans-serif" font-weight="400" stroke="#262626" stroke-width="0.5" font-size="32.50" textLength="15.13" lengthAdjust="spacingAndGlyphs">(</tspan><tspan x="292.36" y="0" font-family="'Liberation Sans',sans-serif" font-weight="bold" font-size="37.70" textLength="59.60" lengthAdjust="spacingAndGlyphs">Ton</tspan><tspan x="355.45" y="0.5" font-family="'Noto Sans CJK JP','DejaVu Sans',sans-serif" font-weight="400" stroke="#262626" stroke-width="0.5" font-size="33.93" textLength="17.59" lengthAdjust="spacingAndGlyphs">/</tspan><tspan x="376.04" y="0" font-family="'Liberation Sans',sans-serif" font-weight="bold" font-size="37.70" textLength="41.70" lengthAdjust="spacingAndGlyphs">Ha</tspan><tspan x="420.10" y="-0.5" font-family="'Noto Sans CJK JP','DejaVu Sans',sans-serif" font-weight="400" stroke="#262626" stroke-width="0.5" font-size="32.50" textLength="17.70" lengthAdjust="spacingAndGlyphs">)</tspan></text>
<text transform="translate(887.50 1508.70)" fill="#262626"><tspan x="-2.25" y="0" font-family="'Liberation Sans',sans-serif" font-weight="bold" font-size="37.70" textLength="181.13" lengthAdjust="spacingAndGlyphs">Predicted </tspan><tspan x="184.00" y="0" font-family="'Liberation Sans',sans-serif" font-weight="bold" font-size="37.70" textLength="93.71" lengthAdjust="spacingAndGlyphs">yield </tspan><tspan x="280.59" y="-0.3" font-family="'Noto Sans CJK JP','DejaVu Sans',sans-serif" font-weight="400" stroke="#262626" stroke-width="0.5" font-size="31.50" textLength="12.07" lengthAdjust="spacingAndGlyphs">(</tspan><tspan x="294.93" y="0" font-family="'Liberation Sans',sans-serif" font-weight="bold" font-size="37.70" textLength="65.64" lengthAdjust="spacingAndGlyphs">Ton</tspan><tspan x="360.42" y="1.0" font-family="'Noto Sans CJK JP','DejaVu Sans',sans-serif" font-weight="400" stroke="#262626" stroke-width="0.5" font-size="32.80" textLength="18.75" lengthAdjust="spacingAndGlyphs">/</tspan><tspan x="380.35" y="0" font-family="'Liberation Sans',sans-serif" font-weight="bold" font-size="37.70" textLength="45.85" lengthAdjust="spacingAndGlyphs">Ha</tspan><tspan x="429.54" y="-0.3" font-family="'Noto Sans CJK JP','DejaVu Sans',sans-serif" font-weight="400" stroke="#262626" stroke-width="0.5" font-size="31.50" textLength="14.00" lengthAdjust="spacingAndGlyphs">)</tspan></text>
<text transform="translate(748.30 1363.80) rotate(-90)" fill="#262626"><tspan x="-2.25" y="0" font-family="'Liberation Sans',sans-serif" font-weight="bold" font-size="37.70" textLength="175.05" lengthAdjust="spacingAndGlyphs">Reported </tspan><tspan x="177.50" y="0" font-family="'Liberation Sans',sans-serif" font-weight="bold" font-size="37.70" textLength="93.37" lengthAdjust="spacingAndGlyphs">yield </tspan><tspan x="271.37" y="-0.5" font-family="'Noto Sans CJK JP','DejaVu Sans',sans-serif" font-weight="400" stroke="#262626" stroke-width="0.5" font-size="32.50" textLength="15.13" lengthAdjust="spacingAndGlyphs">(</tspan><tspan x="292.36" y="0" font-family="'Liberation Sans',sans-serif" font-weight="bold" font-size="37.70" textLength="59.60" lengthAdjust="spacingAndGlyphs">Ton</tspan><tspan x="355.45" y="0.5" font-family="'Noto Sans CJK JP','DejaVu Sans',sans-serif" font-weight="400" stroke="#262626" stroke-width="0.5" font-size="33.93" textLength="17.59" lengthAdjust="spacingAndGlyphs">/</tspan><tspan x="376.04" y="0" font-family="'Liberation Sans',sans-serif" font-weight="bold" font-size="37.70" textLength="41.70" lengthAdjust="spacingAndGlyphs">Ha</tspan><tspan x="420.10" y="-0.5" font-family="'Noto Sans CJK JP','DejaVu Sans',sans-serif" font-weight="400" stroke="#262626" stroke-width="0.5" font-size="32.50" textLength="17.70" lengthAdjust="spacingAndGlyphs">)</tspan></text>
<text x="247.10" y="32.50" fill="#000"><tspan font-family="'Liberation Sans',sans-serif" font-weight="bold" font-size="37.6">Y</tspan><tspan font-family="'Noto Sans CJK JP','DejaVu Sans',sans-serif" font-weight="400" font-size="36.5" letter-spacing="2.5" dx="2.5">=0.94 </tspan><tspan font-family="'Liberation Sans',sans-serif" font-weight="bold" font-size="37.6" dx="-1.3">X</tspan><tspan font-family="'Noto Sans CJK JP','DejaVu Sans',sans-serif" font-weight="400" font-size="36.5" letter-spacing="2.5" dx="2.5">+0.64</tspan></text>
<text x="136.70" y="90.70" fill="#000"><tspan font-family="'Liberation Sans',sans-serif" font-weight="bold" font-size="37.6">R</tspan><tspan font-family="'Noto Sans CJK JP','DejaVu Sans',sans-serif" font-weight="400" font-size="28" dy="-19" dx="2.5">2</tspan><tspan font-family="'Noto Sans CJK JP','DejaVu Sans',sans-serif" font-weight="400" font-size="36.5" letter-spacing="2.9" dy="19" dx="5">=0.49</tspan></text>
<text x="347.70" y="90.70" fill="#000"><tspan font-family="'Liberation Sans',sans-serif" font-weight="bold" font-size="37.6">NRMSE</tspan><tspan font-family="'Noto Sans CJK JP','DejaVu Sans',sans-serif" font-weight="400" font-size="36.5" letter-spacing="2.9" dx="1.5">=7.88</tspan><tspan font-family="'Noto Sans CJK JP','DejaVu Sans',sans-serif" font-weight="400" font-size="36.5" textLength="24.5" lengthAdjust="spacingAndGlyphs">%</tspan></text>
<text x="950.90" y="30.80" fill="#000"><tspan font-family="'Liberation Sans',sans-serif" font-weight="bold" font-size="37.6">Y</tspan><tspan font-family="'Noto Sans CJK JP','DejaVu Sans',sans-serif" font-weight="400" font-size="36.5" letter-spacing="2.45" dx="2.5">=0.99 </tspan><tspan font-family="'Liberation Sans',sans-serif" font-weight="bold" font-size="37.6" dx="-1.2">X</tspan><tspan font-family="'Noto Sans CJK JP','DejaVu Sans',sans-serif" font-weight="400" font-size="36.5" letter-spacing="2.45" dx="2.5">+0.092</tspan></text>
<text x="853.00" y="87.70" fill="#000"><tspan font-family="'Liberation Sans',sans-serif" font-weight="bold" font-size="37.6">R</tspan><tspan font-family="'Noto Sans CJK JP','DejaVu Sans',sans-serif" font-weight="400" font-size="28" dy="-19" dx="2.5">2</tspan><tspan font-family="'Noto Sans CJK JP','DejaVu Sans',sans-serif" font-weight="400" font-size="36.5" letter-spacing="2.9" dy="19" dx="5">=0.66</tspan></text>
<text x="1064.00" y="87.70" fill="#000"><tspan font-family="'Liberation Sans',sans-serif" font-weight="bold" font-size="37.6">NRMSE</tspan><tspan font-family="'Noto Sans CJK JP','DejaVu Sans',sans-serif" font-weight="400" font-size="36.5" letter-spacing="2.9" dx="1.5">=6.31</tspan><tspan font-family="'Noto Sans CJK JP','DejaVu Sans',sans-serif" font-weight="400" font-size="36.5" textLength="24.5" lengthAdjust="spacingAndGlyphs">%</tspan></text>
<text x="285.60" y="793.80" fill="#000"><tspan font-family="'Liberation Sans',sans-serif" font-weight="bold" font-size="37.6">Y</tspan><tspan font-family="'Noto Sans CJK JP','DejaVu Sans',sans-serif" font-weight="400" font-size="36.5" letter-spacing="1.4" dx="2.5">=1 </tspan><tspan font-family="'Liberation Sans',sans-serif" font-weight="bold" font-size="37.6" dx="0.9">X</tspan><tspan font-family="'Noto Sans CJK JP','DejaVu Sans',sans-serif" font-weight="400" font-size="36.5" letter-spacing="1.4" dx="2.5">-0.48</tspan></text>
<text x="136.70" y="851.70" fill="#000"><tspan font-family="'Liberation Sans',sans-serif" font-weight="bold" font-size="37.6">R</tspan><tspan font-family="'Noto Sans CJK JP','DejaVu Sans',sans-serif" font-weight="400" font-size="28" dy="-19" dx="2.5">2</tspan><tspan font-family="'Noto Sans CJK JP','DejaVu Sans',sans-serif" font-weight="400" font-size="36.5" letter-spacing="2.9" dy="19" dx="5">=0.67</tspan></text>
<text x="347.70" y="851.70" fill="#000"><tspan font-family="'Liberation Sans',sans-serif" font-weight="bold" font-size="37.6">NRMSE</tspan><tspan font-family="'Noto Sans CJK JP','DejaVu Sans',sans-serif" font-weight="400" font-size="36.5" letter-spacing="2.9" dx="1.5">=6.37</tspan><tspan font-family="'Noto Sans CJK JP','DejaVu Sans',sans-serif" font-weight="400" font-size="36.5" textLength="24.5" lengthAdjust="spacingAndGlyphs">%</tspan></text>
<text x="1014.80" y="793.90" fill="#000"><tspan font-family="'Liberation Sans',sans-serif" font-weight="bold" font-size="37.6">Y</tspan><tspan font-family="'Noto Sans CJK JP','DejaVu Sans',sans-serif" font-weight="400" font-size="36.5" letter-spacing="1.2" dx="2.5">=1.2 </tspan><tspan font-family="'Liberation Sans',sans-serif" font-weight="bold" font-size="37.6" dx="1.3">X</tspan><tspan font-family="'Noto Sans CJK JP','DejaVu Sans',sans-serif" font-weight="400" font-size="36.5" letter-spacing="1.2" dx="2.5">-2</tspan></text>
<text x="853.00" y="851.80" fill="#000"><tspan font-family="'Liberation Sans',sans-serif" font-weight="bold" font-size="37.6">R</tspan><tspan font-family="'Noto Sans CJK JP','DejaVu Sans',sans-serif" font-weight="400" font-size="28" dy="-19" dx="2.5">2</tspan><tspan font-family="'Noto Sans CJK JP','DejaVu Sans',sans-serif" font-weight="400" font-size="36.5" letter-spacing="2.9" dy="19" dx="5">=0.69</tspan></text>
<text x="1064.00" y="851.80" fill="#000"><tspan font-family="'Liberation Sans',sans-serif" font-weight="bold" font-size="37.6">NRMSE</tspan><tspan font-family="'Noto Sans CJK JP','DejaVu Sans',sans-serif" font-weight="400" font-size="36.5" letter-spacing="2.9" dx="1.5">=6.41</tspan><tspan font-family="'Noto Sans CJK JP','DejaVu Sans',sans-serif" font-weight="400" font-size="36.5" textLength="24.5" lengthAdjust="spacingAndGlyphs">%</tspan></text>
<text fill="#000"><tspan x="109.12" y="186.5" font-family="'Noto Sans CJK JP','Liberation Sans',sans-serif" font-weight="bold" font-size="27.50" textLength="223.38" lengthAdjust="spacingAndGlyphs">(A) Uncalibrated </tspan><tspan x="336.27" y="186.5" font-family="'Noto Sans CJK JP','Liberation Sans',sans-serif" font-weight="bold" font-size="27.50" textLength="111.11" lengthAdjust="spacingAndGlyphs">MLR-SIF</tspan></text>
<text fill="#000"><tspan x="824.55" y="189.9" font-family="'Noto Sans CJK JP','Liberation Sans',sans-serif" font-weight="bold" font-size="27.50" textLength="184.15" lengthAdjust="spacingAndGlyphs">(B) calibrated </tspan><tspan x="1010.76" y="189.9" font-family="'Noto Sans CJK JP','Liberation Sans',sans-serif" font-weight="bold" font-size="27.50" textLength="111.62" lengthAdjust="spacingAndGlyphs">MLR-SIF</tspan></text>
<text fill="#000"><tspan x="108.91" y="954.7" font-family="'Noto Sans CJK JP','Liberation Sans',sans-serif" font-weight="bold" font-size="27.50" textLength="89.84" lengthAdjust="spacingAndGlyphs">(C) NN</tspan></text>
<text fill="#000"><tspan x="824.09" y="954.7" font-family="'Noto Sans CJK JP','Liberation Sans',sans-serif" font-weight="bold" font-size="27.50" textLength="81.77" lengthAdjust="spacingAndGlyphs">(D) RF</tspan></text>
<rect x="1271.6" y="877.7" width="125.1" height="196.3" fill="#fff" stroke="#404040" stroke-width="1.4"/>
<circle cx="1290.5" cy="897.8" r="3.6" fill="#0000ff"/>
<text x="1309" y="909.4" font-family="'Noto Sans CJK JP','DejaVu Sans',sans-serif" font-weight="400" font-size="31" letter-spacing="2.4" fill="#000">2015</text>
<circle cx="1290.5" cy="937.1" r="3.6" fill="#ff0000"/>
<text x="1309" y="948.7" font-family="'Noto Sans CJK JP','DejaVu Sans',sans-serif" font-weight="400" font-size="31" letter-spacing="2.4" fill="#000">2016</text>
<circle cx="1290.5" cy="976.2" r="3.6" fill="#0cf01a"/>
<text x="1309" y="987.8" font-family="'Noto Sans CJK JP','DejaVu Sans',sans-serif" font-weight="400" font-size="31" letter-spacing="2.4" fill="#000">2018</text>
<circle cx="1290.5" cy="1014.7" r="3.6" fill="#ffff00"/>
<text x="1309" y="1026.3" font-family="'Noto Sans CJK JP','DejaVu Sans',sans-serif" font-weight="400" font-size="31" letter-spacing="2.4" fill="#000">2019</text>
<circle cx="1290.5" cy="1053.6" r="3.6" fill="#000000"/>
<text x="1309" y="1065.2" font-family="'Noto Sans CJK JP','DejaVu Sans',sans-serif" font-weight="400" font-size="31" letter-spacing="2.4" fill="#000">2020</text>
</svg>
</body></html>
